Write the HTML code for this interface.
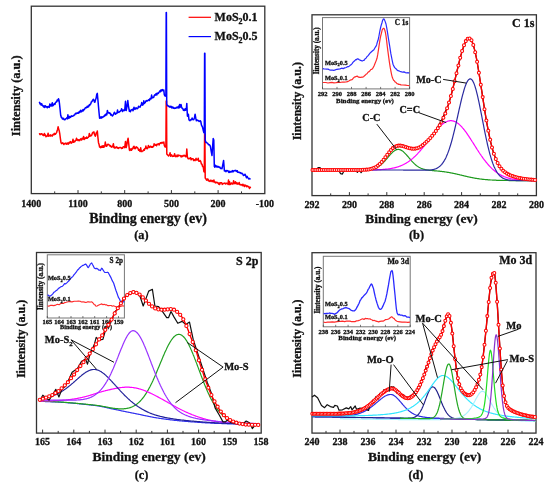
<!DOCTYPE html>
<html><head><meta charset="utf-8"><style>
html,body{margin:0;padding:0;background:#fff;}
svg{display:block;filter:blur(0.25px);}
text{font-family:"Liberation Serif",serif;fill:#111;stroke:#111;stroke-width:0.3px;}
</style></head><body>
<svg width="550" height="485" viewBox="0 0 550 485">
<rect width="550" height="485" fill="#fff"/>
<rect x="31.3" y="6.2" width="233.5" height="187.4" fill="none" stroke="#333" stroke-width="1.3"/>
<line x1="78" y1="193.6" x2="78" y2="190.1" stroke="#333" stroke-width="1.0"/>
<line x1="124.7" y1="193.6" x2="124.7" y2="190.1" stroke="#333" stroke-width="1.0"/>
<line x1="171.4" y1="193.6" x2="171.4" y2="190.1" stroke="#333" stroke-width="1.0"/>
<line x1="218.1" y1="193.6" x2="218.1" y2="190.1" stroke="#333" stroke-width="1.0"/>
<line x1="54.7" y1="193.6" x2="54.7" y2="191.4" stroke="#333" stroke-width="1.0"/>
<line x1="101.3" y1="193.6" x2="101.3" y2="191.4" stroke="#333" stroke-width="1.0"/>
<line x1="148.1" y1="193.6" x2="148.1" y2="191.4" stroke="#333" stroke-width="1.0"/>
<line x1="194.8" y1="193.6" x2="194.8" y2="191.4" stroke="#333" stroke-width="1.0"/>
<line x1="241.5" y1="193.6" x2="241.5" y2="191.4" stroke="#333" stroke-width="1.0"/>
<text x="31.3" y="206.5" font-size="10" text-anchor="middle" font-weight="bold" >1400</text>
<text x="78" y="206.5" font-size="10" text-anchor="middle" font-weight="bold" >1100</text>
<text x="124.7" y="206.5" font-size="10" text-anchor="middle" font-weight="bold" >800</text>
<text x="171.4" y="206.5" font-size="10" text-anchor="middle" font-weight="bold" >500</text>
<text x="218.1" y="206.5" font-size="10" text-anchor="middle" font-weight="bold" >200</text>
<text x="264.8" y="206.5" font-size="10" text-anchor="middle" font-weight="bold" >-100</text>
<text x="148.1" y="222.7" font-size="14" text-anchor="middle" font-weight="bold" >Binding energy (ev)</text>
<text x="141.4" y="239.3" font-size="12.3" text-anchor="middle" font-weight="bold" >(a)</text>
<text x="0" y="0" font-size="12.4" text-anchor="middle" font-weight="bold" transform="translate(19.8,95.75) rotate(-90)">Iintensity (a.u.)</text>
<polyline points="39,134 39.5,133.8 40,134.6 40.5,134.5 41,133.7 41.5,133.8 42,134 42.5,134.9 43,134.4 43.5,135.6 44,135.6 44.5,133.6 45,135.3 45.5,135.1 46,136.7 46.5,136.2 47,136.3 47.5,135.7 48.1,133.2 48.6,136.2 49.1,135.3 49.6,135.5 50.1,136.1 50.7,134.9 51.2,135.4 51.7,135.7 52.2,136.1 52.8,134.8 53.3,134.2 53.8,134.8 54.4,133.4 54.9,134.4 55.5,134.2 56,133.4 56.6,132.6 57.1,130.8 57.6,129.4 58.1,126.8 58.7,129.1 59.2,130.7 59.8,134 60.4,138.6 61,142.7 61.6,143.7 62.2,143.2 62.7,142.8 63.3,143.5 63.9,144.5 64.4,143.5 64.9,143.5 65.4,143.8 65.9,143.1 66.4,143.9 66.9,144.3 67.4,143 67.9,143 68.5,144.1 69,142.4 69.5,142.3 70,142.9 70.5,141.6 71,142.2 71.5,143.2 72,142.2 72.5,142 73,139.2 73.5,142.3 74,142.2 74.5,141.2 75,141.5 75.5,140.3 76,140.3 76.5,138.2 77,139.9 77.5,139.6 78.1,140.6 78.6,139.8 79.1,139.8 79.6,140.7 80.1,139.8 80.6,138.9 81.1,139.2 81.6,140 82.1,138.3 82.6,139.1 83.1,138.9 83.6,136.4 84.1,139.4 84.7,138.7 85.2,137.8 85.7,138.4 86.2,138.2 86.7,136.9 87.2,138.2 87.7,137.6 88.3,137.3 88.8,136.6 89.3,133.5 89.8,136.2 90.3,135.2 90.8,136 91.3,135.5 91.8,135 92.4,133 92.9,132.4 93.4,132.7 93.9,131.9 94.6,134.7 95.3,136.2 95.8,135.2 96.3,132.7 96.8,133 97.3,130.9 97.9,137.3 98.5,142.7 99,144.2 99.6,147 100.1,146.6 100.6,147.8 101.2,146.6 101.7,147.1 102.2,145.9 102.7,147.3 103.3,145.7 103.8,147.3 104.3,146.3 104.8,145.8 105.3,142 105.9,145.9 106.4,146.3 106.9,145.9 107.5,144.4 108,144.3 108.5,144.5 109,145 109.6,145 110.1,146.3 110.7,145.7 111.2,146.9 111.7,147.2 112.3,146.7 112.8,146 113.4,143.8 113.9,147.6 114.4,146.9 114.9,148.1 115.4,147.3 116,147.7 116.5,146.8 117,147.1 117.5,148.1 118,147.7 118.5,148.4 119,147.8 119.6,147.6 120.1,147.5 120.6,147.6 121.1,148 121.6,148.5 122.1,147.7 122.6,148.3 123.2,146.8 123.7,146.7 124.2,146.7 124.7,147.6 125.5,141.4 126.2,147.6 126.8,145.1 127.5,140.7 128.1,138.3 128.8,144.4 129.4,149.9 129.9,150.5 130.4,149 130.9,149.2 131.5,150.3 132,148.5 132.5,149 133,148.2 133.5,146.7 134,146.3 134.5,148.6 135,147.3 135.6,148.6 136.1,147.1 136.6,146.8 137.1,147.6 137.6,147.8 138.1,148.7 138.6,150.2 139.2,149.5 139.7,151 140.2,151.5 140.7,147.8 141.2,150.8 141.8,151.6 142.3,151.1 142.8,150.9 143.3,150.7 143.8,149.4 144.3,150.3 144.8,148.4 145.4,148.4 145.9,146.1 146.4,148.4 146.9,147.9 147.4,148.6 147.9,147.9 148.4,145.5 149,146.6 149.5,147.5 150,147.1 150.5,146.2 151,146.7 151.5,147.3 152,146.5 152.5,147.3 153,146.8 153.6,146.3 154.1,143.8 154.6,144.8 155.1,145 155.6,145.3 156.1,144.3 156.6,145.7 157.1,144.4 157.6,144.2 158.1,143.8 158.6,143.8 159.1,145.1 159.6,143.5 160.1,143.4 160.6,142.7 161.1,143.4 161.6,142.7 162.1,142.2 162.6,143 163.2,143.1 163.8,142 164.3,145.3 164.9,146.8 165.4,147 165.9,147 166.2,101 166.5,101 166.8,154 167.6,155 168.1,155.4 168.6,155.9 169.1,154.9 169.6,154.6 170.1,152.8 170.6,156.2 171.1,156 171.6,154.9 172.1,155.7 172.6,156.4 173.1,156 173.6,156.3 174.1,156 174.6,153.7 175.1,155.7 175.6,156.7 176.1,156.3 176.6,156.4 177.1,155 177.6,156.5 178.1,156.1 178.6,155.1 179.1,155.5 179.6,155.5 180.1,155.4 180.6,156 181.1,157 181.6,155.9 182.2,156.5 182.7,156.4 183.2,155.4 183.7,155.8 184.2,155.9 184.7,155.4 185.3,155.9 185.8,156.8 186.3,156.5 186.8,149.1 187.4,157 188.1,158.7 188.6,158.4 189.1,158.8 189.6,158.2 190.1,158.4 190.6,157.7 191.1,159.8 191.6,159.1 192.1,158.7 192.6,158.8 193.1,158.8 193.6,160.5 194.1,160.3 194.6,159.7 195.1,160.6 195.6,159.3 196.1,158.4 196.6,160 197.1,159.7 197.7,159.9 198.2,158.2 198.7,161 199.2,161.3 199.7,161.3 200.2,160.6 200.8,161.6 201.4,164.1 202,164.3 202.6,166.5 203.3,167.1 203.9,171.7 204.3,172 204.6,134 204.9,134 205.2,178 205.8,178.7 206.3,179.6 206.8,180.1 207.4,179 207.9,179.1 208.4,180.9 208.9,180.3 209.4,181.1 209.9,181.5 210.4,180.9 210.9,180.1 211.5,181 212,181.6 212.5,180.6 213,180.9 213.5,181.8 213.9,180 214.3,182 214.9,181.9 215.4,182.9 216,182.1 216.5,182.4 217.1,182.8 217.6,182.5 218.2,183.4 218.7,184.2 219.2,182.9 219.7,184.5 220.3,182.8 220.8,182.7 221.3,182.7 221.8,183.1 222.3,184.4 222.8,183.5 223.3,183.7 223.8,183.4 224.4,183.3 224.9,183 225.4,184 225.9,183.8 226.4,183.2 226.9,183.3 227.4,183.6 228,184.4 228.5,180 229,184.5 229.5,181.7 230,184.5 230.6,184.3 231.1,183.1 231.6,182.9 232.1,183.9 232.6,184 233.1,184 233.6,180.7 234.2,182.9 234.7,183.7 235.2,183.4 235.5,181.8 236,183.5 236.5,182.9 237.1,184.1 237.6,183.1 238.2,184.1 238.7,184 239.2,182.5 239.8,184.4 240.3,184.9 240.9,184.7 241.4,184.9 241.9,184.5 242.4,185.6 242.9,184.3 243.5,185.8 244,185.1 244.5,186.6 245,184.9 245.5,185.8 246.1,185.5 246.6,186.7 247.1,185.8 247.6,186.5 248.1,186.4 248.6,186.5 249.1,187.8 249.6,188.4 250.1,187.1 250.6,188" fill="none" stroke="#ff0000" stroke-width="1.5" stroke-linejoin="round" />
<polyline points="39,102 39.5,102.4 40.1,104 40.6,103.4 41.1,105.1 41.7,103.8 42.2,105.2 42.7,105.2 43.2,106.5 43.7,107 44.2,105.9 44.8,107.4 45.3,105.8 45.8,106.8 46.3,106.9 46.8,106.5 47.3,107.8 47.8,107.2 48.3,106.5 48.8,106.5 49.3,107.4 49.8,104.1 50.3,106 50.8,105.4 51.3,104.4 51.8,106.1 52.3,102.7 52.8,105.8 53.3,105.2 53.8,104.5 54.4,103.7 54.9,104.4 55.5,102.5 56,102.1 56.6,102 57.2,99.9 57.9,100.6 58.5,98.7 59,100.2 59.5,103.8 60.1,109.5 60.7,115.3 61.3,117.4 61.8,117.2 62.4,118.9 63,119 63.6,118.4 64.1,119.6 64.7,119.8 65.3,119.3 65.8,118.7 66.3,118.6 66.9,117.7 67.4,118.9 67.9,114.8 68.4,117.5 68.9,118.4 69.4,116.9 70,116.4 70.5,117.4 71,116.7 71.5,115.9 72,116.3 72.6,116.3 73.1,115.8 73.6,115.8 74.1,115 74.7,115 75.2,113.7 75.7,113.2 76.2,113.8 76.7,113.1 77.3,113 77.8,113.3 78.3,112.4 78.8,113.1 79.3,111.8 79.9,112.3 80.4,110.4 80.9,110.3 81.4,111.8 81.9,111.4 82.4,111 83,109.5 83.5,110.7 84,109.5 84.5,109.3 85.1,108.2 85.6,107.6 86.1,107.4 86.6,107.8 87.2,106.2 87.7,107.1 88.2,106 88.7,106.6 89.3,104.7 89.8,105.2 90.3,104.2 90.8,103.8 91.3,102 91.9,101.7 92.4,100.7 92.9,99.9 93.4,99.4 93.9,100.1 94.4,102.1 94.9,102.3 95.5,99.8 96.1,98.3 96.7,94.6 97.3,93.4 97.9,99.8 98.5,106.6 99,112.2 99.6,118.2 100.1,118 100.7,117 101.2,118.1 101.7,116.9 102.3,117.4 102.8,117.5 103.4,116.3 104,116.5 104.6,115.9 105.2,114.6 105.7,115.5 106.3,113.8 106.8,114.8 107.4,110.4 107.9,112.8 108.5,112.5 109.1,113.2 109.6,112.8 110.2,113.4 110.7,115.1 111.3,114.3 111.8,115.2 112.4,115.9 112.9,115.3 113.4,114.7 113.9,113.3 114.4,112.2 114.9,113.5 115.5,114.1 116,113.2 116.5,113.5 117,113.3 117.5,110 118,112.3 118.5,112 119,112.4 119.5,111.7 120,111.6 120.6,110.8 121.1,110.6 121.6,108.7 122.1,110.3 122.6,111.6 123.2,110 123.7,110.5 124.2,109.9 124.7,110.5 125.5,101.2 126.2,110.5 126.7,108.2 127.3,104.5 127.8,100.5 128.3,105.1 128.9,108.6 129.4,111.3 129.9,110.4 130.4,111.7 130.9,110.4 131.5,109.8 132,109.8 132.5,109.3 133,110.7 133.5,109.2 134,107.3 134.5,108.6 135,109.4 135.6,108.2 136.1,107.8 136.6,108.7 137.1,108.2 137.6,108.6 138.1,107.6 138.6,106.3 139.2,107 139.7,107 140.2,107 140.7,105.4 141.2,105.2 141.7,102.6 142.2,104.1 142.7,105.2 143.3,104.2 143.8,100.8 144.3,103.4 144.8,102.8 145.3,102.5 145.8,101.3 146.4,100.5 146.9,101.1 147.4,100.7 147.9,100.8 148.4,99.7 149,99.9 149.5,100.4 150,98.5 150.5,99.1 151,99 151.6,95.1 152.1,97.9 152.6,97.4 153.1,97.3 153.7,97.4 154.2,95.7 154.7,94.8 155.3,95.1 155.8,94 156.3,93.5 156.8,95 157.4,93.1 157.9,93.3 158.4,93.5 159,92 159.5,92 160,90.7 160.5,91.8 161.1,89.8 161.6,90.9 162.1,90.5 162.6,89.6 163.2,90.6 163.8,90.1 164.3,94.7 164.9,95.8 165.4,96.1 165.9,95 166.2,12.4 166.4,12.4 166.7,104 167.4,105.8 167.9,105.5 168.4,106.1 168.9,106.5 169.4,107 169.9,106.3 170.4,107.1 170.9,106.2 171.4,106.7 171.9,108.1 172.4,106.9 172.9,107 173.5,108.2 174,107.8 174.5,108.4 175,108.2 175.5,108.3 176,107.6 176.5,107.9 177,107 177.5,107.5 178,108 178.6,106.2 179.1,107.9 179.6,104.6 180.1,107.2 180.6,106.7 181,104.5 181.6,107 182.2,108.5 182.8,108.4 183.4,110.4 184,109.8 184.6,110.5 185.1,108.7 185.7,110.1 186.3,109 186.8,103.4 187.4,116 187.9,116.2 188.4,114.2 188.9,119.4 189.4,120.4 189.9,120.7 190.4,120.1 191,119.6 191.5,119.7 192.1,118 192.6,119.6 193.2,119.6 193.7,119.7 194.4,117.9 195.1,114.2 195.8,118.2 196.4,120.7 196.9,119.8 197.5,120.6 198,120.4 198.6,120.8 199.1,121.4 199.7,121.3 200.2,120.7 200.8,121.5 201.4,124.9 202,126.2 202.6,127.4 203.3,130.5 203.9,132.7 204.3,133 204.6,53.3 204.9,53.3 205.2,140 205.8,142.4 206.3,142.2 206.8,142.9 207.4,143.1 207.9,143.5 208.4,144.7 208.9,144.7 209.4,144.7 210,145.4 210.5,147 211,150.2 211.5,152.9 212,155.5 212.6,146.8 213.2,138.5 213.8,140 214.3,166.4 214.9,167.2 215.4,165.3 216,165.9 216.5,166.4 217.1,167.2 217.6,166.3 218.2,166.4 218.7,167.2 219.3,167.3 219.8,167 220.4,168.4 220.9,168.5 221.5,168.2 222,168.7 222.5,166.1 223.1,163.2 223.6,160.5 224.4,171 224.9,170.5 225.4,170.7 225.9,171.8 226.5,170.5 227,170.9 227.5,170.6 228,170.8 228.5,171.9 229,172.4 229.5,171.3 230,172.2 230.6,171.5 231.1,172 231.6,171.2 232.1,171.8 232.6,170.6 233.1,171.8 233.6,171 234.2,170.7 234.7,170.7 235.2,170.2 235.7,170.9 236.2,170.6 236.8,171.5 237.3,170.7 237.8,172.3 238.3,172.2 238.8,172.4 239.3,172.2 239.8,172.8 240.4,172.6 240.9,173.5 241.4,173.3 241.9,173.1 242.4,173.9 242.9,174.2 243.4,175.5 244,175.3 244.5,175.1 245,174.2 245.5,175.4 246,176.4 246.5,177.7 247.1,176.4 247.6,177.6 248.2,178 248.7,179 249.2,178.5 249.8,178.5 250.3,179.5" fill="none" stroke="#0000ff" stroke-width="1.5" stroke-linejoin="round" />
<line x1="188.6" y1="17.3" x2="211" y2="17.3" stroke="#ff0000" stroke-width="1.2"/>
<line x1="188.6" y1="36.6" x2="211" y2="36.6" stroke="#0000ff" stroke-width="1.2"/>
<text x="214.6" y="21.2" font-size="12" font-weight="bold">MoS<tspan font-size="8" dy="3">2</tspan><tspan dy="-3">0.1</tspan></text>
<text x="214.6" y="40.3" font-size="12" font-weight="bold">MoS<tspan font-size="8" dy="3">2</tspan><tspan dy="-3">0.5</tspan></text>
<rect x="312" y="14.8" width="224.4" height="180.8" fill="none" stroke="#333" stroke-width="1.3"/>
<line x1="349.4" y1="195.6" x2="349.4" y2="192.1" stroke="#333" stroke-width="1.0"/>
<line x1="386.8" y1="195.6" x2="386.8" y2="192.1" stroke="#333" stroke-width="1.0"/>
<line x1="424.2" y1="195.6" x2="424.2" y2="192.1" stroke="#333" stroke-width="1.0"/>
<line x1="461.6" y1="195.6" x2="461.6" y2="192.1" stroke="#333" stroke-width="1.0"/>
<line x1="499" y1="195.6" x2="499" y2="192.1" stroke="#333" stroke-width="1.0"/>
<line x1="330.7" y1="195.6" x2="330.7" y2="193.4" stroke="#333" stroke-width="1.0"/>
<line x1="368.1" y1="195.6" x2="368.1" y2="193.4" stroke="#333" stroke-width="1.0"/>
<line x1="405.5" y1="195.6" x2="405.5" y2="193.4" stroke="#333" stroke-width="1.0"/>
<line x1="442.9" y1="195.6" x2="442.9" y2="193.4" stroke="#333" stroke-width="1.0"/>
<line x1="480.3" y1="195.6" x2="480.3" y2="193.4" stroke="#333" stroke-width="1.0"/>
<line x1="517.7" y1="195.6" x2="517.7" y2="193.4" stroke="#333" stroke-width="1.0"/>
<text x="312" y="207.8" font-size="10" text-anchor="middle" font-weight="bold" >292</text>
<text x="349.4" y="207.8" font-size="10" text-anchor="middle" font-weight="bold" >290</text>
<text x="386.8" y="207.8" font-size="10" text-anchor="middle" font-weight="bold" >288</text>
<text x="424.2" y="207.8" font-size="10" text-anchor="middle" font-weight="bold" >286</text>
<text x="461.6" y="207.8" font-size="10" text-anchor="middle" font-weight="bold" >284</text>
<text x="499" y="207.8" font-size="10" text-anchor="middle" font-weight="bold" >282</text>
<text x="536.4" y="207.8" font-size="10" text-anchor="middle" font-weight="bold" >280</text>
<text x="421.5" y="222.7" font-size="13.4" text-anchor="middle" font-weight="bold" >Binding energy (ev)</text>
<text x="416.5" y="239.3" font-size="12.3" text-anchor="middle" font-weight="bold" >(b)</text>
<text x="0" y="0" font-size="12.0" text-anchor="middle" font-weight="bold" transform="translate(300.8,101.2) rotate(-90)">Iintensity (a.u.)</text>
<text x="534.4" y="26.7" font-size="12" text-anchor="end" font-weight="bold" >C 1s</text>
<polyline points="372,169.1 372.5,169 373,168.9 373.5,168.7 374,168.6 374.5,168.4 375,168.2 375.5,168.1 376,167.8 376.5,167.6 377,167.4 377.5,167.1 378,166.8 378.5,166.5 379,166.2 379.5,165.9 380,165.5 380.5,165.1 381,164.7 381.5,164.3 382,163.8 382.5,163.4 383,162.9 383.5,162.4 384,161.9 384.5,161.3 385,160.8 385.5,160.2 386,159.6 386.5,159.1 387,158.5 387.5,157.9 388,157.3 388.5,156.7 389,156.1 389.5,155.5 390,154.9 390.5,154.4 391,153.8 391.5,153.3 392,152.8 392.5,152.3 393,151.9 393.5,151.5 394,151.1 394.5,150.7 395,150.4 395.5,150.1 396,149.9 396.5,149.7 397,149.6 397.5,149.5 398,149.4 398.5,149.4 399,149.5 399.5,149.6 400,149.7 400.5,149.9 401,150.1 401.5,150.4 402,150.7 402.5,151 403,151.4 403.5,151.8 404,152.3 404.5,152.8 405,153.3 405.5,153.8 406,154.3 406.5,154.9 407,155.5 407.5,156 408,156.6 408.5,157.2 409,157.8 409.5,158.4 410,159 410.5,159.6 411,160.2 411.5,160.8 412,161.3 412.5,161.9 413,162.4 413.5,162.9 414,163.4 414.5,163.9 415,164.3 415.5,164.8 416,165.2 416.5,165.6 417,166 417.5,166.3 418,166.6 418.5,167 419,167.3 419.5,167.5 420,167.8 420.5,168 421,168.3 421.5,168.5 422,168.7 422.5,168.8 423,169 423.5,169.2 424,169.3 424.5,169.4 425,169.5 425.5,169.7 426,169.8 426.5,169.8 427,169.9 427.5,170 428,170.1 428.5,170.2 429,170.2 429.5,170.3 430,170.3 430.5,170.4 431,170.4 431.5,170.5 432,170.5 432.5,170.6 433,170.6 433.5,170.7 434,170.7 434.5,170.8 435,170.8 435.5,170.8 436,170.9 436.5,170.9 437,171 437.5,171 438,171.1 438.5,171.1 439,171.2 439.5,171.2 440,171.3 440.5,171.3 441,171.4 441.5,171.4 442,171.5 442.5,171.6 443,171.6 443.5,171.7 444,171.7 444.5,171.8 445,171.9 445.5,172 446,172 446.5,172.1 447,172.2 447.5,172.3 448,172.3 448.5,172.4 449,172.5 449.5,172.6 450,172.7 450.5,172.8 451,172.9 451.5,173 452,173.1 452.5,173.2 453,173.3 453.5,173.4 454,173.5 454.5,173.6 455,173.7 455.5,173.8 456,173.9 456.5,174 457,174.2 457.5,174.3 458,174.4 458.5,174.5 459,174.6 459.5,174.7 460,174.9 460.5,175 461,175.1 461.5,175.2 462,175.3 462.5,175.5 463,175.6 463.5,175.7 464,175.8 464.5,176 465,176.1 465.5,176.2 466,176.3 466.5,176.4 467,176.5 467.5,176.7 468,176.8 468.5,176.9 469,177 469.5,177.1 470,177.2 470.5,177.3 471,177.4 471.5,177.5 472,177.6 472.5,177.7 473,177.8 473.5,177.9 474,178 474.5,178.1 475,178.2 475.5,178.3 476,178.4 476.5,178.4 477,178.5 477.5,178.6 478,178.7 478.5,178.7 479,178.8 479.5,178.9 480,179 480.5,179 481,179.1 481.5,179.1 482,179.2 482.5,179.3 483,179.3 483.5,179.4 484,179.4 484.5,179.5 485,179.5 485.5,179.6 486,179.6 486.5,179.7 487,179.7 487.5,179.7 488,179.8 488.5,179.8 489,179.9 489.5,179.9 490,179.9 490.5,180 491,180 491.5,180 492,180 492.5,180.1 493,180.1 493.5,180.1 494,180.1 494.5,180.2 495,180.2 495.5,180.2 496,180.2 496.5,180.3 497,180.3 497.5,180.3 498,180.3 498.5,180.3 499,180.3 499.5,180.4 500,180.4 500.5,180.4 501,180.4 501.5,180.4 502,180.4 502.5,180.4 503,180.4 503.5,180.5 504,180.5 504.5,180.5 505,180.5 505.5,180.5 506,180.5 506.5,180.5 507,180.5 507.5,180.5 508,180.5 508.5,180.5 509,180.6 509.5,180.6 510,180.6 510.5,180.6 511,180.6 511.5,180.6 512,180.6 512.5,180.6 513,180.6 513.5,180.6 514,180.6 514.5,180.6 515,180.6 515.5,180.6 516,180.6 516.5,180.6 517,180.6 517.5,180.6 518,180.6 518.5,180.6 519,180.6 519.5,180.6 520,180.6 520.5,180.6 521,180.7 521.5,180.7 522,180.7 522.5,180.7 523,180.7 523.5,180.7 524,180.7 524.5,180.7 525,180.7 525.5,180.7 526,180.7 526.5,180.7 527,180.7 527.5,180.7 528,180.7 528.5,180.7 529,180.7 529.5,180.7 530,180.7 530.5,180.7 531,180.7 531.5,180.7 532,180.7 532.5,180.7 533,180.7 533.5,180.7 534,180.7 534.5,180.7 535,180.7 535.5,180.7 536,180.7" fill="none" stroke="#1e9a1e" stroke-width="1.2" stroke-linejoin="round" />
<polyline points="372,169.9 372.5,169.9 373,169.9 373.5,169.9 374,169.8 374.5,169.8 375,169.8 375.5,169.8 376,169.8 376.5,169.8 377,169.8 377.5,169.7 378,169.7 378.5,169.7 379,169.7 379.5,169.7 380,169.6 380.5,169.6 381,169.6 381.5,169.5 382,169.5 382.5,169.5 383,169.4 383.5,169.4 384,169.4 384.5,169.3 385,169.3 385.5,169.2 386,169.2 386.5,169.1 387,169.1 387.5,169 388,169 388.5,168.9 389,168.8 389.5,168.8 390,168.7 390.5,168.6 391,168.5 391.5,168.4 392,168.3 392.5,168.2 393,168.1 393.5,168 394,167.9 394.5,167.8 395,167.7 395.5,167.6 396,167.4 396.5,167.3 397,167.1 397.5,167 398,166.8 398.5,166.7 399,166.5 399.5,166.3 400,166.1 400.5,165.9 401,165.7 401.5,165.5 402,165.3 402.5,165.1 403,164.8 403.5,164.6 404,164.3 404.5,164.1 405,163.8 405.5,163.5 406,163.2 406.5,162.9 407,162.6 407.5,162.3 408,162 408.5,161.6 409,161.3 409.5,160.9 410,160.6 410.5,160.2 411,159.8 411.5,159.4 412,159 412.5,158.6 413,158.1 413.5,157.7 414,157.2 414.5,156.8 415,156.3 415.5,155.8 416,155.3 416.5,154.8 417,154.3 417.5,153.8 418,153.2 418.5,152.7 419,152.1 419.5,151.6 420,151 420.5,150.4 421,149.8 421.5,149.2 422,148.6 422.5,148 423,147.4 423.5,146.8 424,146.1 424.5,145.5 425,144.9 425.5,144.2 426,143.6 426.5,142.9 427,142.3 427.5,141.6 428,141 428.5,140.3 429,139.6 429.5,139 430,138.3 430.5,137.6 431,137 431.5,136.3 432,135.7 432.5,135 433,134.4 433.5,133.8 434,133.1 434.5,132.5 435,131.9 435.5,131.3 436,130.7 436.5,130.1 437,129.5 437.5,129 438,128.4 438.5,127.9 439,127.4 439.5,126.9 440,126.4 440.5,125.9 441,125.4 441.5,125 442,124.6 442.5,124.2 443,123.8 443.5,123.4 444,123.1 444.5,122.7 445,122.4 445.5,122.2 446,121.9 446.5,121.7 447,121.5 447.5,121.3 448,121.1 448.5,121 449,120.9 449.5,120.8 450,120.7 450.5,120.7 451,120.7 451.5,120.7 452,120.8 452.5,120.8 453,120.9 453.5,121.1 454,121.2 454.5,121.4 455,121.6 455.5,121.8 456,122.1 456.5,122.4 457,122.7 457.5,123.1 458,123.4 458.5,123.8 459,124.2 459.5,124.7 460,125.1 460.5,125.6 461,126.1 461.5,126.6 462,127.2 462.5,127.8 463,128.3 463.5,129 464,129.6 464.5,130.2 465,130.9 465.5,131.5 466,132.2 466.5,132.9 467,133.6 467.5,134.4 468,135.1 468.5,135.8 469,136.6 469.5,137.4 470,138.1 470.5,138.9 471,139.7 471.5,140.5 472,141.3 472.5,142 473,142.8 473.5,143.6 474,144.4 474.5,145.2 475,146 475.5,146.8 476,147.6 476.5,148.4 477,149.2 477.5,150 478,150.7 478.5,151.5 479,152.3 479.5,153 480,153.8 480.5,154.5 481,155.2 481.5,156 482,156.7 482.5,157.4 483,158.1 483.5,158.8 484,159.4 484.5,160.1 485,160.7 485.5,161.4 486,162 486.5,162.6 487,163.2 487.5,163.8 488,164.4 488.5,165 489,165.5 489.5,166.1 490,166.6 490.5,167.1 491,167.6 491.5,168.1 492,168.6 492.5,169.1 493,169.5 493.5,170 494,170.4 494.5,170.8 495,171.2 495.5,171.6 496,172 496.5,172.3 497,172.7 497.5,173 498,173.4 498.5,173.7 499,174 499.5,174.3 500,174.6 500.5,174.9 501,175.1 501.5,175.4 502,175.7 502.5,175.9 503,176.1 503.5,176.3 504,176.6 504.5,176.8 505,177 505.5,177.1 506,177.3 506.5,177.5 507,177.7 507.5,177.8 508,178 508.5,178.1 509,178.3 509.5,178.4 510,178.5 510.5,178.6 511,178.7 511.5,178.9 512,179 512.5,179.1 513,179.1 513.5,179.2 514,179.3 514.5,179.4 515,179.5 515.5,179.5 516,179.6 516.5,179.7 517,179.7 517.5,179.8 518,179.9 518.5,179.9 519,180 519.5,180 520,180 520.5,180.1 521,180.1 521.5,180.2 522,180.2 522.5,180.2 523,180.3 523.5,180.3 524,180.3 524.5,180.3 525,180.4 525.5,180.4 526,180.4 526.5,180.4 527,180.4 527.5,180.5 528,180.5 528.5,180.5 529,180.5 529.5,180.5 530,180.5 530.5,180.5 531,180.6 531.5,180.6 532,180.6 532.5,180.6 533,180.6 533.5,180.6 534,180.6 534.5,180.6 535,180.6 535.5,180.6 536,180.6" fill="none" stroke="#ff00ff" stroke-width="1.2" stroke-linejoin="round" />
<polyline points="372,170 372.5,170 373,170 373.5,170 374,170 374.5,170 375,170 375.5,170 376,170 376.5,170 377,170 377.5,170 378,170 378.5,170 379,170 379.5,170 380,170 380.5,170 381,170 381.5,170 382,170 382.5,170 383,170 383.5,170 384,170 384.5,170 385,170 385.5,170 386,170 386.5,170 387,170 387.5,170 388,170 388.5,170 389,170 389.5,170 390,170 390.5,170 391,170 391.5,170 392,170 392.5,170 393,170 393.5,170 394,170 394.5,170 395,170 395.5,170 396,170 396.5,170 397,170 397.5,170 398,170 398.5,170 399,170 399.5,170 400,170 400.5,170 401,170 401.5,170 402,170 402.5,170 403,170 403.5,170.1 404,170.1 404.5,170.1 405,170.1 405.5,170.1 406,170.1 406.5,170.1 407,170.1 407.5,170.1 408,170.1 408.5,170.1 409,170.1 409.5,170.1 410,170.1 410.5,170.1 411,170.1 411.5,170.1 412,170.1 412.5,170.1 413,170.1 413.5,170.1 414,170.1 414.5,170.1 415,170.1 415.5,170.1 416,170.2 416.5,170.2 417,170.2 417.5,170.2 418,170.2 418.5,170.2 419,170.2 419.5,170.2 420,170.2 420.5,170.2 421,170.2 421.5,170.2 422,170.2 422.5,170.2 423,170.2 423.5,170.2 424,170.2 424.5,170.2 425,170.2 425.5,170.2 426,170.2 426.5,170.2 427,170.2 427.5,170.2 428,170.1 428.5,170.1 429,170.1 429.5,170 430,170 430.5,170 431,169.9 431.5,169.8 432,169.8 432.5,169.7 433,169.6 433.5,169.5 434,169.3 434.5,169.2 435,169 435.5,168.9 436,168.7 436.5,168.4 437,168.2 437.5,167.9 438,167.6 438.5,167.3 439,166.9 439.5,166.5 440,166.1 440.5,165.7 441,165.1 441.5,164.6 442,164 442.5,163.4 443,162.7 443.5,161.9 444,161.1 444.5,160.3 445,159.4 445.5,158.4 446,157.4 446.5,156.3 447,155.1 447.5,153.9 448,152.6 448.5,151.3 449,149.9 449.5,148.4 450,146.8 450.5,145.2 451,143.5 451.5,141.8 452,140 452.5,138.1 453,136.2 453.5,134.2 454,132.2 454.5,130.1 455,128 455.5,125.8 456,123.6 456.5,121.4 457,119.2 457.5,117 458,114.7 458.5,112.5 459,110.2 459.5,108 460,105.8 460.5,103.6 461,101.5 461.5,99.4 462,97.4 462.5,95.4 463,93.6 463.5,91.8 464,90 464.5,88.4 465,86.9 465.5,85.5 466,84.3 466.5,83.1 467,82.1 467.5,81.2 468,80.4 468.5,79.8 469,79.4 469.5,79.1 470,78.9 470.5,78.9 471,79.1 471.5,79.4 472,79.9 472.5,80.6 473,81.4 473.5,82.4 474,83.6 474.5,84.9 475,86.4 475.5,88 476,89.7 476.5,91.6 477,93.6 477.5,95.7 478,97.8 478.5,100.1 479,102.4 479.5,104.8 480,107.3 480.5,109.8 481,112.4 481.5,114.9 482,117.5 482.5,120.1 483,122.7 483.5,125.2 484,127.8 484.5,130.3 485,132.8 485.5,135.2 486,137.6 486.5,140 487,142.2 487.5,144.5 488,146.6 488.5,148.7 489,150.7 489.5,152.6 490,154.5 490.5,156.2 491,157.9 491.5,159.5 492,161 492.5,162.5 493,163.9 493.5,165.2 494,166.4 494.5,167.5 495,168.6 495.5,169.6 496,170.5 496.5,171.4 497,172.2 497.5,173 498,173.7 498.5,174.3 499,174.9 499.5,175.5 500,176 500.5,176.4 501,176.8 501.5,177.2 502,177.6 502.5,177.9 503,178.2 503.5,178.4 504,178.7 504.5,178.9 505,179.1 505.5,179.3 506,179.4 506.5,179.6 507,179.7 507.5,179.8 508,179.9 508.5,180 509,180.1 509.5,180.1 510,180.2 510.5,180.2 511,180.3 511.5,180.3 512,180.4 512.5,180.4 513,180.4 513.5,180.5 514,180.5 514.5,180.5 515,180.5 515.5,180.5 516,180.6 516.5,180.6 517,180.6 517.5,180.6 518,180.6 518.5,180.6 519,180.6 519.5,180.6 520,180.6 520.5,180.6 521,180.6 521.5,180.6 522,180.6 522.5,180.7 523,180.7 523.5,180.7 524,180.7 524.5,180.7 525,180.7 525.5,180.7 526,180.7 526.5,180.7 527,180.7 527.5,180.7 528,180.7 528.5,180.7 529,180.7 529.5,180.7 530,180.7 530.5,180.7 531,180.7 531.5,180.7 532,180.7 532.5,180.7 533,180.7 533.5,180.7 534,180.7 534.5,180.7 535,180.7 535.5,180.7 536,180.7" fill="none" stroke="#2b2ba0" stroke-width="1.2" stroke-linejoin="round" />
<polyline points="312.5,169.8 314.4,170 316.2,169.9 318.1,167.6 320,167.6 321.9,169.6 323.7,169.6 325.6,170.2 327.5,169.8 329.3,169.8 331.2,170.4 333.1,169.9 334.9,170.2 336.8,169.9 338.7,170.1 340.6,173.7 342.4,174.1 344.3,170.3 346.2,170 348,170.2 349.9,170.1 351.8,169.6 353.6,170.2 355.5,170 357.4,172.3 359.3,169.5 361.1,172.7 363,169.8 364.9,169.9 366.7,169.9 368.6,169.5 370.5,169.4 372.3,168.4 374.2,168.1 376.1,166.8 378,165.9 379.8,164.3 381.7,161.7 383.6,159.5 385.4,157.1 387.3,155.1 389.2,152.2 391,150 392.9,147.9 394.8,146.7 396.7,145.8 398.5,145.5 400.4,144.5 402.3,144.8 404.1,145.6 406,147.2 407.9,148.1 409.7,148.6 411.6,149 413.5,148.9 415.4,148.3 417.2,148.4 419.1,147.8 421,146.7 422.8,145.1 424.7,143.7 426.6,141.6 428.4,140.2 430.3,138 432.2,135.6 434.1,133.1 435.9,131.2 437.8,127.1 439.7,123.3 441.5,120.5 443.4,116.3 445.3,111.6 447.1,108.1 449,102.7 450.9,96.3 452.8,88.5 454.6,81.3 456.5,72.9 458.4,65.5 460.2,57.7 462.1,51.3 464,45.7 465.8,41.1 467.7,39.1 469.6,38.2 471.5,40 473.3,45.1 475.2,51.9 477.1,61.5 478.9,72.7 480.8,84.9 482.7,96.9 484.5,108.8 486.4,120.8 488.3,130.6 490.2,140.1 492,147.7 493.9,153.7 495.8,158.9 497.6,163 499.5,166.4 501.4,168.9 503.2,170.8 505.1,172.4 507,173.9 508.9,174.6 510.7,175.4 512.6,176.3 514.5,176.5 516.3,177.1 518.2,178.1 520.1,178.1 521.9,178.5 523.8,178.4 525.7,178.9 527.6,179.3 529.4,179.1 531.3,179.7 533.2,179.9 535,179.6" fill="none" stroke="#111" stroke-width="1.2" stroke-linejoin="round" />
<polyline points="312.5,170 313,170 313.5,170 314,170 314.5,170 315,170 315.5,170 316,170 316.5,170 317,170 317.5,170 318,170 318.5,170 319,170 319.5,170 320,170 320.5,170 321,170 321.5,170 322,170 322.5,170 323,170 323.5,170 324,170 324.5,170 325,170 325.5,170 326,170 326.5,170 327,170 327.5,170 328,170 328.5,170 329,170 329.5,170 330,170 330.5,170 331,170 331.5,170 332,170 332.5,170 333,170 333.5,170 334,170 334.5,170 335,170 335.5,170 336,170 336.5,170 337,170 337.5,170 338,170 338.5,170 339,170 339.5,170 340,170 340.5,170 341,170 341.5,170 342,170 342.5,170 343,170 343.5,170 344,170 344.5,170 345,170 345.5,170 346,170 346.5,170 347,170 347.5,170 348,170 348.5,170 349,170 349.5,170 350,170 350.5,170 351,170 351.5,170 352,170 352.5,169.9 353,169.9 353.5,169.9 354,169.9 354.5,169.9 355,169.9 355.5,169.9 356,169.9 356.5,169.9 357,169.9 357.5,169.9 358,169.9 358.5,169.9 359,169.9 359.5,169.9 360,169.9 360.5,169.9 361,169.9 361.5,169.9 362,169.9 362.5,169.8 363,169.8 363.5,169.8 364,169.8 364.5,169.8 365,169.7 365.5,169.7 366,169.7 366.5,169.6 367,169.6 367.5,169.5 368,169.4 368.5,169.4 369,169.3 369.5,169.2 370,169.1 370.5,169 371,168.9 371.5,168.8 372,168.6 372.5,168.5 373,168.3 373.5,168.1 374,167.9 374.5,167.7 375,167.4 375.5,167.2 376,166.9 376.5,166.6 377,166.3 377.5,165.9 378,165.5 378.5,165.1 379,164.7 379.5,164.3 380,163.8 380.5,163.3 381,162.8 381.5,162.2 382,161.7 382.5,161.1 383,160.5 383.5,159.9 384,159.2 384.5,158.6 385,157.9 385.5,157.2 386,156.5 386.5,155.8 387,155.2 387.5,154.5 388,153.8 388.5,153.1 389,152.5 389.5,151.8 390,151.2 390.5,150.6 391,150 391.5,149.4 392,148.9 392.5,148.4 393,148 393.5,147.6 394,147.2 394.5,146.8 395,146.6 395.5,146.3 396,146.1 396.5,145.9 397,145.8 397.5,145.7 398,145.6 398.5,145.6 399,145.6 399.5,145.5 400,145.6 400.5,145.6 401,145.7 401.5,145.8 402,145.9 402.5,146 403,146.1 403.5,146.3 404,146.4 404.5,146.6 405,146.7 405.5,146.9 406,147.1 406.5,147.3 407,147.4 407.5,147.6 408,147.8 408.5,147.9 409,148.1 409.5,148.2 410,148.3 410.5,148.5 411,148.5 411.5,148.6 412,148.7 412.5,148.7 413,148.8 413.5,148.8 414,148.8 414.5,148.7 415,148.7 415.5,148.6 416,148.5 416.5,148.4 417,148.2 417.5,148.1 418,147.9 418.5,147.7 419,147.4 419.5,147.2 420,146.9 420.5,146.6 421,146.3 421.5,146 422,145.7 422.5,145.3 423,144.9 423.5,144.5 424,144.1 424.5,143.7 425,143.3 425.5,142.8 426,142.4 426.5,141.9 427,141.4 427.5,140.9 428,140.4 428.5,139.9 429,139.4 429.5,138.8 430,138.3 430.5,137.7 431,137.2 431.5,136.6 432,136 432.5,135.4 433,134.8 433.5,134.2 434,133.5 434.5,132.9 435,132.2 435.5,131.5 436,130.9 436.5,130.1 437,129.4 437.5,128.7 438,127.9 438.5,127.1 439,126.3 439.5,125.4 440,124.6 440.5,123.7 441,122.8 441.5,121.8 442,120.8 442.5,119.8 443,118.7 443.5,117.6 444,116.5 444.5,115.3 445,114 445.5,112.8 446,111.5 446.5,110.1 447,108.7 447.5,107.2 448,105.7 448.5,104.2 449,102.6 449.5,100.9 450,99.2 450.5,97.4 451,95.6 451.5,93.7 452,91.8 452.5,89.9 453,87.9 453.5,85.8 454,83.8 454.5,81.7 455,79.6 455.5,77.5 456,75.4 456.5,73.2 457,71.1 457.5,69 458,66.9 458.5,64.8 459,62.7 459.5,60.7 460,58.7 460.5,56.8 461,54.9 461.5,53.1 462,51.3 462.5,49.7 463,48.1 463.5,46.6 464,45.2 464.5,43.9 465,42.8 465.5,41.7 466,40.8 466.5,40.1 467,39.4 467.5,38.9 468,38.5 468.5,38.3 469,38.3 469.5,38.4 470,38.6 470.5,39 471,39.6 471.5,40.4 472,41.4 472.5,42.6 473,44 473.5,45.6 474,47.3 474.5,49.3 475,51.4 475.5,53.7 476,56.1 476.5,58.7 477,61.4 477.5,64.2 478,67.1 478.5,70.2 479,73.2 479.5,76.4 480,79.6 480.5,82.9 481,86.1 481.5,89.4 482,92.7 482.5,96 483,99.3 483.5,102.6 484,105.8 484.5,108.9 485,112.1 485.5,115.1 486,118.1 486.5,121 487,123.9 487.5,126.6 488,129.3 488.5,131.9 489,134.4 489.5,136.8 490,139.1 490.5,141.3 491,143.4 491.5,145.4 492,147.3 492.5,149.2 493,150.9 493.5,152.5 494,154.1 494.5,155.6 495,156.9 495.5,158.3 496,159.5 496.5,160.7 497,161.7 497.5,162.8 498,163.7 498.5,164.6 499,165.5 499.5,166.3 500,167 500.5,167.7 501,168.3 501.5,168.9 502,169.5 502.5,170 503,170.5 503.5,171 504,171.5 504.5,171.9 505,172.3 505.5,172.6 506,173 506.5,173.3 507,173.6 507.5,173.9 508,174.2 508.5,174.4 509,174.7 509.5,174.9 510,175.1 510.5,175.3 511,175.5 511.5,175.7 512,175.9 512.5,176.1 513,176.3 513.5,176.4 514,176.6 514.5,176.7 515,176.9 515.5,177 516,177.2 516.5,177.3 517,177.4 517.5,177.5 518,177.6 518.5,177.8 519,177.9 519.5,178 520,178.1 520.5,178.2 521,178.3 521.5,178.4 522,178.4 522.5,178.5 523,178.6 523.5,178.7 524,178.8 524.5,178.8 525,178.9 525.5,179 526,179.1 526.5,179.1 527,179.2 527.5,179.2 528,179.3 528.5,179.4 529,179.4 529.5,179.5 530,179.5 530.5,179.6 531,179.6 531.5,179.7 532,179.7 532.5,179.7 533,179.8 533.5,179.8 534,179.8 534.5,179.9 535,179.9 535.5,180 536,180" fill="none" stroke="#ff0000" stroke-width="1.4" stroke-linejoin="round" />
<g fill="#fff" stroke="#ff0000" stroke-width="1.05"><circle cx="312.5" cy="170" r="1.5"/><circle cx="314.4" cy="170" r="1.5"/><circle cx="316.2" cy="170" r="1.5"/><circle cx="318.1" cy="170" r="1.5"/><circle cx="320" cy="170" r="1.5"/><circle cx="321.9" cy="170" r="1.5"/><circle cx="323.7" cy="170" r="1.5"/><circle cx="325.6" cy="170" r="1.5"/><circle cx="327.5" cy="170" r="1.5"/><circle cx="329.3" cy="170" r="1.5"/><circle cx="331.2" cy="170" r="1.5"/><circle cx="333.1" cy="170" r="1.5"/><circle cx="334.9" cy="170" r="1.5"/><circle cx="336.8" cy="170" r="1.5"/><circle cx="338.7" cy="170" r="1.5"/><circle cx="340.6" cy="170" r="1.5"/><circle cx="342.4" cy="170" r="1.5"/><circle cx="344.3" cy="170" r="1.5"/><circle cx="346.2" cy="170" r="1.5"/><circle cx="348" cy="170" r="1.5"/><circle cx="349.9" cy="170" r="1.5"/><circle cx="351.8" cy="170" r="1.5"/><circle cx="353.6" cy="169.9" r="1.5"/><circle cx="355.5" cy="169.9" r="1.5"/><circle cx="357.4" cy="169.9" r="1.5"/><circle cx="359.3" cy="169.9" r="1.5"/><circle cx="361.1" cy="169.9" r="1.5"/><circle cx="363" cy="169.8" r="1.5"/><circle cx="364.9" cy="169.7" r="1.5"/><circle cx="366.7" cy="169.6" r="1.5"/><circle cx="368.6" cy="169.4" r="1.5"/><circle cx="370.5" cy="169" r="1.5"/><circle cx="372.3" cy="168.5" r="1.5"/><circle cx="374.2" cy="167.8" r="1.5"/><circle cx="376.1" cy="166.9" r="1.5"/><circle cx="378" cy="165.6" r="1.5"/><circle cx="379.8" cy="164" r="1.5"/><circle cx="381.7" cy="162" r="1.5"/><circle cx="383.6" cy="159.8" r="1.5"/><circle cx="385.4" cy="157.3" r="1.5"/><circle cx="387.3" cy="154.7" r="1.5"/><circle cx="389.2" cy="152.2" r="1.5"/><circle cx="391" cy="149.9" r="1.5"/><circle cx="392.9" cy="148.1" r="1.5"/><circle cx="394.8" cy="146.7" r="1.5"/><circle cx="396.7" cy="145.9" r="1.5"/><circle cx="398.5" cy="145.6" r="1.5"/><circle cx="400.4" cy="145.6" r="1.5"/><circle cx="402.3" cy="145.9" r="1.5"/><circle cx="404.1" cy="146.5" r="1.5"/><circle cx="406" cy="147.1" r="1.5"/><circle cx="407.9" cy="147.7" r="1.5"/><circle cx="409.7" cy="148.3" r="1.5"/><circle cx="411.6" cy="148.6" r="1.5"/><circle cx="413.5" cy="148.8" r="1.5"/><circle cx="415.4" cy="148.6" r="1.5"/><circle cx="417.2" cy="148.2" r="1.5"/><circle cx="419.1" cy="147.4" r="1.5"/><circle cx="421" cy="146.4" r="1.5"/><circle cx="422.8" cy="145.1" r="1.5"/><circle cx="424.7" cy="143.5" r="1.5"/><circle cx="426.6" cy="141.8" r="1.5"/><circle cx="428.4" cy="140" r="1.5"/><circle cx="430.3" cy="137.9" r="1.5"/><circle cx="432.2" cy="135.8" r="1.5"/><circle cx="434.1" cy="133.5" r="1.5"/><circle cx="435.9" cy="131" r="1.5"/><circle cx="437.8" cy="128.2" r="1.5"/><circle cx="439.7" cy="125.2" r="1.5"/><circle cx="441.5" cy="121.7" r="1.5"/><circle cx="443.4" cy="117.8" r="1.5"/><circle cx="445.3" cy="113.4" r="1.5"/><circle cx="447.1" cy="108.3" r="1.5"/><circle cx="449" cy="102.5" r="1.5"/><circle cx="450.9" cy="96" r="1.5"/><circle cx="452.8" cy="88.9" r="1.5"/><circle cx="454.6" cy="81.2" r="1.5"/><circle cx="456.5" cy="73.3" r="1.5"/><circle cx="458.4" cy="65.4" r="1.5"/><circle cx="460.2" cy="57.8" r="1.5"/><circle cx="462.1" cy="51" r="1.5"/><circle cx="464" cy="45.3" r="1.5"/><circle cx="465.8" cy="41.1" r="1.5"/><circle cx="467.7" cy="38.7" r="1.5"/><circle cx="469.6" cy="38.4" r="1.5"/><circle cx="471.5" cy="40.3" r="1.5"/><circle cx="473.3" cy="45" r="1.5"/><circle cx="475.2" cy="52.3" r="1.5"/><circle cx="477.1" cy="61.7" r="1.5"/><circle cx="478.9" cy="72.8" r="1.5"/><circle cx="480.8" cy="84.8" r="1.5"/><circle cx="482.7" cy="97.1" r="1.5"/><circle cx="484.5" cy="109.2" r="1.5"/><circle cx="486.4" cy="120.5" r="1.5"/><circle cx="488.3" cy="130.8" r="1.5"/><circle cx="490.2" cy="139.8" r="1.5"/><circle cx="492" cy="147.4" r="1.5"/><circle cx="493.9" cy="153.8" r="1.5"/><circle cx="495.8" cy="158.9" r="1.5"/><circle cx="497.6" cy="163" r="1.5"/><circle cx="499.5" cy="166.3" r="1.5"/><circle cx="501.4" cy="168.8" r="1.5"/><circle cx="503.2" cy="170.8" r="1.5"/><circle cx="505.1" cy="172.3" r="1.5"/><circle cx="507" cy="173.6" r="1.5"/><circle cx="508.9" cy="174.6" r="1.5"/><circle cx="510.7" cy="175.4" r="1.5"/><circle cx="512.6" cy="176.1" r="1.5"/><circle cx="514.5" cy="176.7" r="1.5"/><circle cx="516.3" cy="177.2" r="1.5"/><circle cx="518.2" cy="177.7" r="1.5"/><circle cx="520.1" cy="178.1" r="1.5"/><circle cx="521.9" cy="178.4" r="1.5"/><circle cx="523.8" cy="178.7" r="1.5"/><circle cx="525.7" cy="179" r="1.5"/><circle cx="527.6" cy="179.2" r="1.5"/><circle cx="529.4" cy="179.5" r="1.5"/><circle cx="531.3" cy="179.6" r="1.5"/><circle cx="533.2" cy="179.8" r="1.5"/><circle cx="535" cy="179.9" r="1.5"/></g>
<text x="362.3" y="121.4" font-size="10.2" text-anchor="start" font-weight="bold" >C-C</text>
<line x1="376.8" y1="124.1" x2="396.5" y2="149.5" stroke="#111" stroke-width="1.0"/>
<text x="399.5" y="113.2" font-size="10.2" text-anchor="start" font-weight="bold" >C=C</text>
<line x1="418.6" y1="112.6" x2="446.2" y2="122.6" stroke="#111" stroke-width="1.0"/>
<text x="441.6" y="82.5" font-size="10.2" text-anchor="end" font-weight="bold" >Mo-C</text>
<line x1="443.1" y1="79.4" x2="466.3" y2="83.1" stroke="#111" stroke-width="1.0"/>
<rect x="322.5" y="17.6" width="87.1" height="71.3" fill="#fff" stroke="#777" stroke-width="1.0"/>
<line x1="322.5" y1="88.9" x2="322.5" y2="86.9" stroke="#444" stroke-width="0.7"/>
<text x="322.5" y="95.5" font-size="6.5" text-anchor="middle" font-weight="bold" >292</text>
<line x1="337" y1="88.9" x2="337" y2="86.9" stroke="#444" stroke-width="0.7"/>
<text x="337" y="95.5" font-size="6.5" text-anchor="middle" font-weight="bold" >290</text>
<line x1="351.5" y1="88.9" x2="351.5" y2="86.9" stroke="#444" stroke-width="0.7"/>
<text x="351.5" y="95.5" font-size="6.5" text-anchor="middle" font-weight="bold" >288</text>
<line x1="366.1" y1="88.9" x2="366.1" y2="86.9" stroke="#444" stroke-width="0.7"/>
<text x="366.1" y="95.5" font-size="6.5" text-anchor="middle" font-weight="bold" >286</text>
<line x1="380.6" y1="88.9" x2="380.6" y2="86.9" stroke="#444" stroke-width="0.7"/>
<text x="380.6" y="95.5" font-size="6.5" text-anchor="middle" font-weight="bold" >284</text>
<line x1="395.1" y1="88.9" x2="395.1" y2="86.9" stroke="#444" stroke-width="0.7"/>
<text x="395.1" y="95.5" font-size="6.5" text-anchor="middle" font-weight="bold" >282</text>
<line x1="409.6" y1="88.9" x2="409.6" y2="86.9" stroke="#444" stroke-width="0.7"/>
<text x="409.6" y="95.5" font-size="6.5" text-anchor="middle" font-weight="bold" >280</text>
<text x="365" y="103.2" font-size="6.9" text-anchor="middle" font-weight="bold" >Binding energy (ev)</text>
<text x="0" y="0" font-size="7.2" text-anchor="middle" font-weight="bold" transform="translate(319.0,50.8) rotate(-90)">Iintensity (a.u.)</text>
<text x="408.2" y="24.8" font-size="7.2" text-anchor="end" font-weight="bold" >C 1s</text>
<polyline points="322.8,68.5 323.7,68.9 325,69 326.5,69.1 328,69.1 329.4,69.8 330.8,70.1 332.3,70.2 333.8,70.3 335.3,69.9 336.9,69.3 338.4,69.1 340,68.9 341.6,68.2 343.2,68.6 344.7,67.9 346.2,67.5 347.5,66.7 348.7,66.6 349.9,65.6 351,64.8 352.1,63.6 353.1,62.1 354.1,61.2 355,60.5 355.7,59.6 356.3,59.8 356.9,59 357.5,58.8 358.1,59.3 358.7,59.1 359.4,60 360,60 360.6,60.4 361.3,60.6 362,61 362.7,60.8 363.5,60.3 364.3,60.1 365.1,58.8 366,58.2 366.9,56.7 367.9,55.9 368.9,54.6 370,53.2 371.2,52 372.6,50.8 373.9,49.7 375,47.8 375.9,46.4 376.7,44.7 377.3,42.2 378,40.3 378.7,37.5 379.3,34 379.9,30.8 380.5,28 381.2,25.2 381.9,23 382.6,20.4 383.3,19 384,18.9 384.6,20.1 385.3,21.9 386,24 386.7,27.6 387.5,32.4 388.3,37.6 389,41.8 389.7,46.2 390.3,50.1 390.9,53.9 391.5,56.8 392,59.5 392.5,61.9 393,64.2 393.6,65.5 394.3,67 395,67.8 395.7,68.5 396.5,69.2 397.3,70.3 398,70.7 398.8,70.8 399.7,71.3 400.7,71.6 401.7,71.9 402.8,72.1 404,71.9 405.4,72.6 406.9,72.8 408.3,72.7 409.3,73.1" fill="none" stroke="#2a2aff" stroke-width="1.2" stroke-linejoin="round" />
<polyline points="322.8,82.5 324.1,82.5 325.9,82.5 328,83 330,82.6 331.9,82.4 333.9,82.8 336,82.6 338,82.3 340.1,82.5 342.2,82 344.2,82.1 346,82 347.5,81.7 348.8,81 350,80.3 351,79.9 351.9,79.7 352.7,79 353.3,78.2 354,77.5 354.7,76.9 355.3,77 355.9,76.5 356.5,76.5 357.1,76 357.7,76.4 358.3,77.1 359,77.2 359.8,77.4 360.8,77.3 361.8,77.1 362.7,77.1 363.5,76.8 364.3,75.9 365.1,75.3 366,74.3 367,73.8 368,72.2 369.1,71.6 370,70.8 370.8,69.5 371.5,69.5 372.2,69 373,67.9 374,66 375,63.6 376,61.1 377,58.3 377.8,54.2 378.6,48.9 379.3,44 380,39.7 380.7,36 381.5,32.8 382.2,29.8 382.9,28.8 383.6,28.3 384.2,28.6 384.9,30.5 385.5,32.9 386.1,36.7 386.7,41.3 387.3,46.6 388,51.8 388.7,57.1 389.5,62.8 390.3,67.9 391,71.7 391.7,75.1 392.3,77.3 392.9,78.8 393.6,80.2 394.4,80.9 395.2,82.1 396.1,82.6 397,83.7 397.9,83.8 398.7,84.5 399.7,84.4 401,84.9 403,85 405.4,85.1 407.7,85.5 409.3,85.7" fill="none" stroke="#ff2a2a" stroke-width="1.2" stroke-linejoin="round" />
<text x="325" y="64.6" font-size="6.3" font-weight="bold">MoS<tspan font-size="4.5" dy="1.5">2</tspan><tspan dy="-1.5">0.5</tspan></text>
<text x="325" y="80" font-size="6.3" font-weight="bold">MoS<tspan font-size="4.5" dy="1.5">2</tspan><tspan dy="-1.5">0.1</tspan></text>
<rect x="36.5" y="252.5" width="224.7" height="180.6" fill="none" stroke="#333" stroke-width="1.3"/>
<line x1="42.6" y1="433.1" x2="42.6" y2="429.6" stroke="#333" stroke-width="1.0"/>
<line x1="73.8" y1="433.1" x2="73.8" y2="429.6" stroke="#333" stroke-width="1.0"/>
<line x1="105" y1="433.1" x2="105" y2="429.6" stroke="#333" stroke-width="1.0"/>
<line x1="136.2" y1="433.1" x2="136.2" y2="429.6" stroke="#333" stroke-width="1.0"/>
<line x1="167.4" y1="433.1" x2="167.4" y2="429.6" stroke="#333" stroke-width="1.0"/>
<line x1="198.6" y1="433.1" x2="198.6" y2="429.6" stroke="#333" stroke-width="1.0"/>
<line x1="229.8" y1="433.1" x2="229.8" y2="429.6" stroke="#333" stroke-width="1.0"/>
<line x1="58.2" y1="433.1" x2="58.2" y2="430.9" stroke="#333" stroke-width="1.0"/>
<line x1="89.4" y1="433.1" x2="89.4" y2="430.9" stroke="#333" stroke-width="1.0"/>
<line x1="120.6" y1="433.1" x2="120.6" y2="430.9" stroke="#333" stroke-width="1.0"/>
<line x1="151.8" y1="433.1" x2="151.8" y2="430.9" stroke="#333" stroke-width="1.0"/>
<line x1="183" y1="433.1" x2="183" y2="430.9" stroke="#333" stroke-width="1.0"/>
<line x1="214.2" y1="433.1" x2="214.2" y2="430.9" stroke="#333" stroke-width="1.0"/>
<line x1="245.4" y1="433.1" x2="245.4" y2="430.9" stroke="#333" stroke-width="1.0"/>
<text x="42.6" y="445.3" font-size="10" text-anchor="middle" font-weight="bold" >165</text>
<text x="73.8" y="445.3" font-size="10" text-anchor="middle" font-weight="bold" >164</text>
<text x="105" y="445.3" font-size="10" text-anchor="middle" font-weight="bold" >163</text>
<text x="136.2" y="445.3" font-size="10" text-anchor="middle" font-weight="bold" >162</text>
<text x="167.4" y="445.3" font-size="10" text-anchor="middle" font-weight="bold" >161</text>
<text x="198.6" y="445.3" font-size="10" text-anchor="middle" font-weight="bold" >160</text>
<text x="229.8" y="445.3" font-size="10" text-anchor="middle" font-weight="bold" >159</text>
<text x="261" y="445.3" font-size="10" text-anchor="middle" font-weight="bold" >158</text>
<text x="149.1" y="460.5" font-size="13.5" text-anchor="middle" font-weight="bold" >Binding energy (ev)</text>
<text x="141.5" y="479" font-size="12.3" text-anchor="middle" font-weight="bold" >(c)</text>
<text x="0" y="0" font-size="12.0" text-anchor="middle" font-weight="bold" transform="translate(24.8,338.9) rotate(-90)">Iintensity (a.u.)</text>
<text x="258.4" y="264.8" font-size="12" text-anchor="end" font-weight="bold" >S 2p</text>
<rect x="47.3" y="254.8" width="77.1" height="63.2" fill="none" stroke="#777" stroke-width="1.0"/>
<line x1="47.3" y1="318" x2="47.3" y2="316" stroke="#444" stroke-width="0.7"/>
<text x="47.3" y="324.2" font-size="6.5" text-anchor="middle" font-weight="bold" >165</text>
<line x1="59.2" y1="318" x2="59.2" y2="316" stroke="#444" stroke-width="0.7"/>
<text x="59.2" y="324.2" font-size="6.5" text-anchor="middle" font-weight="bold" >164</text>
<line x1="71" y1="318" x2="71" y2="316" stroke="#444" stroke-width="0.7"/>
<text x="71" y="324.2" font-size="6.5" text-anchor="middle" font-weight="bold" >163</text>
<line x1="82.9" y1="318" x2="82.9" y2="316" stroke="#444" stroke-width="0.7"/>
<text x="82.9" y="324.2" font-size="6.5" text-anchor="middle" font-weight="bold" >162</text>
<line x1="94.7" y1="318" x2="94.7" y2="316" stroke="#444" stroke-width="0.7"/>
<text x="94.7" y="324.2" font-size="6.5" text-anchor="middle" font-weight="bold" >161</text>
<line x1="106.6" y1="318" x2="106.6" y2="316" stroke="#444" stroke-width="0.7"/>
<text x="106.6" y="324.2" font-size="6.5" text-anchor="middle" font-weight="bold" >160</text>
<line x1="118.5" y1="318" x2="118.5" y2="316" stroke="#444" stroke-width="0.7"/>
<text x="118.5" y="324.2" font-size="6.5" text-anchor="middle" font-weight="bold" >159</text>
<text x="86" y="329.2" font-size="6.2" text-anchor="middle" font-weight="bold" >Binding energy (ev)</text>
<text x="0" y="0" font-size="7.2" text-anchor="middle" font-weight="bold" transform="translate(43.3,286.5) rotate(-90)">Iintensity (a.u.)</text>
<text x="123" y="262.5" font-size="7.2" text-anchor="end" font-weight="bold" >S 2p</text>
<polyline points="47.6,294.7 48.3,295.2 49.4,296.2 50.5,295.9 51.6,295.1 52.8,293.9 54,292.2 55.2,291.4 56.3,290.5 57.5,289.7 58.7,288.2 59.8,287.6 61,286.6 62.2,286.4 63.3,285.3 64.5,283.7 65.7,283.8 66.8,282.9 68,281.7 69.2,280.5 70.3,278.9 71.5,277.5 72.7,276.8 73.8,275 75,273.7 76.2,272.2 77.4,270.3 78.5,269.3 79.4,268.1 80.2,267.6 81,266.5 81.9,266 82.9,265.3 83.8,265.1 84.7,264.5 85.6,264 86.4,264.9 87.1,265.9 87.6,267.1 88.2,267.7 88.8,266.9 89.4,265.7 90,264.8 90.5,263.7 91.1,263.5 91.7,263 92.5,264.5 93.3,265.9 94.3,268 95.4,268.7 96.7,268.4 97.8,269 98.8,270.1 99.6,270 100.4,270.6 101,269.4 101.6,268.2 102.2,268.5 103,269.9 103.9,271.3 104.8,272.4 105.7,272.5 106.5,272.5 107.4,272.2 108.2,272.5 109.1,274.2 110,275.9 111.1,277.9 112.4,280.9 113.6,283 114.8,286.7 115.9,290.3 117.1,293.5 118.3,297.1 119.6,299.3 120.6,301.8 121.3,302.2 121.8,302.6 122.3,302.2 123,301.8 123.6,301.8 124.1,301.1" fill="none" stroke="#2a2aff" stroke-width="1.2" stroke-linejoin="round" />
<polyline points="47.6,305.8 48.7,306.3 50.3,305.4 52,305.4 53.8,305.6 55.7,305.1 57.5,304.2 59.1,304.7 60.6,303.6 62,303.3 63.4,303.4 64.8,302.6 66.3,302.3 68.1,301.8 70,301.6 72,301.9 74.2,301.3 76.5,301.3 78.5,301 80.2,301.2 81.6,302 83,301.8 84.5,302.1 85.9,302.5 87.3,301.9 88.6,301.7 89.7,302.1 90.8,302 91.8,301.9 92.6,302.5 93.5,303.7 94.3,304.8 95.1,304.9 96,306.2 97.1,306 98.3,305.3 99.5,304.7 100.7,304.2 101.8,303.9 103,304.8 104.2,304.2 105.3,304.9 106.5,304.8 107.7,305.6 108.8,305.6 110,305.5 111.2,305.5 112.3,306.2 113.5,305.8 114.7,306.2 115.9,306.8 117.1,307.3 118.2,306.9 119.4,306.2 120.5,306.6 121.8,305.9 123.1,305.8 124,306.2" fill="none" stroke="#ff2a2a" stroke-width="1.1" stroke-linejoin="round" />
<text x="47.9" y="280.3" font-size="6.3" font-weight="bold">MoS<tspan font-size="4.5" dy="1.5">2</tspan><tspan dy="-1.5">0.5</tspan></text>
<text x="47.9" y="301.3" font-size="6.3" font-weight="bold">MoS<tspan font-size="4.5" dy="1.5">2</tspan><tspan dy="-1.5">0.1</tspan></text>
<polyline points="39.8,401.5 40.3,401.5 40.8,401.5 41.3,401.5 41.8,401.5 42.3,401.5 42.8,401.5 43.3,401.5 43.8,401.5 44.3,401.5 44.8,401.5 45.3,401.6 45.8,401.6 46.3,401.6 46.8,401.6 47.3,401.6 47.8,401.6 48.3,401.6 48.8,401.6 49.3,401.7 49.8,401.7 50.3,401.7 50.8,401.7 51.3,401.7 51.8,401.8 52.3,401.8 52.8,401.8 53.3,401.8 53.8,401.8 54.3,401.9 54.8,401.9 55.3,401.9 55.8,401.9 56.3,402 56.8,402 57.3,402 57.8,402 58.3,402.1 58.8,402.1 59.3,402.1 59.8,402.2 60.3,402.2 60.8,402.2 61.3,402.3 61.8,402.3 62.3,402.3 62.8,402.4 63.3,402.4 63.8,402.4 64.3,402.5 64.8,402.5 65.3,402.5 65.8,402.6 66.3,402.6 66.8,402.7 67.3,402.7 67.8,402.7 68.3,402.8 68.8,402.8 69.3,402.9 69.8,402.9 70.3,403 70.8,403 71.3,403 71.8,403.1 72.3,403.1 72.8,403.2 73.3,403.2 73.8,403.3 74.3,403.3 74.8,403.4 75.3,403.4 75.8,403.5 76.3,403.5 76.8,403.5 77.3,403.6 77.8,403.6 78.3,403.7 78.8,403.7 79.3,403.8 79.8,403.8 80.3,403.9 80.8,403.9 81.3,404 81.8,404 82.3,404.1 82.8,404.2 83.3,404.2 83.8,404.3 84.3,404.3 84.8,404.4 85.3,404.4 85.8,404.5 86.3,404.5 86.8,404.6 87.3,404.6 87.8,404.7 88.3,404.7 88.8,404.8 89.3,404.9 89.8,404.9 90.3,405 90.8,405 91.3,405.1 91.8,405.1 92.3,405.2 92.8,405.2 93.3,405.3 93.8,405.4 94.3,405.4 94.8,405.5 95.3,405.5 95.8,405.6 96.3,405.7 96.8,405.7 97.3,405.8 97.8,405.9 98.3,406 98.8,406 99.3,406.1 99.8,406.2 100.3,406.3 100.8,406.4 101.3,406.5 101.8,406.6 102.3,406.7 102.8,406.8 103.3,406.9 103.8,407 104.3,407.1 104.8,407.2 105.3,407.3 105.8,407.4 106.3,407.5 106.8,407.7 107.3,407.8 107.8,407.9 108.3,408 108.8,408.1 109.3,408.2 109.8,408.3 110.3,408.5 110.8,408.6 111.3,408.7 111.8,408.8 112.3,408.9 112.8,409 113.3,409.1 113.8,409.2 114.3,409.3 114.8,409.4 115.3,409.5 115.8,409.6 116.3,409.7 116.8,409.8 117.3,409.9 117.8,410 118.3,410.1 118.8,410.2 119.3,410.3 119.8,410.4 120.3,410.5 120.8,410.7 121.3,410.8 121.8,410.9 122.3,411 122.8,411.1 123.3,411.2 123.8,411.3 124.3,411.4 124.8,411.5 125.3,411.6 125.8,411.7 126.3,411.8 126.8,411.9 127.3,412 127.8,412.1 128.3,412.2 128.8,412.3 129.3,412.4 129.8,412.5 130.3,412.6 130.8,412.7 131.3,412.8 131.8,412.9 132.3,413 132.8,413.1 133.3,413.2 133.8,413.3 134.3,413.4 134.8,413.5 135.3,413.6 135.8,413.7 136.3,413.8 136.8,413.9 137.3,414 137.8,414.1 138.3,414.2 138.8,414.3 139.3,414.4 139.8,414.5 140.3,414.6 140.8,414.7 141.3,414.8 141.8,414.9 142.3,415.1 142.8,415.2 143.3,415.3 143.8,415.4 144.3,415.5 144.8,415.6 145.3,415.7 145.8,415.8 146.3,415.9 146.8,416 147.3,416.1 147.8,416.2 148.3,416.3 148.8,416.4 149.3,416.5 149.8,416.6 150.3,416.7 150.8,416.8 151.3,416.9 151.8,417 152.3,417.1 152.8,417.2 153.3,417.3 153.8,417.4 154.3,417.5 154.8,417.6 155.3,417.6 155.8,417.7 156.3,417.8 156.8,417.9 157.3,418 157.8,418 158.3,418.1 158.8,418.2 159.3,418.3 159.8,418.3 160.3,418.4 160.8,418.5 161.3,418.6 161.8,418.6 162.3,418.7 162.8,418.8 163.3,418.9 163.8,418.9 164.3,419 164.8,419.1 165.3,419.1 165.8,419.2 166.3,419.3 166.8,419.3 167.3,419.4 167.8,419.5 168.3,419.5 168.8,419.6 169.3,419.7 169.8,419.7 170.3,419.8 170.8,419.8 171.3,419.9 171.8,420 172.3,420 172.8,420.1 173.3,420.1 173.8,420.2 174.3,420.3 174.8,420.3 175.3,420.4 175.8,420.4 176.3,420.5 176.8,420.5 177.3,420.6 177.8,420.6 178.3,420.7 178.8,420.7 179.3,420.8 179.8,420.8 180.3,420.9 180.8,420.9 181.3,421 181.8,421 182.3,421.1 182.8,421.1 183.3,421.1 183.8,421.2 184.3,421.2 184.8,421.3 185.3,421.3 185.8,421.4 186.3,421.4 186.8,421.4 187.3,421.5 187.8,421.5 188.3,421.6 188.8,421.6 189.3,421.6 189.8,421.7 190.3,421.7 190.8,421.8 191.3,421.8 191.8,421.8 192.3,421.9 192.8,421.9 193.3,422 193.8,422 194.3,422 194.8,422.1 195.3,422.1 195.8,422.1 196.3,422.2 196.8,422.2 197.3,422.2 197.8,422.3 198.3,422.3 198.8,422.4 199.3,422.4 199.8,422.4 200.3,422.5 200.8,422.5 201.3,422.5 201.8,422.6 202.3,422.6 202.8,422.6 203.3,422.7 203.8,422.7 204.3,422.7 204.8,422.7 205.3,422.8 205.8,422.8 206.3,422.8 206.8,422.9 207.3,422.9 207.8,422.9 208.3,423 208.8,423 209.3,423 209.8,423 210.3,423.1 210.8,423.1 211.3,423.1 211.8,423.1 212.3,423.2 212.8,423.2 213.3,423.2 213.8,423.2 214.3,423.3 214.8,423.3 215.3,423.3 215.8,423.3 216.3,423.4 216.8,423.4 217.3,423.4 217.8,423.4 218.3,423.4 218.8,423.5 219.3,423.5 219.8,423.5 220.3,423.5 220.8,423.5 221.3,423.5 221.8,423.6 222.3,423.6 222.8,423.6 223.3,423.6 223.8,423.6 224.3,423.7 224.8,423.7 225.3,423.7 225.8,423.7 226.3,423.7 226.8,423.7 227.3,423.8 227.8,423.8 228.3,423.8 228.8,423.8 229.3,423.8 229.8,423.9 230.3,423.9 230.8,423.9 231.3,423.9 231.8,423.9 232.3,423.9 232.8,424 233.3,424 233.8,424 234.3,424 234.8,424 235.3,424 235.8,424 236.3,424.1 236.8,424.1 237.3,424.1 237.8,424.1 238.3,424.1 238.8,424.1 239.3,424.2 239.8,424.2 240.3,424.2 240.8,424.2 241.3,424.2 241.8,424.2 242.3,424.2 242.8,424.2 243.3,424.3 243.8,424.3 244.3,424.3 244.8,424.3 245.3,424.3 245.8,424.3 246.3,424.3 246.8,424.3 247.3,424.3 247.8,424.4 248.3,424.4 248.8,424.4 249.3,424.4 249.8,424.4 250.3,424.4 250.8,424.4 251.3,424.4 251.8,424.4 252.3,424.4 252.8,424.4 253.3,424.4 253.8,424.5 254.3,424.5 254.8,424.5 255.3,424.5 255.8,424.5 256.3,424.5 256.8,424.5 257.3,424.5 257.8,424.5 258.3,424.5" fill="none" stroke="#3333ee" stroke-width="1.2" stroke-linejoin="round" />
<polyline points="39.8,401.4 40.3,401.4 40.8,401.4 41.3,401.4 41.8,401.4 42.3,401.4 42.8,401.4 43.3,401.4 43.8,401.4 44.3,401.4 44.8,401.4 45.3,401.4 45.8,401.4 46.3,401.4 46.8,401.5 47.3,401.5 47.8,401.5 48.3,401.5 48.8,401.5 49.3,401.5 49.8,401.5 50.3,401.6 50.8,401.6 51.3,401.6 51.8,401.6 52.3,401.6 52.8,401.6 53.3,401.7 53.8,401.7 54.3,401.7 54.8,401.7 55.3,401.8 55.8,401.8 56.3,401.8 56.8,401.8 57.3,401.9 57.8,401.9 58.3,401.9 58.8,401.9 59.3,402 59.8,402 60.3,402 60.8,402.1 61.3,402.1 61.8,402.1 62.3,402.2 62.8,402.2 63.3,402.2 63.8,402.3 64.3,402.3 64.8,402.3 65.3,402.4 65.8,402.4 66.3,402.4 66.8,402.5 67.3,402.5 67.8,402.6 68.3,402.6 68.8,402.6 69.3,402.7 69.8,402.7 70.3,402.8 70.8,402.8 71.3,402.8 71.8,402.9 72.3,402.9 72.8,403 73.3,403 73.8,403.1 74.3,403.1 74.8,403.1 75.3,403.2 75.8,403.2 76.3,403.3 76.8,403.3 77.3,403.4 77.8,403.4 78.3,403.5 78.8,403.5 79.3,403.6 79.8,403.6 80.3,403.7 80.8,403.7 81.3,403.8 81.8,403.8 82.3,403.9 82.8,403.9 83.3,404 83.8,404 84.3,404.1 84.8,404.1 85.3,404.2 85.8,404.2 86.3,404.3 86.8,404.3 87.3,404.4 87.8,404.4 88.3,404.5 88.8,404.5 89.3,404.6 89.8,404.6 90.3,404.7 90.8,404.7 91.3,404.8 91.8,404.8 92.3,404.9 92.8,404.9 93.3,405 93.8,405 94.3,405.1 94.8,405.2 95.3,405.2 95.8,405.3 96.3,405.3 96.8,405.4 97.3,405.5 97.8,405.5 98.3,405.6 98.8,405.7 99.3,405.7 99.8,405.8 100.3,405.9 100.8,406 101.3,406.1 101.8,406.2 102.3,406.3 102.8,406.4 103.3,406.5 103.8,406.5 104.3,406.6 104.8,406.7 105.3,406.8 105.8,406.9 106.3,407 106.8,407.1 107.3,407.2 107.8,407.3 108.3,407.4 108.8,407.5 109.3,407.6 109.8,407.7 110.3,407.8 110.8,407.9 111.3,407.9 111.8,408 112.3,408.1 112.8,408.2 113.3,408.3 113.8,408.3 114.3,408.4 114.8,408.4 115.3,408.5 115.8,408.6 116.3,408.6 116.8,408.6 117.3,408.7 117.8,408.7 118.3,408.8 118.8,408.8 119.3,408.8 119.8,408.8 120.3,408.8 120.8,408.9 121.3,408.9 121.8,408.9 122.3,408.8 122.8,408.8 123.3,408.8 123.8,408.8 124.3,408.7 124.8,408.7 125.3,408.6 125.8,408.6 126.3,408.5 126.8,408.4 127.3,408.3 127.8,408.2 128.3,408.1 128.8,408 129.3,407.9 129.8,407.7 130.3,407.6 130.8,407.4 131.3,407.2 131.8,407 132.3,406.8 132.8,406.6 133.3,406.3 133.8,406 134.3,405.8 134.8,405.5 135.3,405.2 135.8,404.8 136.3,404.5 136.8,404.1 137.3,403.7 137.8,403.3 138.3,402.9 138.8,402.4 139.3,402 139.8,401.5 140.3,401 140.8,400.4 141.3,399.9 141.8,399.3 142.3,398.7 142.8,398.1 143.3,397.5 143.8,396.8 144.3,396.1 144.8,395.4 145.3,394.7 145.8,393.9 146.3,393.1 146.8,392.3 147.3,391.5 147.8,390.6 148.3,389.7 148.8,388.8 149.3,387.9 149.8,387 150.3,386 150.8,385 151.3,384 151.8,383 152.3,381.9 152.8,380.9 153.3,379.8 153.8,378.7 154.3,377.6 154.8,376.4 155.3,375.3 155.8,374.1 156.3,372.9 156.8,371.7 157.3,370.6 157.8,369.3 158.3,368.1 158.8,366.9 159.3,365.7 159.8,364.5 160.3,363.3 160.8,362.1 161.3,360.9 161.8,359.7 162.3,358.5 162.8,357.3 163.3,356.1 163.8,354.9 164.3,353.8 164.8,352.6 165.3,351.5 165.8,350.4 166.3,349.4 166.8,348.3 167.3,347.3 167.8,346.3 168.3,345.3 168.8,344.4 169.3,343.5 169.8,342.6 170.3,341.8 170.8,341 171.3,340.2 171.8,339.5 172.3,338.8 172.8,338.2 173.3,337.6 173.8,337 174.3,336.5 174.8,336.1 175.3,335.7 175.8,335.3 176.3,335.1 176.8,334.8 177.3,334.6 177.8,334.5 178.3,334.4 178.8,334.4 179.3,334.4 179.8,334.5 180.3,334.6 180.8,334.8 181.3,335 181.8,335.3 182.3,335.7 182.8,336.1 183.3,336.5 183.8,337 184.3,337.6 184.8,338.2 185.3,338.9 185.8,339.6 186.3,340.3 186.8,341.1 187.3,342 187.8,342.9 188.3,343.8 188.8,344.7 189.3,345.7 189.8,346.8 190.3,347.8 190.8,348.9 191.3,350.1 191.8,351.2 192.3,352.4 192.8,353.6 193.3,354.9 193.8,356.1 194.3,357.4 194.8,358.7 195.3,359.9 195.8,361.3 196.3,362.6 196.8,363.9 197.3,365.2 197.8,366.6 198.3,367.9 198.8,369.3 199.3,370.6 199.8,372 200.3,373.3 200.8,374.6 201.3,376 201.8,377.3 202.3,378.6 202.8,379.9 203.3,381.2 203.8,382.5 204.3,383.7 204.8,385 205.3,386.2 205.8,387.4 206.3,388.6 206.8,389.8 207.3,390.9 207.8,392.1 208.3,393.2 208.8,394.3 209.3,395.3 209.8,396.4 210.3,397.4 210.8,398.4 211.3,399.4 211.8,400.3 212.3,401.3 212.8,402.2 213.3,403 213.8,403.9 214.3,404.7 214.8,405.5 215.3,406.3 215.8,407.1 216.3,407.8 216.8,408.5 217.3,409.2 217.8,409.9 218.3,410.5 218.8,411.1 219.3,411.7 219.8,412.3 220.3,412.8 220.8,413.4 221.3,413.9 221.8,414.4 222.3,414.8 222.8,415.3 223.3,415.7 223.8,416.1 224.3,416.5 224.8,416.9 225.3,417.3 225.8,417.6 226.3,418 226.8,418.3 227.3,418.6 227.8,418.9 228.3,419.2 228.8,419.4 229.3,419.7 229.8,419.9 230.3,420.1 230.8,420.4 231.3,420.6 231.8,420.8 232.3,421 232.8,421.1 233.3,421.3 233.8,421.5 234.3,421.6 234.8,421.8 235.3,421.9 235.8,422 236.3,422.1 236.8,422.3 237.3,422.4 237.8,422.5 238.3,422.6 238.8,422.7 239.3,422.8 239.8,422.8 240.3,422.9 240.8,423 241.3,423.1 241.8,423.1 242.3,423.2 242.8,423.3 243.3,423.3 243.8,423.4 244.3,423.4 244.8,423.5 245.3,423.5 245.8,423.5 246.3,423.6 246.8,423.6 247.3,423.7 247.8,423.7 248.3,423.7 248.8,423.8 249.3,423.8 249.8,423.8 250.3,423.8 250.8,423.9 251.3,423.9 251.8,423.9 252.3,423.9 252.8,424 253.3,424 253.8,424 254.3,424 254.8,424 255.3,424 255.8,424.1 256.3,424.1 256.8,424.1 257.3,424.1 257.8,424.1 258.3,424.1" fill="none" stroke="#22a022" stroke-width="1.2" stroke-linejoin="round" />
<polyline points="39.8,401.1 40.3,401.1 40.8,401.1 41.3,401.1 41.8,401.1 42.3,401.1 42.8,401.1 43.3,401 43.8,401 44.3,401 44.8,401 45.3,401 45.8,401 46.3,401 46.8,400.9 47.3,400.9 47.8,400.9 48.3,400.9 48.8,400.9 49.3,400.9 49.8,400.9 50.3,400.8 50.8,400.8 51.3,400.8 51.8,400.8 52.3,400.8 52.8,400.8 53.3,400.7 53.8,400.7 54.3,400.7 54.8,400.7 55.3,400.7 55.8,400.6 56.3,400.6 56.8,400.6 57.3,400.6 57.8,400.5 58.3,400.5 58.8,400.5 59.3,400.5 59.8,400.4 60.3,400.4 60.8,400.4 61.3,400.3 61.8,400.3 62.3,400.3 62.8,400.2 63.3,400.2 63.8,400.2 64.3,400.1 64.8,400.1 65.3,400 65.8,400 66.3,399.9 66.8,399.9 67.3,399.8 67.8,399.8 68.3,399.7 68.8,399.7 69.3,399.6 69.8,399.5 70.3,399.5 70.8,399.4 71.3,399.4 71.8,399.3 72.3,399.2 72.8,399.1 73.3,399.1 73.8,399 74.3,398.9 74.8,398.8 75.3,398.8 75.8,398.7 76.3,398.6 76.8,398.5 77.3,398.4 77.8,398.3 78.3,398.2 78.8,398.1 79.3,398 79.8,397.9 80.3,397.8 80.8,397.7 81.3,397.6 81.8,397.5 82.3,397.4 82.8,397.2 83.3,397.1 83.8,397 84.3,396.9 84.8,396.8 85.3,396.6 85.8,396.5 86.3,396.4 86.8,396.2 87.3,396.1 87.8,396 88.3,395.8 88.8,395.7 89.3,395.5 89.8,395.4 90.3,395.2 90.8,395.1 91.3,394.9 91.8,394.8 92.3,394.6 92.8,394.5 93.3,394.3 93.8,394.1 94.3,394 94.8,393.8 95.3,393.6 95.8,393.5 96.3,393.3 96.8,393.1 97.3,393 97.8,392.8 98.3,392.7 98.8,392.5 99.3,392.4 99.8,392.2 100.3,392.1 100.8,392 101.3,391.8 101.8,391.7 102.3,391.5 102.8,391.4 103.3,391.3 103.8,391.1 104.3,391 104.8,390.9 105.3,390.7 105.8,390.6 106.3,390.5 106.8,390.4 107.3,390.3 107.8,390.1 108.3,390 108.8,389.9 109.3,389.8 109.8,389.7 110.3,389.6 110.8,389.4 111.3,389.3 111.8,389.2 112.3,389.1 112.8,389 113.3,388.9 113.8,388.8 114.3,388.7 114.8,388.6 115.3,388.5 115.8,388.4 116.3,388.3 116.8,388.2 117.3,388.1 117.8,388 118.3,387.9 118.8,387.9 119.3,387.8 119.8,387.7 120.3,387.6 120.8,387.6 121.3,387.5 121.8,387.5 122.3,387.4 122.8,387.4 123.3,387.3 123.8,387.3 124.3,387.3 124.8,387.2 125.3,387.2 125.8,387.2 126.3,387.2 126.8,387.2 127.3,387.2 127.8,387.2 128.3,387.2 128.8,387.2 129.3,387.2 129.8,387.3 130.3,387.3 130.8,387.3 131.3,387.4 131.8,387.4 132.3,387.5 132.8,387.5 133.3,387.6 133.8,387.7 134.3,387.8 134.8,387.8 135.3,387.9 135.8,388 136.3,388.1 136.8,388.2 137.3,388.3 137.8,388.5 138.3,388.6 138.8,388.7 139.3,388.9 139.8,389 140.3,389.1 140.8,389.3 141.3,389.5 141.8,389.6 142.3,389.8 142.8,390 143.3,390.1 143.8,390.3 144.3,390.5 144.8,390.7 145.3,390.9 145.8,391.1 146.3,391.3 146.8,391.5 147.3,391.7 147.8,391.9 148.3,392.2 148.8,392.4 149.3,392.6 149.8,392.9 150.3,393.1 150.8,393.3 151.3,393.6 151.8,393.8 152.3,394 152.8,394.3 153.3,394.5 153.8,394.8 154.3,395 154.8,395.3 155.3,395.6 155.8,395.8 156.3,396.1 156.8,396.3 157.3,396.6 157.8,396.9 158.3,397.1 158.8,397.4 159.3,397.7 159.8,397.9 160.3,398.2 160.8,398.5 161.3,398.7 161.8,399 162.3,399.3 162.8,399.6 163.3,399.9 163.8,400.1 164.3,400.4 164.8,400.7 165.3,401 165.8,401.3 166.3,401.6 166.8,401.8 167.3,402.1 167.8,402.4 168.3,402.7 168.8,403 169.3,403.3 169.8,403.5 170.3,403.8 170.8,404.1 171.3,404.4 171.8,404.7 172.3,405 172.8,405.2 173.3,405.5 173.8,405.8 174.3,406.1 174.8,406.3 175.3,406.6 175.8,406.9 176.3,407.2 176.8,407.4 177.3,407.7 177.8,408 178.3,408.2 178.8,408.5 179.3,408.8 179.8,409 180.3,409.3 180.8,409.5 181.3,409.8 181.8,410 182.3,410.3 182.8,410.5 183.3,410.8 183.8,411 184.3,411.2 184.8,411.5 185.3,411.7 185.8,411.9 186.3,412.2 186.8,412.4 187.3,412.6 187.8,412.8 188.3,413.1 188.8,413.3 189.3,413.5 189.8,413.7 190.3,413.9 190.8,414.1 191.3,414.3 191.8,414.6 192.3,414.8 192.8,415 193.3,415.1 193.8,415.3 194.3,415.5 194.8,415.7 195.3,415.9 195.8,416.1 196.3,416.3 196.8,416.5 197.3,416.6 197.8,416.8 198.3,417 198.8,417.1 199.3,417.3 199.8,417.5 200.3,417.6 200.8,417.8 201.3,417.9 201.8,418.1 202.3,418.2 202.8,418.4 203.3,418.5 203.8,418.7 204.3,418.8 204.8,419 205.3,419.1 205.8,419.2 206.3,419.4 206.8,419.5 207.3,419.6 207.8,419.7 208.3,419.9 208.8,420 209.3,420.1 209.8,420.2 210.3,420.3 210.8,420.4 211.3,420.5 211.8,420.6 212.3,420.7 212.8,420.8 213.3,420.9 213.8,421 214.3,421.1 214.8,421.2 215.3,421.3 215.8,421.4 216.3,421.5 216.8,421.5 217.3,421.6 217.8,421.7 218.3,421.8 218.8,421.9 219.3,421.9 219.8,422 220.3,422.1 220.8,422.1 221.3,422.2 221.8,422.3 222.3,422.3 222.8,422.4 223.3,422.4 223.8,422.5 224.3,422.6 224.8,422.6 225.3,422.7 225.8,422.7 226.3,422.8 226.8,422.8 227.3,422.9 227.8,422.9 228.3,423 228.8,423 229.3,423.1 229.8,423.1 230.3,423.2 230.8,423.2 231.3,423.3 231.8,423.3 232.3,423.3 232.8,423.4 233.3,423.4 233.8,423.4 234.3,423.5 234.8,423.5 235.3,423.6 235.8,423.6 236.3,423.6 236.8,423.7 237.3,423.7 237.8,423.7 238.3,423.7 238.8,423.8 239.3,423.8 239.8,423.8 240.3,423.9 240.8,423.9 241.3,423.9 241.8,423.9 242.3,424 242.8,424 243.3,424 243.8,424 244.3,424.1 244.8,424.1 245.3,424.1 245.8,424.1 246.3,424.1 246.8,424.2 247.3,424.2 247.8,424.2 248.3,424.2 248.8,424.2 249.3,424.2 249.8,424.3 250.3,424.3 250.8,424.3 251.3,424.3 251.8,424.3 252.3,424.3 252.8,424.3 253.3,424.4 253.8,424.4 254.3,424.4 254.8,424.4 255.3,424.4 255.8,424.4 256.3,424.4 256.8,424.4 257.3,424.4 257.8,424.4 258.3,424.4" fill="none" stroke="#ff00ff" stroke-width="1.2" stroke-linejoin="round" />
<polyline points="39.8,398.9 40.3,398.9 40.8,398.8 41.3,398.7 41.8,398.6 42.3,398.5 42.8,398.4 43.3,398.4 43.8,398.3 44.3,398.2 44.8,398.1 45.3,398 45.8,397.8 46.3,397.7 46.8,397.6 47.3,397.5 47.8,397.4 48.3,397.2 48.8,397.1 49.3,397 49.8,396.8 50.3,396.7 50.8,396.5 51.3,396.3 51.8,396.2 52.3,396 52.8,395.8 53.3,395.6 53.8,395.4 54.3,395.2 54.8,395 55.3,394.8 55.8,394.6 56.3,394.4 56.8,394.1 57.3,393.9 57.8,393.7 58.3,393.4 58.8,393.1 59.3,392.9 59.8,392.6 60.3,392.3 60.8,392 61.3,391.7 61.8,391.4 62.3,391.1 62.8,390.8 63.3,390.5 63.8,390.1 64.3,389.8 64.8,389.4 65.3,389.1 65.8,388.7 66.3,388.4 66.8,388 67.3,387.6 67.8,387.2 68.3,386.8 68.8,386.4 69.3,386 69.8,385.6 70.3,385.2 70.8,384.8 71.3,384.4 71.8,383.9 72.3,383.5 72.8,383.1 73.3,382.6 73.8,382.2 74.3,381.8 74.8,381.3 75.3,380.9 75.8,380.4 76.3,380 76.8,379.5 77.3,379.1 77.8,378.6 78.3,378.2 78.8,377.8 79.3,377.3 79.8,376.9 80.3,376.5 80.8,376.1 81.3,375.6 81.8,375.2 82.3,374.8 82.8,374.4 83.3,374.1 83.8,373.7 84.3,373.3 84.8,373 85.3,372.6 85.8,372.3 86.3,372 86.8,371.7 87.3,371.4 87.8,371.2 88.3,370.9 88.8,370.7 89.3,370.5 89.8,370.3 90.3,370.1 90.8,369.9 91.3,369.8 91.8,369.7 92.3,369.6 92.8,369.5 93.3,369.5 93.8,369.5 94.3,369.5 94.8,369.5 95.3,369.5 95.8,369.6 96.3,369.7 96.8,369.8 97.3,370 97.8,370.1 98.3,370.3 98.8,370.5 99.3,370.7 99.8,371 100.3,371.2 100.8,371.5 101.3,371.8 101.8,372.2 102.3,372.5 102.8,372.9 103.3,373.2 103.8,373.6 104.3,374 104.8,374.5 105.3,374.9 105.8,375.3 106.3,375.8 106.8,376.3 107.3,376.8 107.8,377.2 108.3,377.7 108.8,378.3 109.3,378.8 109.8,379.3 110.3,379.8 110.8,380.4 111.3,380.9 111.8,381.4 112.3,382 112.8,382.5 113.3,383.1 113.8,383.6 114.3,384.2 114.8,384.7 115.3,385.3 115.8,385.8 116.3,386.4 116.8,386.9 117.3,387.5 117.8,388 118.3,388.6 118.8,389.1 119.3,389.7 119.8,390.2 120.3,390.8 120.8,391.3 121.3,391.8 121.8,392.4 122.3,392.9 122.8,393.4 123.3,393.9 123.8,394.4 124.3,395 124.8,395.5 125.3,396 125.8,396.4 126.3,396.9 126.8,397.4 127.3,397.9 127.8,398.4 128.3,398.8 128.8,399.3 129.3,399.7 129.8,400.2 130.3,400.6 130.8,401.1 131.3,401.5 131.8,401.9 132.3,402.3 132.8,402.7 133.3,403.1 133.8,403.5 134.3,403.9 134.8,404.3 135.3,404.7 135.8,405 136.3,405.4 136.8,405.7 137.3,406.1 137.8,406.4 138.3,406.8 138.8,407.1 139.3,407.4 139.8,407.7 140.3,408 140.8,408.3 141.3,408.7 141.8,408.9 142.3,409.2 142.8,409.5 143.3,409.8 143.8,410.1 144.3,410.4 144.8,410.6 145.3,410.9 145.8,411.1 146.3,411.4 146.8,411.6 147.3,411.9 147.8,412.1 148.3,412.3 148.8,412.5 149.3,412.8 149.8,413 150.3,413.2 150.8,413.4 151.3,413.6 151.8,413.8 152.3,414 152.8,414.1 153.3,414.3 153.8,414.5 154.3,414.7 154.8,414.8 155.3,415 155.8,415.1 156.3,415.3 156.8,415.4 157.3,415.6 157.8,415.7 158.3,415.8 158.8,416 159.3,416.1 159.8,416.2 160.3,416.4 160.8,416.5 161.3,416.6 161.8,416.7 162.3,416.8 162.8,416.9 163.3,417.1 163.8,417.2 164.3,417.3 164.8,417.4 165.3,417.5 165.8,417.6 166.3,417.7 166.8,417.8 167.3,417.9 167.8,418 168.3,418.1 168.8,418.2 169.3,418.2 169.8,418.3 170.3,418.4 170.8,418.5 171.3,418.6 171.8,418.7 172.3,418.7 172.8,418.8 173.3,418.9 173.8,419 174.3,419.1 174.8,419.1 175.3,419.2 175.8,419.3 176.3,419.3 176.8,419.4 177.3,419.5 177.8,419.5 178.3,419.6 178.8,419.7 179.3,419.7 179.8,419.8 180.3,419.9 180.8,419.9 181.3,420 181.8,420 182.3,420.1 182.8,420.1 183.3,420.2 183.8,420.2 184.3,420.3 184.8,420.3 185.3,420.4 185.8,420.5 186.3,420.5 186.8,420.6 187.3,420.6 187.8,420.7 188.3,420.7 188.8,420.8 189.3,420.8 189.8,420.9 190.3,420.9 190.8,421 191.3,421 191.8,421 192.3,421.1 192.8,421.1 193.3,421.2 193.8,421.2 194.3,421.3 194.8,421.3 195.3,421.4 195.8,421.4 196.3,421.4 196.8,421.5 197.3,421.5 197.8,421.6 198.3,421.6 198.8,421.7 199.3,421.7 199.8,421.7 200.3,421.8 200.8,421.8 201.3,421.9 201.8,421.9 202.3,421.9 202.8,422 203.3,422 203.8,422 204.3,422.1 204.8,422.1 205.3,422.2 205.8,422.2 206.3,422.2 206.8,422.3 207.3,422.3 207.8,422.3 208.3,422.4 208.8,422.4 209.3,422.4 209.8,422.5 210.3,422.5 210.8,422.5 211.3,422.6 211.8,422.6 212.3,422.6 212.8,422.6 213.3,422.7 213.8,422.7 214.3,422.7 214.8,422.8 215.3,422.8 215.8,422.8 216.3,422.8 216.8,422.9 217.3,422.9 217.8,422.9 218.3,422.9 218.8,423 219.3,423 219.8,423 220.3,423 220.8,423 221.3,423.1 221.8,423.1 222.3,423.1 222.8,423.1 223.3,423.2 223.8,423.2 224.3,423.2 224.8,423.2 225.3,423.2 225.8,423.3 226.3,423.3 226.8,423.3 227.3,423.3 227.8,423.3 228.3,423.4 228.8,423.4 229.3,423.4 229.8,423.4 230.3,423.5 230.8,423.5 231.3,423.5 231.8,423.5 232.3,423.5 232.8,423.5 233.3,423.6 233.8,423.6 234.3,423.6 234.8,423.6 235.3,423.6 235.8,423.7 236.3,423.7 236.8,423.7 237.3,423.7 237.8,423.7 238.3,423.7 238.8,423.8 239.3,423.8 239.8,423.8 240.3,423.8 240.8,423.8 241.3,423.8 241.8,423.9 242.3,423.9 242.8,423.9 243.3,423.9 243.8,423.9 244.3,423.9 244.8,423.9 245.3,424 245.8,424 246.3,424 246.8,424 247.3,424 247.8,424 248.3,424 248.8,424 249.3,424.1 249.8,424.1 250.3,424.1 250.8,424.1 251.3,424.1 251.8,424.1 252.3,424.1 252.8,424.1 253.3,424.1 253.8,424.1 254.3,424.2 254.8,424.2 255.3,424.2 255.8,424.2 256.3,424.2 256.8,424.2 257.3,424.2 257.8,424.2 258.3,424.2" fill="none" stroke="#22229a" stroke-width="1.2" stroke-linejoin="round" />
<polyline points="39.8,400.2 40.3,400.2 40.8,400.2 41.3,400.2 41.8,400.2 42.3,400.1 42.8,400.1 43.3,400.1 43.8,400.1 44.3,400.1 44.8,400.1 45.3,400.1 45.8,400.1 46.3,400.1 46.8,400.1 47.3,400.1 47.8,400.1 48.3,400.1 48.8,400.1 49.3,400.1 49.8,400.1 50.3,400.1 50.8,400.1 51.3,400.1 51.8,400.1 52.3,400.1 52.8,400.1 53.3,400.1 53.8,400.1 54.3,400.1 54.8,400.1 55.3,400.1 55.8,400.1 56.3,400.1 56.8,400.1 57.3,400.1 57.8,400.1 58.3,400.1 58.8,400.1 59.3,400.1 59.8,400.1 60.3,400.1 60.8,400.1 61.3,400.1 61.8,400.1 62.3,400.1 62.8,400.1 63.3,400.1 63.8,400.2 64.3,400.2 64.8,400.2 65.3,400.2 65.8,400.2 66.3,400.2 66.8,400.2 67.3,400.2 67.8,400.2 68.3,400.2 68.8,400.2 69.3,400.2 69.8,400.2 70.3,400.2 70.8,400.2 71.3,400.2 71.8,400.2 72.3,400.2 72.8,400.2 73.3,400.1 73.8,400.1 74.3,400.1 74.8,400.1 75.3,400.1 75.8,400.1 76.3,400.1 76.8,400 77.3,400 77.8,400 78.3,399.9 78.8,399.9 79.3,399.9 79.8,399.8 80.3,399.8 80.8,399.7 81.3,399.7 81.8,399.6 82.3,399.6 82.8,399.5 83.3,399.4 83.8,399.3 84.3,399.2 84.8,399.1 85.3,399 85.8,398.9 86.3,398.8 86.8,398.7 87.3,398.5 87.8,398.4 88.3,398.2 88.8,398.1 89.3,397.9 89.8,397.7 90.3,397.5 90.8,397.3 91.3,397.1 91.8,396.9 92.3,396.6 92.8,396.3 93.3,396.1 93.8,395.8 94.3,395.4 94.8,395.1 95.3,394.8 95.8,394.4 96.3,394 96.8,393.6 97.3,393.2 97.8,392.8 98.3,392.3 98.8,391.9 99.3,391.4 99.8,390.9 100.3,390.4 100.8,389.8 101.3,389.3 101.8,388.7 102.3,388.1 102.8,387.4 103.3,386.8 103.8,386.1 104.3,385.4 104.8,384.6 105.3,383.9 105.8,383.1 106.3,382.3 106.8,381.5 107.3,380.6 107.8,379.7 108.3,378.8 108.8,377.9 109.3,376.9 109.8,375.9 110.3,374.9 110.8,373.9 111.3,372.8 111.8,371.7 112.3,370.6 112.8,369.5 113.3,368.4 113.8,367.2 114.3,366 114.8,364.8 115.3,363.6 115.8,362.4 116.3,361.1 116.8,359.9 117.3,358.6 117.8,357.4 118.3,356.1 118.8,354.8 119.3,353.6 119.8,352.3 120.3,351.1 120.8,349.8 121.3,348.6 121.8,347.4 122.3,346.2 122.8,345 123.3,343.8 123.8,342.7 124.3,341.6 124.8,340.5 125.3,339.5 125.8,338.5 126.3,337.6 126.8,336.7 127.3,335.8 127.8,335 128.3,334.3 128.8,333.6 129.3,333 129.8,332.5 130.3,332 130.8,331.6 131.3,331.3 131.8,331 132.3,330.8 132.8,330.7 133.3,330.7 133.8,330.8 134.3,330.9 134.8,331.1 135.3,331.3 135.8,331.7 136.3,332 136.8,332.5 137.3,333 137.8,333.6 138.3,334.2 138.8,334.9 139.3,335.6 139.8,336.4 140.3,337.2 140.8,338.1 141.3,339 141.8,340 142.3,341 142.8,342 143.3,343.1 143.8,344.2 144.3,345.4 144.8,346.5 145.3,347.7 145.8,348.9 146.3,350.2 146.8,351.4 147.3,352.7 147.8,354 148.3,355.3 148.8,356.6 149.3,357.9 149.8,359.2 150.3,360.5 150.8,361.8 151.3,363.2 151.8,364.5 152.3,365.8 152.8,367.1 153.3,368.4 153.8,369.7 154.3,370.9 154.8,372.2 155.3,373.5 155.8,374.7 156.3,375.9 156.8,377.2 157.3,378.3 157.8,379.5 158.3,380.7 158.8,381.8 159.3,383 159.8,384.1 160.3,385.2 160.8,386.2 161.3,387.3 161.8,388.3 162.3,389.3 162.8,390.3 163.3,391.3 163.8,392.3 164.3,393.2 164.8,394.1 165.3,395 165.8,395.8 166.3,396.7 166.8,397.5 167.3,398.3 167.8,399.1 168.3,399.8 168.8,400.6 169.3,401.3 169.8,402 170.3,402.6 170.8,403.3 171.3,403.9 171.8,404.5 172.3,405.1 172.8,405.7 173.3,406.3 173.8,406.8 174.3,407.3 174.8,407.8 175.3,408.3 175.8,408.8 176.3,409.2 176.8,409.7 177.3,410.1 177.8,410.5 178.3,410.9 178.8,411.2 179.3,411.6 179.8,411.9 180.3,412.3 180.8,412.6 181.3,412.9 181.8,413.2 182.3,413.5 182.8,413.8 183.3,414 183.8,414.3 184.3,414.5 184.8,414.8 185.3,415 185.8,415.2 186.3,415.4 186.8,415.6 187.3,415.8 187.8,416 188.3,416.2 188.8,416.4 189.3,416.6 189.8,416.7 190.3,416.9 190.8,417.1 191.3,417.2 191.8,417.4 192.3,417.5 192.8,417.6 193.3,417.8 193.8,417.9 194.3,418 194.8,418.1 195.3,418.2 195.8,418.4 196.3,418.5 196.8,418.6 197.3,418.7 197.8,418.8 198.3,418.9 198.8,419 199.3,419.1 199.8,419.2 200.3,419.3 200.8,419.3 201.3,419.4 201.8,419.5 202.3,419.6 202.8,419.7 203.3,419.7 203.8,419.8 204.3,419.9 204.8,420 205.3,420 205.8,420.1 206.3,420.2 206.8,420.2 207.3,420.3 207.8,420.4 208.3,420.4 208.8,420.5 209.3,420.5 209.8,420.6 210.3,420.7 210.8,420.7 211.3,420.8 211.8,420.8 212.3,420.9 212.8,420.9 213.3,421 213.8,421 214.3,421.1 214.8,421.1 215.3,421.2 215.8,421.2 216.3,421.3 216.8,421.3 217.3,421.4 217.8,421.4 218.3,421.5 218.8,421.5 219.3,421.5 219.8,421.6 220.3,421.6 220.8,421.7 221.3,421.7 221.8,421.7 222.3,421.8 222.8,421.8 223.3,421.8 223.8,421.9 224.3,421.9 224.8,422 225.3,422 225.8,422 226.3,422.1 226.8,422.1 227.3,422.1 227.8,422.2 228.3,422.2 228.8,422.2 229.3,422.3 229.8,422.3 230.3,422.3 230.8,422.4 231.3,422.4 231.8,422.4 232.3,422.5 232.8,422.5 233.3,422.5 233.8,422.5 234.3,422.6 234.8,422.6 235.3,422.6 235.8,422.7 236.3,422.7 236.8,422.7 237.3,422.7 237.8,422.8 238.3,422.8 238.8,422.8 239.3,422.9 239.8,422.9 240.3,422.9 240.8,422.9 241.3,423 241.8,423 242.3,423 242.8,423 243.3,423 243.8,423.1 244.3,423.1 244.8,423.1 245.3,423.1 245.8,423.2 246.3,423.2 246.8,423.2 247.3,423.2 247.8,423.2 248.3,423.3 248.8,423.3 249.3,423.3 249.8,423.3 250.3,423.3 250.8,423.3 251.3,423.4 251.8,423.4 252.3,423.4 252.8,423.4 253.3,423.4 253.8,423.4 254.3,423.5 254.8,423.5 255.3,423.5 255.8,423.5 256.3,423.5 256.8,423.5 257.3,423.5 257.8,423.5 258.3,423.6" fill="none" stroke="#9933ff" stroke-width="1.2" stroke-linejoin="round" />
<polyline points="39.8,400.6 42.8,395.2 46,398 49,400.1 52.5,395 55.8,389.3 58.9,397 62,389 65.1,386.5 68.2,381 72.1,372.3 77.4,368.5 81.4,361.6 85.5,358.9 87.5,364.2 90,354 94.2,344.8 96.2,337.4 99.3,340 102.9,339.4 105.5,330 108.6,323 111.7,320.5 114.7,312 117.8,309 120.9,302 124,299.5 127.1,294 130.2,294 133.3,291 136.8,292 140.1,296.5 143.2,306 148.7,291.1 152.4,289.3 154.9,306 158.6,306.6 162.9,312.2 166.7,317.7 168.5,317.7 171,311.5 174.1,317.1 177.8,323.3 182.1,321.4 185.8,324.5 189.5,322.1 193.2,339.4 207.2,382.3 211.4,393.3 215.1,407.9 219.4,415.2 223,421.9 225.5,421.9 227.3,419.8 230.9,422.5 236.4,423.7 242.5,424.3 246.2,421 249.8,423.1 252.3,428.6 254.7,425.6 258.5,424.9" fill="none" stroke="#111" stroke-width="1.2" stroke-linejoin="round" />
<polyline points="39.8,399.8 40.3,399.6 40.8,399.4 41.3,399.3 41.8,399.1 42.3,398.9 42.8,398.7 43.3,398.5 43.8,398.4 44.3,398.2 44.8,398 45.3,397.8 45.8,397.7 46.3,397.5 46.8,397.3 47.3,397.1 47.8,396.9 48.3,396.7 48.8,396.4 49.3,396.2 49.8,396 50.3,395.8 50.8,395.6 51.3,395.4 51.8,395.2 52.3,395 52.8,394.7 53.3,394.5 53.8,394.1 54.3,393.8 54.8,393.4 55.3,393 55.8,392.7 56.3,392.4 56.8,392.1 57.3,391.8 57.8,391.5 58.3,391.2 58.8,390.9 59.3,390.5 59.8,390.1 60.3,389.6 60.8,389.1 61.3,388.7 61.8,388.2 62.3,387.7 62.8,387.2 63.3,386.8 63.8,386.3 64.3,385.8 64.8,385.3 65.3,384.8 65.8,384.3 66.3,383.8 66.8,383.3 67.3,382.8 67.8,382.2 68.3,381.7 68.8,381.1 69.3,380.4 69.8,379.8 70.3,379.1 70.8,378.4 71.3,377.8 71.8,377.2 72.3,376.6 72.8,376 73.3,375.5 73.8,374.9 74.3,374.2 74.8,373.6 75.3,372.9 75.8,372.1 76.3,371.4 76.8,370.6 77.3,369.9 77.8,369.3 78.3,368.6 78.8,368 79.3,367.3 79.8,366.7 80.3,366.1 80.8,365.4 81.3,364.8 81.8,364.2 82.3,363.6 82.8,363 83.3,362.4 83.8,361.7 84.3,361.1 84.8,360.4 85.3,359.7 85.8,359 86.3,358.3 86.8,357.6 87.3,356.9 87.8,356.2 88.3,355.5 88.8,354.8 89.3,354.1 89.8,353.4 90.3,352.7 90.8,352 91.3,351.3 91.8,350.6 92.3,349.9 92.8,349.2 93.3,348.5 93.8,347.8 94.3,347 94.8,346.2 95.3,345.4 95.8,344.6 96.3,343.8 96.8,343 97.3,342.1 97.8,341.4 98.3,340.6 98.8,339.8 99.3,339.1 99.8,338.4 100.3,337.8 100.8,337.1 101.3,336.5 101.8,335.9 102.3,335.2 102.8,334.4 103.3,333.5 103.8,332.6 104.3,331.7 104.8,330.7 105.3,329.8 105.8,329 106.3,328.2 106.8,327.4 107.3,326.6 107.8,325.8 108.3,325 108.8,324.2 109.3,323.4 109.8,322.5 110.3,321.7 110.8,320.9 111.3,320 111.8,319.1 112.3,318.2 112.8,317.2 113.3,316.1 113.8,315.1 114.3,314.1 114.8,313.2 115.3,312.3 115.8,311.5 116.3,310.6 116.8,309.8 117.3,309 117.8,308.2 118.3,307.4 118.8,306.6 119.3,305.8 119.8,305 120.3,304.2 120.8,303.5 121.3,302.7 121.8,301.9 122.3,301.1 122.8,300.3 123.3,299.6 123.8,298.9 124.3,298.2 124.8,297.6 125.3,297 125.8,296.4 126.3,295.9 126.8,295.4 127.3,294.9 127.8,294.5 128.3,294.1 128.8,293.8 129.3,293.5 129.8,293.2 130.3,293 130.8,292.8 131.3,292.6 131.8,292.4 132.3,292.2 132.8,292.1 133.3,292.1 133.8,292.1 134.3,292.2 134.8,292.3 135.3,292.5 135.8,292.6 136.3,292.8 136.8,293 137.3,293.2 137.8,293.4 138.3,293.7 138.8,294 139.3,294.3 139.8,294.6 140.3,294.9 140.8,295.4 141.3,295.9 141.8,296.4 142.3,296.9 142.8,297.5 143.3,298 143.8,298.5 144.3,299 144.8,299.5 145.3,300 145.8,300.5 146.3,301 146.8,301.5 147.3,302.1 147.8,302.6 148.3,303.1 148.8,303.6 149.3,304.1 149.8,304.5 150.3,305 150.8,305.4 151.3,305.8 151.8,306.2 152.3,306.5 152.8,306.9 153.3,307.2 153.8,307.6 154.3,307.9 154.8,308.2 155.3,308.4 155.8,308.6 156.3,308.8 156.8,309 157.3,309.1 157.8,309.2 158.3,309.4 158.8,309.4 159.3,309.5 159.8,309.6 160.3,309.6 160.8,309.7 161.3,309.7 161.8,309.7 162.3,309.7 162.8,309.7 163.3,309.7 163.8,309.7 164.3,309.7 164.8,309.7 165.3,309.7 165.8,309.6 166.3,309.6 166.8,309.5 167.3,309.5 167.8,309.4 168.3,309.4 168.8,309.3 169.3,309.2 169.8,309.2 170.3,309.1 170.8,309.1 171.3,309.1 171.8,309.2 172.3,309.2 172.8,309.3 173.3,309.5 173.8,309.6 174.3,309.8 174.8,310 175.3,310.3 175.8,310.7 176.3,311.1 176.8,311.6 177.3,312 177.8,312.4 178.3,312.9 178.8,313.3 179.3,313.8 179.8,314.4 180.3,314.9 180.8,315.5 181.3,316.2 181.8,316.9 182.3,317.6 182.8,318.4 183.3,319.3 183.8,320.2 184.3,321.1 184.8,322.2 185.3,323.3 185.8,324.4 186.3,325.6 186.8,326.8 187.3,328 187.8,329.3 188.3,330.6 188.8,332 189.3,333.3 189.8,334.6 190.3,335.9 190.8,337.2 191.3,338.5 191.8,339.8 192.3,341.1 192.8,342.4 193.3,343.7 193.8,345 194.3,346.2 194.8,347.5 195.3,348.8 195.8,350.2 196.3,351.6 196.8,353.1 197.3,354.8 197.8,356.5 198.3,358.2 198.8,359.9 199.3,361.6 199.8,363.1 200.3,364.7 200.8,366.2 201.3,367.6 201.8,369.1 202.3,370.6 202.8,372.1 203.3,373.6 203.8,375.2 204.3,376.7 204.8,378.2 205.3,379.6 205.8,381.1 206.3,382.4 206.8,383.8 207.3,385.1 207.8,386.4 208.3,387.7 208.8,388.9 209.3,390.2 209.8,391.4 210.3,392.5 210.8,393.7 211.3,394.8 211.8,395.9 212.3,397 212.8,398 213.3,399 213.8,400 214.3,401 214.8,401.9 215.3,402.8 215.8,403.7 216.3,404.5 216.8,405.4 217.3,406.2 217.8,407 218.3,407.8 218.8,408.6 219.3,409.4 219.8,410.2 220.3,410.9 220.8,411.6 221.3,412.3 221.8,412.9 222.3,413.5 222.8,414 223.3,414.6 223.8,415.1 224.3,415.6 224.8,416.1 225.3,416.6 225.8,417 226.3,417.5 226.8,417.9 227.3,418.3 227.8,418.6 228.3,418.9 228.8,419.3 229.3,419.5 229.8,419.8 230.3,420.1 230.8,420.4 231.3,420.6 231.8,420.9 232.3,421.1 232.8,421.3 233.3,421.5 233.8,421.7 234.3,421.9 234.8,422.1 235.3,422.3 235.8,422.5 236.3,422.7 236.8,422.8 237.3,423 237.8,423.1 238.3,423.3 238.8,423.4 239.3,423.5 239.8,423.6 240.3,423.7 240.8,423.8 241.3,423.9 241.8,424 242.3,424.1 242.8,424.2 243.3,424.2 243.8,424.3 244.3,424.4 244.8,424.5 245.3,424.5 245.8,424.6 246.3,424.6 246.8,424.6 247.3,424.6 247.8,424.7 248.3,424.7 248.8,424.7 249.3,424.7 249.8,424.7 250.3,424.7 250.8,424.7 251.3,424.8 251.8,424.8 252.3,424.8 252.8,424.8 253.3,424.8 253.8,424.8 254.3,424.8 254.8,424.8 255.3,424.8 255.8,424.9 256.3,424.9 256.8,424.9 257.3,424.9 257.8,424.9 258.3,424.9" fill="none" stroke="#ff0000" stroke-width="1.4" stroke-linejoin="round" />
<g fill="#fff" stroke="#ff0000" stroke-width="1.05"><circle cx="39.8" cy="399.8" r="1.6"/><circle cx="42.9" cy="398.7" r="1.6"/><circle cx="46" cy="397.6" r="1.6"/><circle cx="49.2" cy="396.3" r="1.6"/><circle cx="52.3" cy="395" r="1.6"/><circle cx="55.4" cy="393" r="1.6"/><circle cx="58.5" cy="391.1" r="1.6"/><circle cx="61.6" cy="388.3" r="1.6"/><circle cx="64.8" cy="385.3" r="1.6"/><circle cx="67.9" cy="382.2" r="1.6"/><circle cx="71" cy="378.2" r="1.6"/><circle cx="74.1" cy="374.5" r="1.6"/><circle cx="77.2" cy="370" r="1.6"/><circle cx="80.4" cy="366" r="1.6"/><circle cx="83.5" cy="362.2" r="1.6"/><circle cx="86.6" cy="357.8" r="1.6"/><circle cx="89.7" cy="353.5" r="1.6"/><circle cx="92.8" cy="349.2" r="1.6"/><circle cx="96" cy="344.3" r="1.6"/><circle cx="99.1" cy="339.4" r="1.6"/><circle cx="102.2" cy="335.3" r="1.6"/><circle cx="105.3" cy="329.8" r="1.6"/><circle cx="108.4" cy="324.8" r="1.6"/><circle cx="111.6" cy="319.6" r="1.6"/><circle cx="114.7" cy="313.4" r="1.6"/><circle cx="117.8" cy="308.2" r="1.6"/><circle cx="120.9" cy="303.3" r="1.6"/><circle cx="124" cy="298.5" r="1.6"/><circle cx="127.2" cy="295" r="1.6"/><circle cx="130.3" cy="293" r="1.6"/><circle cx="133.4" cy="292.1" r="1.6"/><circle cx="136.5" cy="292.9" r="1.6"/><circle cx="139.6" cy="294.5" r="1.6"/><circle cx="142.8" cy="297.4" r="1.6"/><circle cx="145.9" cy="300.6" r="1.6"/><circle cx="149" cy="303.8" r="1.6"/><circle cx="152.1" cy="306.4" r="1.6"/><circle cx="155.2" cy="308.4" r="1.6"/><circle cx="158.4" cy="309.4" r="1.6"/><circle cx="161.5" cy="309.7" r="1.6"/><circle cx="164.6" cy="309.7" r="1.6"/><circle cx="167.7" cy="309.4" r="1.6"/><circle cx="170.8" cy="309.1" r="1.6"/><circle cx="174" cy="309.7" r="1.6"/><circle cx="177.1" cy="311.8" r="1.6"/><circle cx="180.2" cy="314.8" r="1.6"/><circle cx="183.3" cy="319.3" r="1.6"/><circle cx="186.4" cy="325.9" r="1.6"/><circle cx="189.6" cy="334" r="1.6"/><circle cx="192.7" cy="342.1" r="1.6"/><circle cx="195.8" cy="350.2" r="1.6"/><circle cx="198.9" cy="360.3" r="1.6"/><circle cx="202" cy="369.8" r="1.6"/><circle cx="205.2" cy="379.2" r="1.6"/><circle cx="208.3" cy="387.7" r="1.6"/><circle cx="211.4" cy="395" r="1.6"/><circle cx="214.5" cy="401.4" r="1.6"/><circle cx="217.6" cy="406.7" r="1.6"/><circle cx="220.8" cy="411.5" r="1.6"/><circle cx="223.9" cy="415.2" r="1.6"/><circle cx="227" cy="418.1" r="1.6"/><circle cx="230.1" cy="420" r="1.6"/><circle cx="233.2" cy="421.5" r="1.6"/><circle cx="236.4" cy="422.7" r="1.6"/><circle cx="239.5" cy="423.6" r="1.6"/><circle cx="242.6" cy="424.1" r="1.6"/><circle cx="245.7" cy="424.6" r="1.6"/><circle cx="248.8" cy="424.7" r="1.6"/><circle cx="252" cy="424.8" r="1.6"/><circle cx="255.1" cy="424.8" r="1.6"/><circle cx="258.2" cy="424.9" r="1.6"/></g>
<text x="44.8" y="343.1" font-size="10.5" text-anchor="start" font-weight="bold" >Mo-S<tspan font-size="6.8" dy="3.3">2</tspan></text>
<line x1="71" y1="339.8" x2="114" y2="362.3" stroke="#111" stroke-width="1.0"/>
<line x1="71" y1="339.8" x2="96.5" y2="369.3" stroke="#111" stroke-width="1.0"/>
<text x="224.2" y="370.4" font-size="10.5" text-anchor="start" font-weight="bold" >Mo-S</text>
<line x1="223.1" y1="367.1" x2="187.3" y2="342.5" stroke="#111" stroke-width="1.0"/>
<line x1="223.1" y1="367.1" x2="175.5" y2="402.7" stroke="#111" stroke-width="1.0"/>
<rect x="312" y="252.7" width="224" height="180.4" fill="none" stroke="#333" stroke-width="1.3"/>
<line x1="340" y1="433.1" x2="340" y2="429.6" stroke="#333" stroke-width="1.0"/>
<line x1="368" y1="433.1" x2="368" y2="429.6" stroke="#333" stroke-width="1.0"/>
<line x1="396" y1="433.1" x2="396" y2="429.6" stroke="#333" stroke-width="1.0"/>
<line x1="424" y1="433.1" x2="424" y2="429.6" stroke="#333" stroke-width="1.0"/>
<line x1="452" y1="433.1" x2="452" y2="429.6" stroke="#333" stroke-width="1.0"/>
<line x1="480" y1="433.1" x2="480" y2="429.6" stroke="#333" stroke-width="1.0"/>
<line x1="508" y1="433.1" x2="508" y2="429.6" stroke="#333" stroke-width="1.0"/>
<line x1="326" y1="433.1" x2="326" y2="430.9" stroke="#333" stroke-width="1.0"/>
<line x1="354" y1="433.1" x2="354" y2="430.9" stroke="#333" stroke-width="1.0"/>
<line x1="382" y1="433.1" x2="382" y2="430.9" stroke="#333" stroke-width="1.0"/>
<line x1="410" y1="433.1" x2="410" y2="430.9" stroke="#333" stroke-width="1.0"/>
<line x1="438" y1="433.1" x2="438" y2="430.9" stroke="#333" stroke-width="1.0"/>
<line x1="466" y1="433.1" x2="466" y2="430.9" stroke="#333" stroke-width="1.0"/>
<line x1="494" y1="433.1" x2="494" y2="430.9" stroke="#333" stroke-width="1.0"/>
<line x1="522" y1="433.1" x2="522" y2="430.9" stroke="#333" stroke-width="1.0"/>
<text x="312" y="445.3" font-size="10" text-anchor="middle" font-weight="bold" >240</text>
<text x="340" y="445.3" font-size="10" text-anchor="middle" font-weight="bold" >238</text>
<text x="368" y="445.3" font-size="10" text-anchor="middle" font-weight="bold" >236</text>
<text x="396" y="445.3" font-size="10" text-anchor="middle" font-weight="bold" >234</text>
<text x="424" y="445.3" font-size="10" text-anchor="middle" font-weight="bold" >232</text>
<text x="452" y="445.3" font-size="10" text-anchor="middle" font-weight="bold" >230</text>
<text x="480" y="445.3" font-size="10" text-anchor="middle" font-weight="bold" >228</text>
<text x="508" y="445.3" font-size="10" text-anchor="middle" font-weight="bold" >226</text>
<text x="536" y="445.3" font-size="10" text-anchor="middle" font-weight="bold" >224</text>
<text x="424.5" y="461" font-size="13.5" text-anchor="middle" font-weight="bold" >Binding energy (ev)</text>
<text x="415.9" y="479" font-size="12.3" text-anchor="middle" font-weight="bold" >(d)</text>
<text x="0" y="0" font-size="12.0" text-anchor="middle" font-weight="bold" transform="translate(300.8,338.6) rotate(-90)">Iintensity (a.u.)</text>
<text x="532.3" y="263.9" font-size="12" text-anchor="end" font-weight="bold" >Mo 3d</text>
<rect x="323.3" y="256.3" width="86.9" height="70.5" fill="none" stroke="#777" stroke-width="1.0"/>
<line x1="323.3" y1="326.8" x2="323.3" y2="324.8" stroke="#444" stroke-width="0.7"/>
<text x="323.3" y="333.8" font-size="6.5" text-anchor="middle" font-weight="bold" >238</text>
<line x1="335.7" y1="326.8" x2="335.7" y2="324.8" stroke="#444" stroke-width="0.7"/>
<text x="335.7" y="333.8" font-size="6.5" text-anchor="middle" font-weight="bold" >236</text>
<line x1="348.1" y1="326.8" x2="348.1" y2="324.8" stroke="#444" stroke-width="0.7"/>
<text x="348.1" y="333.8" font-size="6.5" text-anchor="middle" font-weight="bold" >234</text>
<line x1="360.5" y1="326.8" x2="360.5" y2="324.8" stroke="#444" stroke-width="0.7"/>
<text x="360.5" y="333.8" font-size="6.5" text-anchor="middle" font-weight="bold" >232</text>
<line x1="373" y1="326.8" x2="373" y2="324.8" stroke="#444" stroke-width="0.7"/>
<text x="373" y="333.8" font-size="6.5" text-anchor="middle" font-weight="bold" >230</text>
<line x1="385.4" y1="326.8" x2="385.4" y2="324.8" stroke="#444" stroke-width="0.7"/>
<text x="385.4" y="333.8" font-size="6.5" text-anchor="middle" font-weight="bold" >228</text>
<line x1="397.8" y1="326.8" x2="397.8" y2="324.8" stroke="#444" stroke-width="0.7"/>
<text x="397.8" y="333.8" font-size="6.5" text-anchor="middle" font-weight="bold" >226</text>
<line x1="410.2" y1="326.8" x2="410.2" y2="324.8" stroke="#444" stroke-width="0.7"/>
<text x="410.2" y="333.8" font-size="6.5" text-anchor="middle" font-weight="bold" >224</text>
<text x="367.2" y="339.6" font-size="6.9" text-anchor="middle" font-weight="bold" >Binding energy (ev)</text>
<text x="0" y="0" font-size="7.2" text-anchor="middle" font-weight="bold" transform="translate(319.8,290.1) rotate(-90)">Iintensity (a.u.)</text>
<text x="409.1" y="263.9" font-size="7.9" text-anchor="end" font-weight="bold" >Mo 3d</text>
<polyline points="323.6,313.5 324.8,313.7 326.4,313.5 328,313.5 329.4,313 330.7,313.3 332,313.4 333.3,313.7 334.7,314.3 336,313.3 337.3,312.7 338.6,311 340,309.8 341.5,309 343.1,308.6 344.7,307.9 346.1,307.5 347.5,308.2 349,308.6 350.8,310.1 352.8,310.8 354.5,310.8 355.8,309.5 356.9,307.4 358,305.4 359.1,303.2 360.1,300.5 361,299.3 361.8,297.9 362.5,297.4 363.3,296.4 364.3,295.2 365.5,294.1 366.5,292.9 367.4,291.2 368.2,289.3 369,288.3 369.8,286.5 370.6,285 371.4,284 372.1,284.7 372.8,286.7 373.5,288.6 374.3,292.5 375.1,296.2 376,299.7 377.1,303.4 378.4,307.3 379.6,309.2 380.8,309.3 381.9,308.1 383,305.9 384,303.5 385.1,301.2 386,297.7 386.9,293.7 387.7,289.1 388.5,284.9 389.2,280.5 389.8,277.2 390.3,274.5 390.8,271.9 391.2,271.2 391.6,271.1 392,270.5 392.5,271.8 393,275.3 393.6,280.9 394.3,288.1 395,294.7 395.6,301.5 396.3,308.3 397.1,313 398.1,314.8 399.2,314.4 400.4,315.2 401.8,315.1 403.4,315.8 405,315.6 406.8,317 408.7,317.1 410,317.6" fill="none" stroke="#2a2aff" stroke-width="1.3" stroke-linejoin="round" />
<polyline points="323.6,322.2 325.2,322.5 327.6,322.2 330,322.1 332.3,321.8 334.6,322.1 337,321.6 339.6,321.5 342.3,321.2 344.7,321.6 346.7,321 348.3,321.2 350,321.1 351.7,321.7 353.3,321.7 355,321.6 356.7,320.8 358.4,320.6 360,320 361.4,319.3 362.7,318.8 364,319.5 365.2,318.4 366.4,318.6 367.6,318.6 368.8,319 369.9,318.8 371,319.5 372,319.8 372.9,320.7 374,320.3 375.4,320.9 376.9,321.3 378.5,321.9 380,321.4 381.5,321.2 383,321.2 384.3,320.4 385.6,319.6 387,319.5 388.6,319 390.2,317.8 391.6,316.8 392.5,317.3 393.2,318.1 394,318.3 394.9,319.6 395.8,320.5 397,321.2 398.4,321.7 400,321.9 402,322.2 404.7,322 407.8,322.4 410,322.1" fill="none" stroke="#ff2a2a" stroke-width="1.2" stroke-linejoin="round" />
<text x="325" y="306.3" font-size="6.3" font-weight="bold">MoS<tspan font-size="4.5" dy="1.5">2</tspan><tspan dy="-1.5">0.5</tspan></text>
<text x="325" y="319.2" font-size="6.3" font-weight="bold">MoS<tspan font-size="4.5" dy="1.5">2</tspan><tspan dy="-1.5">0.1</tspan></text>
<polyline points="312.3,416.7 312.8,416.7 313.3,416.7 313.8,416.7 314.3,416.7 314.8,416.7 315.3,416.8 315.8,416.8 316.3,416.8 316.8,416.8 317.3,416.8 317.8,416.8 318.3,416.8 318.8,416.8 319.3,416.8 319.8,416.8 320.3,416.8 320.8,416.9 321.3,416.9 321.8,416.9 322.3,416.9 322.8,416.9 323.3,416.9 323.8,416.9 324.3,416.9 324.8,416.9 325.3,416.9 325.8,416.9 326.3,416.9 326.8,417 327.3,417 327.8,417 328.3,417 328.8,417 329.3,417 329.8,417 330.3,417 330.8,417 331.3,417 331.8,417 332.3,417.1 332.8,417.1 333.3,417.1 333.8,417.1 334.3,417.1 334.8,417.1 335.3,417.1 335.8,417.1 336.3,417.1 336.8,417.1 337.3,417.1 337.8,417.1 338.3,417.2 338.8,417.2 339.3,417.2 339.8,417.2 340.3,417.2 340.8,417.2 341.3,417.2 341.8,417.2 342.3,417.2 342.8,417.2 343.3,417.2 343.8,417.3 344.3,417.3 344.8,417.3 345.3,417.3 345.8,417.3 346.3,417.3 346.8,417.3 347.3,417.3 347.8,417.3 348.3,417.3 348.8,417.3 349.3,417.3 349.8,417.4 350.3,417.4 350.8,417.4 351.3,417.4 351.8,417.4 352.3,417.4 352.8,417.4 353.3,417.4 353.8,417.4 354.3,417.4 354.8,417.4 355.3,417.5 355.8,417.5 356.3,417.5 356.8,417.5 357.3,417.5 357.8,417.5 358.3,417.5 358.8,417.5 359.3,417.5 359.8,417.5 360.3,417.5 360.8,417.5 361.3,417.6 361.8,417.6 362.3,417.6 362.8,417.6 363.3,417.6 363.8,417.6 364.3,417.6 364.8,417.6 365.3,417.6 365.8,417.6 366.3,417.6 366.8,417.7 367.3,417.7 367.8,417.7 368.3,417.7 368.8,417.7 369.3,417.7 369.8,417.7 370.3,417.7 370.8,417.7 371.3,417.7 371.8,417.7 372.3,417.7 372.8,417.8 373.3,417.8 373.8,417.8 374.3,417.8 374.8,417.8 375.3,417.8 375.8,417.8 376.3,417.8 376.8,417.8 377.3,417.8 377.8,417.8 378.3,417.9 378.8,417.9 379.3,417.9 379.8,417.9 380.3,417.9 380.8,417.9 381.3,417.9 381.8,417.9 382.3,417.9 382.8,417.9 383.3,417.9 383.8,418 384.3,418 384.8,418 385.3,418 385.8,418 386.3,418 386.8,418 387.3,418 387.8,418 388.3,418 388.8,418 389.3,418 389.8,418.1 390.3,418.1 390.8,418.1 391.3,418.1 391.8,418.1 392.3,418.1 392.8,418.1 393.3,418.1 393.8,418.1 394.3,418.1 394.8,418.1 395.3,418.2 395.8,418.2 396.3,418.2 396.8,418.2 397.3,418.2 397.8,418.2 398.3,418.2 398.8,418.2 399.3,418.2 399.8,418.2 400.3,418.2 400.8,418.2 401.3,418.3 401.8,418.3 402.3,418.3 402.8,418.3 403.3,418.3 403.8,418.3 404.3,418.3 404.8,418.3 405.3,418.3 405.8,418.3 406.3,418.3 406.8,418.4 407.3,418.4 407.8,418.4 408.3,418.4 408.8,418.4 409.3,418.4 409.8,418.4 410.3,418.4 410.8,418.4 411.3,418.4 411.8,418.4 412.3,418.4 412.8,418.5 413.3,418.5 413.8,418.5 414.3,418.5 414.8,418.5 415.3,418.5 415.8,418.5 416.3,418.5 416.8,418.5 417.3,418.5 417.8,418.5 418.3,418.6 418.8,418.6 419.3,418.6 419.8,418.6 420.3,418.6 420.8,418.6 421.3,418.6 421.8,418.6 422.3,418.6 422.8,418.6 423.3,418.6 423.8,418.6 424.3,418.7 424.8,418.7 425.3,418.7 425.8,418.7 426.3,418.7 426.8,418.7 427.3,418.7 427.8,418.7 428.3,418.7 428.8,418.7 429.3,418.7 429.8,418.8 430.3,418.8 430.8,418.8 431.3,418.8 431.8,418.8 432.3,418.8 432.8,418.8 433.3,418.8 433.8,418.8 434.3,418.8 434.8,418.8 435.3,418.8 435.8,418.9 436.3,418.9 436.8,418.9 437.3,418.9 437.8,418.9 438.3,418.9 438.8,418.9 439.3,418.9 439.8,418.9 440.3,418.9 440.8,418.9 441.3,419 441.8,419 442.3,419 442.8,419 443.3,419 443.8,419 444.3,419 444.8,419 445.3,419 445.8,419 446.3,419 446.8,419 447.3,419.1 447.8,419.1 448.3,419.1 448.8,419.1 449.3,419.1 449.8,419.1 450.3,419.1 450.8,419.1 451.3,419.1 451.8,419.1 452.3,419.1 452.8,419.2 453.3,419.2 453.8,419.2 454.3,419.2 454.8,419.2 455.3,419.2 455.8,419.2 456.3,419.2 456.8,419.2 457.3,419.2 457.8,419.2 458.3,419.2 458.8,419.3 459.3,419.3 459.8,419.3 460.3,419.3 460.8,419.3 461.3,419.3 461.8,419.3 462.3,419.3 462.8,419.3 463.3,419.3 463.8,419.3 464.3,419.4 464.8,419.4 465.3,419.4 465.8,419.4 466.3,419.4 466.8,419.4 467.3,419.4 467.8,419.4 468.3,419.4 468.8,419.4 469.3,419.4 469.8,419.4 470.3,419.5 470.8,419.5 471.3,419.5 471.8,419.5 472.3,419.5 472.8,419.5 473.3,419.5 473.8,419.5 474.3,419.5 474.8,419.5 475.3,419.5 475.8,419.6 476.3,419.6 476.8,419.6 477.3,419.6 477.8,419.6 478.3,419.6 478.8,419.6 479.3,419.6 479.8,419.6 480.3,419.6 480.8,419.6 481.3,419.6 481.8,419.7 482.3,419.7 482.8,419.7 483.3,419.7 483.8,419.7 484.3,419.7 484.8,419.7 485.3,419.7 485.8,419.7 486.3,419.7 486.8,419.7 487.3,419.8 487.8,419.8 488.3,419.8 488.8,419.8 489.3,419.8 489.8,419.8 490.3,419.8 490.8,419.8 491.3,419.8 491.8,419.8 492.3,419.8 492.8,419.8 493.3,419.9 493.8,419.9 494.3,419.9 494.8,419.9 495.3,419.9 495.8,419.9 496.3,419.9 496.8,419.9 497.3,419.9 497.8,419.9 498.3,419.9 498.8,420 499.3,420 499.8,420 500.3,420 500.8,420 501.3,420 501.8,420 502.3,420 502.8,420 503.3,420 503.8,420 504.3,420 504.8,420.1 505.3,420.1 505.8,420.1 506.3,420.1 506.8,420.1 507.3,420.1 507.8,420.1 508.3,420.1 508.8,420.1 509.3,420.1 509.8,420.1 510.3,420.2 510.8,420.2 511.3,420.2 511.8,420.2 512.3,420.2 512.8,420.2 513.3,420.2 513.8,420.2 514.3,420.2 514.8,420.2 515.3,420.2 515.8,420.2 516.3,420.3 516.8,420.3 517.3,420.3 517.8,420.3 518.3,420.3 518.8,420.3 519.3,420.3 519.8,420.3 520.3,420.3 520.8,420.3 521.3,420.3 521.8,420.4 522.3,420.4 522.8,420.4 523.3,420.4 523.8,420.4 524.3,420.4 524.8,420.4 525.3,420.4 525.8,420.4 526.3,420.4 526.8,420.4 527.3,420.4 527.8,420.5 528.3,420.5 528.8,420.5 529.3,420.5 529.8,420.5 530.3,420.5 530.8,420.5 531.3,420.5 531.8,420.5 532.3,420.5 532.8,420.5 533.3,420.6 533.8,420.6 534.3,420.6 534.8,420.6 535.3,420.6" fill="none" stroke="#3333ee" stroke-width="1.2" stroke-linejoin="round" />
<polyline points="312.3,416.3 312.8,416.3 313.3,416.3 313.8,416.3 314.3,416.3 314.8,416.3 315.3,416.3 315.8,416.3 316.3,416.3 316.8,416.3 317.3,416.3 317.8,416.3 318.3,416.3 318.8,416.3 319.3,416.3 319.8,416.3 320.3,416.3 320.8,416.3 321.3,416.3 321.8,416.3 322.3,416.3 322.8,416.3 323.3,416.3 323.8,416.3 324.3,416.3 324.8,416.3 325.3,416.3 325.8,416.3 326.3,416.3 326.8,416.3 327.3,416.3 327.8,416.3 328.3,416.3 328.8,416.3 329.3,416.3 329.8,416.3 330.3,416.3 330.8,416.3 331.3,416.3 331.8,416.3 332.3,416.3 332.8,416.3 333.3,416.3 333.8,416.3 334.3,416.2 334.8,416.2 335.3,416.2 335.8,416.2 336.3,416.2 336.8,416.2 337.3,416.2 337.8,416.2 338.3,416.2 338.8,416.2 339.3,416.1 339.8,416.1 340.3,416.1 340.8,416.1 341.3,416.1 341.8,416.1 342.3,416 342.8,416 343.3,416 343.8,416 344.3,415.9 344.8,415.9 345.3,415.9 345.8,415.8 346.3,415.8 346.8,415.8 347.3,415.7 347.8,415.7 348.3,415.6 348.8,415.6 349.3,415.5 349.8,415.5 350.3,415.4 350.8,415.4 351.3,415.3 351.8,415.2 352.3,415.1 352.8,415.1 353.3,415 353.8,414.9 354.3,414.8 354.8,414.7 355.3,414.6 355.8,414.5 356.3,414.3 356.8,414.2 357.3,414.1 357.8,413.9 358.3,413.8 358.8,413.6 359.3,413.5 359.8,413.3 360.3,413.1 360.8,412.9 361.3,412.7 361.8,412.5 362.3,412.3 362.8,412.1 363.3,411.9 363.8,411.6 364.3,411.4 364.8,411.1 365.3,410.9 365.8,410.6 366.3,410.3 366.8,410 367.3,409.7 367.8,409.4 368.3,409.1 368.8,408.7 369.3,408.4 369.8,408.1 370.3,407.7 370.8,407.3 371.3,407 371.8,406.6 372.3,406.2 372.8,405.8 373.3,405.4 373.8,405 374.3,404.6 374.8,404.2 375.3,403.8 375.8,403.3 376.3,402.9 376.8,402.5 377.3,402.1 377.8,401.6 378.3,401.2 378.8,400.8 379.3,400.4 379.8,400 380.3,399.5 380.8,399.1 381.3,398.7 381.8,398.4 382.3,398 382.8,397.6 383.3,397.3 383.8,396.9 384.3,396.6 384.8,396.3 385.3,396 385.8,395.8 386.3,395.5 386.8,395.3 387.3,395.1 387.8,394.9 388.3,394.8 388.8,394.7 389.3,394.6 389.8,394.5 390.3,394.5 390.8,394.5 391.3,394.5 391.8,394.6 392.3,394.7 392.8,394.9 393.3,395.1 393.8,395.4 394.3,395.7 394.8,396.1 395.3,396.5 395.8,396.9 396.3,397.3 396.8,397.8 397.3,398.3 397.8,398.8 398.3,399.4 398.8,399.9 399.3,400.5 399.8,401.1 400.3,401.7 400.8,402.2 401.3,402.8 401.8,403.4 402.3,404 402.8,404.6 403.3,405.1 403.8,405.7 404.3,406.3 404.8,406.8 405.3,407.3 405.8,407.8 406.3,408.4 406.8,408.8 407.3,409.3 407.8,409.8 408.3,410.2 408.8,410.7 409.3,411.1 409.8,411.5 410.3,411.8 410.8,412.2 411.3,412.6 411.8,412.9 412.3,413.2 412.8,413.5 413.3,413.8 413.8,414.1 414.3,414.3 414.8,414.5 415.3,414.8 415.8,415 416.3,415.2 416.8,415.4 417.3,415.6 417.8,415.7 418.3,415.9 418.8,416 419.3,416.2 419.8,416.3 420.3,416.4 420.8,416.5 421.3,416.6 421.8,416.7 422.3,416.8 422.8,416.9 423.3,417 423.8,417.1 424.3,417.2 424.8,417.2 425.3,417.3 425.8,417.4 426.3,417.4 426.8,417.5 427.3,417.5 427.8,417.6 428.3,417.6 428.8,417.7 429.3,417.7 429.8,417.7 430.3,417.8 430.8,417.8 431.3,417.8 431.8,417.9 432.3,417.9 432.8,417.9 433.3,418 433.8,418 434.3,418 434.8,418.1 435.3,418.1 435.8,418.1 436.3,418.1 436.8,418.2 437.3,418.2 437.8,418.2 438.3,418.2 438.8,418.2 439.3,418.3 439.8,418.3 440.3,418.3 440.8,418.3 441.3,418.3 441.8,418.4 442.3,418.4 442.8,418.4 443.3,418.4 443.8,418.4 444.3,418.5 444.8,418.5 445.3,418.5 445.8,418.5 446.3,418.5 446.8,418.6 447.3,418.6 447.8,418.6 448.3,418.6 448.8,418.6 449.3,418.6 449.8,418.7 450.3,418.7 450.8,418.7 451.3,418.7 451.8,418.7 452.3,418.7 452.8,418.7 453.3,418.8 453.8,418.8 454.3,418.8 454.8,418.8 455.3,418.8 455.8,418.8 456.3,418.8 456.8,418.9 457.3,418.9 457.8,418.9 458.3,418.9 458.8,418.9 459.3,418.9 459.8,418.9 460.3,419 460.8,419 461.3,419 461.8,419 462.3,419 462.8,419 463.3,419 463.8,419 464.3,419.1 464.8,419.1 465.3,419.1 465.8,419.1 466.3,419.1 466.8,419.1 467.3,419.1 467.8,419.1 468.3,419.2 468.8,419.2 469.3,419.2 469.8,419.2 470.3,419.2 470.8,419.2 471.3,419.2 471.8,419.2 472.3,419.3 472.8,419.3 473.3,419.3 473.8,419.3 474.3,419.3 474.8,419.3 475.3,419.3 475.8,419.3 476.3,419.3 476.8,419.4 477.3,419.4 477.8,419.4 478.3,419.4 478.8,419.4 479.3,419.4 479.8,419.4 480.3,419.4 480.8,419.4 481.3,419.5 481.8,419.5 482.3,419.5 482.8,419.5 483.3,419.5 483.8,419.5 484.3,419.5 484.8,419.5 485.3,419.5 485.8,419.5 486.3,419.6 486.8,419.6 487.3,419.6 487.8,419.6 488.3,419.6 488.8,419.6 489.3,419.6 489.8,419.6 490.3,419.6 490.8,419.7 491.3,419.7 491.8,419.7 492.3,419.7 492.8,419.7 493.3,419.7 493.8,419.7 494.3,419.7 494.8,419.7 495.3,419.7 495.8,419.8 496.3,419.8 496.8,419.8 497.3,419.8 497.8,419.8 498.3,419.8 498.8,419.8 499.3,419.8 499.8,419.8 500.3,419.8 500.8,419.9 501.3,419.9 501.8,419.9 502.3,419.9 502.8,419.9 503.3,419.9 503.8,419.9 504.3,419.9 504.8,419.9 505.3,419.9 505.8,420 506.3,420 506.8,420 507.3,420 507.8,420 508.3,420 508.8,420 509.3,420 509.8,420 510.3,420 510.8,420 511.3,420.1 511.8,420.1 512.3,420.1 512.8,420.1 513.3,420.1 513.8,420.1 514.3,420.1 514.8,420.1 515.3,420.1 515.8,420.1 516.3,420.2 516.8,420.2 517.3,420.2 517.8,420.2 518.3,420.2 518.8,420.2 519.3,420.2 519.8,420.2 520.3,420.2 520.8,420.2 521.3,420.2 521.8,420.3 522.3,420.3 522.8,420.3 523.3,420.3 523.8,420.3 524.3,420.3 524.8,420.3 525.3,420.3 525.8,420.3 526.3,420.3 526.8,420.4 527.3,420.4 527.8,420.4 528.3,420.4 528.8,420.4 529.3,420.4 529.8,420.4 530.3,420.4 530.8,420.4 531.3,420.4 531.8,420.4 532.3,420.5 532.8,420.5 533.3,420.5 533.8,420.5 534.3,420.5 534.8,420.5 535.3,420.5" fill="none" stroke="#2a2ae0" stroke-width="1.2" stroke-linejoin="round" />
<polyline points="312.3,416.7 312.8,416.7 313.3,416.7 313.8,416.7 314.3,416.7 314.8,416.7 315.3,416.8 315.8,416.8 316.3,416.8 316.8,416.8 317.3,416.8 317.8,416.8 318.3,416.8 318.8,416.8 319.3,416.8 319.8,416.8 320.3,416.8 320.8,416.9 321.3,416.9 321.8,416.9 322.3,416.9 322.8,416.9 323.3,416.9 323.8,416.9 324.3,416.9 324.8,416.9 325.3,416.9 325.8,416.9 326.3,416.9 326.8,417 327.3,417 327.8,417 328.3,417 328.8,417 329.3,417 329.8,417 330.3,417 330.8,417 331.3,417 331.8,417 332.3,417 332.8,417.1 333.3,417.1 333.8,417.1 334.3,417.1 334.8,417.1 335.3,417.1 335.8,417.1 336.3,417.1 336.8,417.1 337.3,417.1 337.8,417.1 338.3,417.2 338.8,417.2 339.3,417.2 339.8,417.2 340.3,417.2 340.8,417.2 341.3,417.2 341.8,417.2 342.3,417.2 342.8,417.2 343.3,417.2 343.8,417.2 344.3,417.3 344.8,417.3 345.3,417.3 345.8,417.3 346.3,417.3 346.8,417.3 347.3,417.3 347.8,417.3 348.3,417.3 348.8,417.3 349.3,417.3 349.8,417.4 350.3,417.4 350.8,417.4 351.3,417.4 351.8,417.4 352.3,417.4 352.8,417.4 353.3,417.4 353.8,417.4 354.3,417.4 354.8,417.4 355.3,417.4 355.8,417.5 356.3,417.5 356.8,417.5 357.3,417.5 357.8,417.5 358.3,417.5 358.8,417.5 359.3,417.5 359.8,417.5 360.3,417.5 360.8,417.5 361.3,417.6 361.8,417.6 362.3,417.6 362.8,417.6 363.3,417.6 363.8,417.6 364.3,417.6 364.8,417.6 365.3,417.6 365.8,417.6 366.3,417.6 366.8,417.6 367.3,417.7 367.8,417.7 368.3,417.7 368.8,417.7 369.3,417.7 369.8,417.7 370.3,417.7 370.8,417.7 371.3,417.7 371.8,417.7 372.3,417.7 372.8,417.7 373.3,417.8 373.8,417.8 374.3,417.8 374.8,417.8 375.3,417.8 375.8,417.8 376.3,417.8 376.8,417.8 377.3,417.8 377.8,417.8 378.3,417.8 378.8,417.9 379.3,417.9 379.8,417.9 380.3,417.9 380.8,417.9 381.3,417.9 381.8,417.9 382.3,417.9 382.8,417.9 383.3,417.9 383.8,417.9 384.3,417.9 384.8,418 385.3,418 385.8,418 386.3,418 386.8,418 387.3,418 387.8,418 388.3,418 388.8,418 389.3,418 389.8,418 390.3,418 390.8,418.1 391.3,418.1 391.8,418.1 392.3,418.1 392.8,418.1 393.3,418.1 393.8,418.1 394.3,418.1 394.8,418.1 395.3,418.1 395.8,418.1 396.3,418.1 396.8,418.2 397.3,418.2 397.8,418.2 398.3,418.2 398.8,418.2 399.3,418.2 399.8,418.2 400.3,418.2 400.8,418.2 401.3,418.2 401.8,418.2 402.3,418.2 402.8,418.2 403.3,418.2 403.8,418.3 404.3,418.3 404.8,418.3 405.3,418.3 405.8,418.3 406.3,418.3 406.8,418.3 407.3,418.3 407.8,418.3 408.3,418.2 408.8,418.2 409.3,418.2 409.8,418.2 410.3,418.1 410.8,418.1 411.3,418 411.8,418 412.3,417.9 412.8,417.8 413.3,417.7 413.8,417.5 414.3,417.3 414.8,417.1 415.3,416.9 415.8,416.6 416.3,416.3 416.8,415.9 417.3,415.5 417.8,415 418.3,414.5 418.8,413.9 419.3,413.2 419.8,412.5 420.3,411.7 420.8,410.8 421.3,409.9 421.8,408.9 422.3,407.8 422.8,406.7 423.3,405.5 423.8,404.2 424.3,403 424.8,401.6 425.3,400.3 425.8,398.9 426.3,397.6 426.8,396.3 427.3,395 427.8,393.7 428.3,392.5 428.8,391.4 429.3,390.4 429.8,389.5 430.3,388.7 430.8,388 431.3,387.5 431.8,387.1 432.3,386.9 432.8,386.9 433.3,387 433.8,387.2 434.3,387.5 434.8,388 435.3,388.6 435.8,389.3 436.3,390.2 436.8,391.1 437.3,392.1 437.8,393.2 438.3,394.3 438.8,395.5 439.3,396.7 439.8,397.9 440.3,399.2 440.8,400.5 441.3,401.7 441.8,403 442.3,404.2 442.8,405.4 443.3,406.5 443.8,407.6 444.3,408.6 444.8,409.6 445.3,410.5 445.8,411.4 446.3,412.2 446.8,413 447.3,413.7 447.8,414.3 448.3,414.9 448.8,415.4 449.3,415.9 449.8,416.3 450.3,416.7 450.8,417 451.3,417.3 451.8,417.6 452.3,417.8 452.8,418 453.3,418.2 453.8,418.3 454.3,418.5 454.8,418.6 455.3,418.7 455.8,418.8 456.3,418.9 456.8,418.9 457.3,419 457.8,419 458.3,419.1 458.8,419.1 459.3,419.1 459.8,419.2 460.3,419.2 460.8,419.2 461.3,419.2 461.8,419.2 462.3,419.3 462.8,419.3 463.3,419.3 463.8,419.3 464.3,419.3 464.8,419.3 465.3,419.3 465.8,419.3 466.3,419.3 466.8,419.4 467.3,419.4 467.8,419.4 468.3,419.4 468.8,419.4 469.3,419.4 469.8,419.4 470.3,419.4 470.8,419.4 471.3,419.4 471.8,419.5 472.3,419.5 472.8,419.5 473.3,419.5 473.8,419.5 474.3,419.5 474.8,419.5 475.3,419.5 475.8,419.5 476.3,419.5 476.8,419.5 477.3,419.6 477.8,419.6 478.3,419.6 478.8,419.6 479.3,419.6 479.8,419.6 480.3,419.6 480.8,419.6 481.3,419.6 481.8,419.6 482.3,419.6 482.8,419.7 483.3,419.7 483.8,419.7 484.3,419.7 484.8,419.7 485.3,419.7 485.8,419.7 486.3,419.7 486.8,419.7 487.3,419.7 487.8,419.7 488.3,419.8 488.8,419.8 489.3,419.8 489.8,419.8 490.3,419.8 490.8,419.8 491.3,419.8 491.8,419.8 492.3,419.8 492.8,419.8 493.3,419.8 493.8,419.9 494.3,419.9 494.8,419.9 495.3,419.9 495.8,419.9 496.3,419.9 496.8,419.9 497.3,419.9 497.8,419.9 498.3,419.9 498.8,419.9 499.3,420 499.8,420 500.3,420 500.8,420 501.3,420 501.8,420 502.3,420 502.8,420 503.3,420 503.8,420 504.3,420 504.8,420 505.3,420.1 505.8,420.1 506.3,420.1 506.8,420.1 507.3,420.1 507.8,420.1 508.3,420.1 508.8,420.1 509.3,420.1 509.8,420.1 510.3,420.1 510.8,420.2 511.3,420.2 511.8,420.2 512.3,420.2 512.8,420.2 513.3,420.2 513.8,420.2 514.3,420.2 514.8,420.2 515.3,420.2 515.8,420.2 516.3,420.3 516.8,420.3 517.3,420.3 517.8,420.3 518.3,420.3 518.8,420.3 519.3,420.3 519.8,420.3 520.3,420.3 520.8,420.3 521.3,420.3 521.8,420.3 522.3,420.4 522.8,420.4 523.3,420.4 523.8,420.4 524.3,420.4 524.8,420.4 525.3,420.4 525.8,420.4 526.3,420.4 526.8,420.4 527.3,420.4 527.8,420.5 528.3,420.5 528.8,420.5 529.3,420.5 529.8,420.5 530.3,420.5 530.8,420.5 531.3,420.5 531.8,420.5 532.3,420.5 532.8,420.5 533.3,420.5 533.8,420.6 534.3,420.6 534.8,420.6 535.3,420.6" fill="none" stroke="#22228a" stroke-width="1.2" stroke-linejoin="round" />
<polyline points="312.3,415.9 312.8,415.9 313.3,415.9 313.8,415.9 314.3,416 314.8,416 315.3,416 315.8,416 316.3,416 316.8,416 317.3,416 317.8,416 318.3,416 318.8,416 319.3,416 319.8,416 320.3,416 320.8,416 321.3,416 321.8,416 322.3,416 322.8,416 323.3,416 323.8,416 324.3,416 324.8,416 325.3,416 325.8,416 326.3,416 326.8,416 327.3,416 327.8,416 328.3,416 328.8,416 329.3,416 329.8,416 330.3,416 330.8,416 331.3,416 331.8,416 332.3,416 332.8,416 333.3,416 333.8,416 334.3,416 334.8,416 335.3,416 335.8,416 336.3,416 336.8,416 337.3,416 337.8,416 338.3,416 338.8,416 339.3,416 339.8,416 340.3,416 340.8,416 341.3,416 341.8,416 342.3,416 342.8,416 343.3,416 343.8,415.9 344.3,415.9 344.8,415.9 345.3,415.9 345.8,415.9 346.3,415.9 346.8,415.9 347.3,415.9 347.8,415.9 348.3,415.9 348.8,415.9 349.3,415.9 349.8,415.9 350.3,415.9 350.8,415.9 351.3,415.9 351.8,415.9 352.3,415.9 352.8,415.8 353.3,415.8 353.8,415.8 354.3,415.8 354.8,415.8 355.3,415.8 355.8,415.8 356.3,415.8 356.8,415.8 357.3,415.8 357.8,415.8 358.3,415.7 358.8,415.7 359.3,415.7 359.8,415.7 360.3,415.7 360.8,415.7 361.3,415.7 361.8,415.7 362.3,415.6 362.8,415.6 363.3,415.6 363.8,415.6 364.3,415.6 364.8,415.6 365.3,415.5 365.8,415.5 366.3,415.5 366.8,415.5 367.3,415.5 367.8,415.5 368.3,415.4 368.8,415.4 369.3,415.4 369.8,415.4 370.3,415.4 370.8,415.3 371.3,415.3 371.8,415.3 372.3,415.3 372.8,415.2 373.3,415.2 373.8,415.2 374.3,415.2 374.8,415.1 375.3,415.1 375.8,415.1 376.3,415.1 376.8,415 377.3,415 377.8,415 378.3,414.9 378.8,414.9 379.3,414.9 379.8,414.8 380.3,414.8 380.8,414.7 381.3,414.7 381.8,414.7 382.3,414.6 382.8,414.6 383.3,414.5 383.8,414.5 384.3,414.5 384.8,414.4 385.3,414.4 385.8,414.3 386.3,414.3 386.8,414.2 387.3,414.1 387.8,414.1 388.3,414 388.8,414 389.3,413.9 389.8,413.8 390.3,413.8 390.8,413.7 391.3,413.6 391.8,413.6 392.3,413.5 392.8,413.4 393.3,413.3 393.8,413.3 394.3,413.2 394.8,413.1 395.3,413 395.8,412.9 396.3,412.8 396.8,412.7 397.3,412.6 397.8,412.5 398.3,412.4 398.8,412.2 399.3,412.1 399.8,412 400.3,411.9 400.8,411.7 401.3,411.6 401.8,411.4 402.3,411.3 402.8,411.1 403.3,411 403.8,410.8 404.3,410.6 404.8,410.5 405.3,410.3 405.8,410.1 406.3,409.9 406.8,409.7 407.3,409.5 407.8,409.2 408.3,409 408.8,408.8 409.3,408.5 409.8,408.3 410.3,408 410.8,407.7 411.3,407.4 411.8,407.1 412.3,406.8 412.8,406.5 413.3,406.2 413.8,405.8 414.3,405.5 414.8,405.1 415.3,404.8 415.8,404.4 416.3,404 416.8,403.6 417.3,403.2 417.8,402.7 418.3,402.3 418.8,401.8 419.3,401.3 419.8,400.9 420.3,400.4 420.8,399.8 421.3,399.3 421.8,398.8 422.3,398.2 422.8,397.7 423.3,397.1 423.8,396.5 424.3,395.9 424.8,395.3 425.3,394.6 425.8,394 426.3,393.3 426.8,392.7 427.3,392 427.8,391.3 428.3,390.6 428.8,389.9 429.3,389.2 429.8,388.5 430.3,387.8 430.8,387.1 431.3,386.4 431.8,385.7 432.3,384.9 432.8,384.2 433.3,383.5 433.8,382.9 434.3,382.2 434.8,381.5 435.3,380.9 435.8,380.3 436.3,379.7 436.8,379.1 437.3,378.6 437.8,378.1 438.3,377.6 438.8,377.2 439.3,376.8 439.8,376.5 440.3,376.2 440.8,376 441.3,375.8 441.8,375.6 442.3,375.5 442.8,375.5 443.3,375.5 443.8,375.6 444.3,375.7 444.8,375.8 445.3,376 445.8,376.2 446.3,376.5 446.8,376.7 447.3,377.1 447.8,377.4 448.3,377.8 448.8,378.2 449.3,378.6 449.8,379.1 450.3,379.6 450.8,380.1 451.3,380.6 451.8,381.2 452.3,381.7 452.8,382.3 453.3,382.9 453.8,383.5 454.3,384.1 454.8,384.7 455.3,385.3 455.8,385.9 456.3,386.6 456.8,387.2 457.3,387.8 457.8,388.5 458.3,389.1 458.8,389.7 459.3,390.3 459.8,391 460.3,391.6 460.8,392.2 461.3,392.8 461.8,393.4 462.3,394 462.8,394.5 463.3,395.1 463.8,395.7 464.3,396.2 464.8,396.8 465.3,397.3 465.8,397.8 466.3,398.3 466.8,398.9 467.3,399.4 467.8,399.8 468.3,400.3 468.8,400.8 469.3,401.2 469.8,401.7 470.3,402.1 470.8,402.5 471.3,403 471.8,403.4 472.3,403.8 472.8,404.2 473.3,404.5 473.8,404.9 474.3,405.3 474.8,405.6 475.3,405.9 475.8,406.3 476.3,406.6 476.8,406.9 477.3,407.2 477.8,407.5 478.3,407.8 478.8,408.1 479.3,408.4 479.8,408.7 480.3,408.9 480.8,409.2 481.3,409.4 481.8,409.7 482.3,409.9 482.8,410.1 483.3,410.3 483.8,410.6 484.3,410.8 484.8,411 485.3,411.2 485.8,411.4 486.3,411.5 486.8,411.7 487.3,411.9 487.8,412.1 488.3,412.2 488.8,412.4 489.3,412.6 489.8,412.7 490.3,412.9 490.8,413 491.3,413.1 491.8,413.3 492.3,413.4 492.8,413.5 493.3,413.7 493.8,413.8 494.3,413.9 494.8,414 495.3,414.1 495.8,414.3 496.3,414.4 496.8,414.5 497.3,414.6 497.8,414.7 498.3,414.8 498.8,414.9 499.3,415 499.8,415.1 500.3,415.1 500.8,415.2 501.3,415.3 501.8,415.4 502.3,415.5 502.8,415.6 503.3,415.6 503.8,415.7 504.3,415.8 504.8,415.9 505.3,415.9 505.8,416 506.3,416.1 506.8,416.1 507.3,416.2 507.8,416.3 508.3,416.3 508.8,416.4 509.3,416.4 509.8,416.5 510.3,416.6 510.8,416.6 511.3,416.7 511.8,416.7 512.3,416.8 512.8,416.8 513.3,416.9 513.8,416.9 514.3,417 514.8,417 515.3,417.1 515.8,417.1 516.3,417.2 516.8,417.2 517.3,417.3 517.8,417.3 518.3,417.4 518.8,417.4 519.3,417.5 519.8,417.5 520.3,417.6 520.8,417.6 521.3,417.6 521.8,417.7 522.3,417.7 522.8,417.8 523.3,417.8 523.8,417.8 524.3,417.9 524.8,417.9 525.3,417.9 525.8,418 526.3,418 526.8,418.1 527.3,418.1 527.8,418.1 528.3,418.2 528.8,418.2 529.3,418.2 529.8,418.3 530.3,418.3 530.8,418.3 531.3,418.4 531.8,418.4 532.3,418.4 532.8,418.4 533.3,418.5 533.8,418.5 534.3,418.5 534.8,418.6 535.3,418.6" fill="none" stroke="#33e6ff" stroke-width="1.2" stroke-linejoin="round" />
<polyline points="340,418.7 340.5,418.7 341,418.7 341.5,418.7 342,418.7 342.5,418.7 343,418.7 343.5,418.8 344,418.8 344.5,418.8 345,418.8 345.5,418.8 346,418.8 346.5,418.8 347,418.8 347.5,418.8 348,418.8 348.5,418.8 349,418.8 349.5,418.9 350,418.9 350.5,418.9 351,418.9 351.5,418.9 352,418.9 352.5,418.9 353,418.9 353.5,418.9 354,418.9 354.5,418.9 355,418.9 355.5,418.9 356,419 356.5,419 357,419 357.5,419 358,419 358.5,419 359,419 359.5,419 360,419 360.5,419 361,419 361.5,419 362,419 362.5,419.1 363,419.1 363.5,419.1 364,419.1 364.5,419.1 365,419.1 365.5,419.1 366,419.1 366.5,419.1 367,419.1 367.5,419.1 368,419.1 368.5,419.1 369,419.2 369.5,419.2 370,419.2 370.5,419.2 371,419.2 371.5,419.2 372,419.2 372.5,419.2 373,419.2 373.5,419.2 374,419.2 374.5,419.2 375,419.2 375.5,419.2 376,419.3 376.5,419.3 377,419.3 377.5,419.3 378,419.3 378.5,419.3 379,419.3 379.5,419.3 380,419.3 380.5,419.3 381,419.3 381.5,419.3 382,419.3 382.5,419.3 383,419.4 383.5,419.4 384,419.4 384.5,419.4 385,419.4 385.5,419.4 386,419.4 386.5,419.4 387,419.4 387.5,419.4 388,419.4 388.5,419.4 389,419.4 389.5,419.4 390,419.5 390.5,419.5 391,419.5 391.5,419.5 392,419.5 392.5,419.5 393,419.5 393.5,419.5 394,419.5 394.5,419.5 395,419.5 395.5,419.5 396,419.5 396.5,419.5 397,419.5 397.5,419.5 398,419.5 398.5,419.6 399,419.6 399.5,419.6 400,419.6 400.5,419.6 401,419.6 401.5,419.6 402,419.6 402.5,419.6 403,419.6 403.5,419.6 404,419.6 404.5,419.6 405,419.6 405.5,419.6 406,419.6 406.5,419.6 407,419.6 407.5,419.6 408,419.7 408.5,419.7 409,419.7 409.5,419.7 410,419.7 410.5,419.7 411,419.7 411.5,419.7 412,419.7 412.5,419.7 413,419.7 413.5,419.7 414,419.7 414.5,419.7 415,419.7 415.5,419.7 416,419.7 416.5,419.7 417,419.7 417.5,419.7 418,419.7 418.5,419.7 419,419.7 419.5,419.7 420,419.7 420.5,419.7 421,419.7 421.5,419.7 422,419.7 422.5,419.7 423,419.7 423.5,419.7 424,419.7 424.5,419.7 425,419.7 425.5,419.7 426,419.7 426.5,419.7 427,419.7 427.5,419.7 428,419.7 428.5,419.7 429,419.7 429.5,419.7 430,419.7 430.5,419.7 431,419.7 431.5,419.7 432,419.7 432.5,419.7 433,419.7 433.5,419.7 434,419.7 434.5,419.7 435,419.7 435.5,419.7 436,419.7 436.5,419.7 437,419.6 437.5,419.6 438,419.6 438.5,419.6 439,419.6 439.5,419.6 440,419.6 440.5,419.6 441,419.6 441.5,419.5 442,419.5 442.5,419.5 443,419.5 443.5,419.5 444,419.5 444.5,419.4 445,419.4 445.5,419.4 446,419.4 446.5,419.4 447,419.3 447.5,419.3 448,419.3 448.5,419.2 449,419.2 449.5,419.2 450,419.1 450.5,419.1 451,419.1 451.5,419 452,419 452.5,418.9 453,418.9 453.5,418.8 454,418.7 454.5,418.7 455,418.6 455.5,418.5 456,418.4 456.5,418.3 457,418.2 457.5,418.1 458,418 458.5,417.9 459,417.7 459.5,417.6 460,417.4 460.5,417.2 461,417 461.5,416.8 462,416.6 462.5,416.3 463,416 463.5,415.7 464,415.4 464.5,415.1 465,414.7 465.5,414.3 466,413.9 466.5,413.4 467,412.9 467.5,412.4 468,411.8 468.5,411.2 469,410.6 469.5,409.9 470,409.2 470.5,408.5 471,407.8 471.5,407 472,406.2 472.5,405.3 473,404.4 473.5,403.5 474,402.6 474.5,401.7 475,400.8 475.5,399.8 476,398.9 476.5,398 477,397.1 477.5,396.2 478,395.3 478.5,394.6 479,393.8 479.5,393.2 480,392.6 480.5,392.1 481,391.7 481.5,391.4 482,391.3 482.5,391.2 483,391.3 483.5,391.5 484,391.8 484.5,392.2 485,392.7 485.5,393.3 486,393.9 486.5,394.7 487,395.5 487.5,396.3 488,397.2 488.5,398.1 489,399 489.5,400 490,400.9 490.5,401.8 491,402.8 491.5,403.7 492,404.6 492.5,405.5 493,406.3 493.5,407.2 494,408 494.5,408.7 495,409.5 495.5,410.2 496,410.9 496.5,411.5 497,412.1 497.5,412.7 498,413.2 498.5,413.8 499,414.2 499.5,414.7 500,415.1 500.5,415.5 501,415.9 501.5,416.2 502,416.6 502.5,416.9 503,417.2 503.5,417.4 504,417.7 504.5,417.9 505,418.1 505.5,418.3 506,418.5 506.5,418.6 507,418.8 507.5,418.9 508,419 508.5,419.2 509,419.3 509.5,419.4 510,419.5 510.5,419.6 511,419.7 511.5,419.8 512,419.8 512.5,419.9 513,420 513.5,420 514,420.1 514.5,420.2 515,420.2 515.5,420.3 516,420.3 516.5,420.4 517,420.4 517.5,420.5 518,420.5 518.5,420.6 519,420.6 519.5,420.7 520,420.7 520.5,420.7 521,420.8 521.5,420.8 522,420.8 522.5,420.9 523,420.9 523.5,420.9 524,421 524.5,421 525,421 525.5,421.1 526,421.1 526.5,421.1 527,421.2 527.5,421.2 528,421.2 528.5,421.2 529,421.3 529.5,421.3 530,421.3 530.5,421.3 531,421.4 531.5,421.4 532,421.4 532.5,421.4 533,421.5 533.5,421.5 534,421.5 534.5,421.5 535,421.5 535.5,421.6" fill="none" stroke="#a8f2ff" stroke-width="1.2" stroke-linejoin="round" />
<polyline points="400,418.2 400.5,418.2 401,418.2 401.5,418.3 402,418.3 402.5,418.3 403,418.3 403.5,418.3 404,418.3 404.5,418.3 405,418.3 405.5,418.3 406,418.3 406.5,418.3 407,418.4 407.5,418.4 408,418.4 408.5,418.4 409,418.4 409.5,418.4 410,418.4 410.5,418.4 411,418.4 411.5,418.4 412,418.4 412.5,418.4 413,418.5 413.5,418.5 414,418.5 414.5,418.5 415,418.5 415.5,418.5 416,418.5 416.5,418.5 417,418.5 417.5,418.5 418,418.5 418.5,418.6 419,418.6 419.5,418.6 420,418.6 420.5,418.6 421,418.6 421.5,418.6 422,418.6 422.5,418.6 423,418.6 423.5,418.6 424,418.6 424.5,418.7 425,418.7 425.5,418.7 426,418.7 426.5,418.7 427,418.7 427.5,418.7 428,418.7 428.5,418.7 429,418.6 429.5,418.6 430,418.6 430.5,418.5 431,418.4 431.5,418.3 432,418.2 432.5,418 433,417.8 433.5,417.5 434,417.1 434.5,416.7 435,416.2 435.5,415.6 436,414.8 436.5,413.9 437,412.9 437.5,411.7 438,410.3 438.5,408.7 439,406.9 439.5,405 440,402.8 440.5,400.4 441,397.9 441.5,395.2 442,392.4 442.5,389.5 443,386.5 443.5,383.6 444,380.6 444.5,377.7 445,375 445.5,372.5 446,370.2 446.5,368.2 447,366.5 447.5,365.3 448,364.4 448.5,364 449,364 449.5,364.5 450,365.4 450.5,366.8 451,368.6 451.5,370.8 452,373.2 452.5,375.9 453,378.8 453.5,381.8 454,384.9 454.5,388.1 455,391.1 455.5,394.1 456,397 456.5,399.7 457,402.2 457.5,404.6 458,406.7 458.5,408.6 459,410.3 459.5,411.8 460,413.1 460.5,414.2 461,415.2 461.5,416 462,416.7 462.5,417.2 463,417.7 463.5,418.1 464,418.4 464.5,418.6 465,418.8 465.5,418.9 466,419.1 466.5,419.2 467,419.2 467.5,419.3 468,419.3 468.5,419.4 469,419.4 469.5,419.4 470,419.4 470.5,419.4 471,419.5 471.5,419.5 472,419.5 472.5,419.5 473,419.5 473.5,419.5 474,419.5 474.5,419.5 475,419.5 475.5,419.5 476,419.6 476.5,419.6 477,419.6 477.5,419.6 478,419.6 478.5,419.6 479,419.6 479.5,419.6 480,419.6 480.5,419.6 481,419.6 481.5,419.7 482,419.7 482.5,419.7 483,419.7 483.5,419.7 484,419.7 484.5,419.7 485,419.7 485.5,419.7 486,419.7 486.5,419.7 487,419.7 487.5,419.8 488,419.8 488.5,419.8 489,419.8 489.5,419.8 490,419.8 490.5,419.8 491,419.8 491.5,419.8 492,419.8 492.5,419.8 493,419.9 493.5,419.9 494,419.9 494.5,419.9 495,419.9 495.5,419.9 496,419.9 496.5,419.9 497,419.9 497.5,419.9 498,419.9 498.5,419.9 499,420 499.5,420 500,420 500.5,420 501,420 501.5,420 502,420 502.5,420 503,420 503.5,420 504,420 504.5,420.1 505,420.1 505.5,420.1 506,420.1 506.5,420.1 507,420.1 507.5,420.1 508,420.1 508.5,420.1 509,420.1 509.5,420.1 510,420.1 510.5,420.2 511,420.2 511.5,420.2 512,420.2 512.5,420.2 513,420.2 513.5,420.2 514,420.2 514.5,420.2 515,420.2 515.5,420.2 516,420.3 516.5,420.3 517,420.3 517.5,420.3 518,420.3 518.5,420.3 519,420.3 519.5,420.3 520,420.3 520.5,420.3 521,420.3 521.5,420.3 522,420.4 522.5,420.4 523,420.4 523.5,420.4 524,420.4 524.5,420.4 525,420.4 525.5,420.4 526,420.4 526.5,420.4 527,420.4 527.5,420.5 528,420.5 528.5,420.5 529,420.5 529.5,420.5 530,420.5 530.5,420.5 531,420.5 531.5,420.5 532,420.5 532.5,420.5 533,420.5 533.5,420.6 534,420.6 534.5,420.6 535,420.6 535.5,420.6" fill="none" stroke="#22a822" stroke-width="1.2" stroke-linejoin="round" />
<polyline points="440,418.8 440.5,418.8 441,418.8 441.5,418.8 442,418.8 442.5,418.8 443,418.8 443.5,418.8 444,418.8 444.5,418.8 445,418.8 445.5,418.9 446,418.9 446.5,418.9 447,418.9 447.5,418.9 448,418.9 448.5,418.9 449,418.9 449.5,418.9 450,418.9 450.5,418.9 451,418.9 451.5,418.9 452,418.9 452.5,418.9 453,418.9 453.5,418.9 454,418.9 454.5,418.9 455,418.9 455.5,418.9 456,418.9 456.5,418.9 457,418.9 457.5,418.9 458,418.9 458.5,418.9 459,418.9 459.5,418.9 460,418.9 460.5,418.9 461,418.9 461.5,418.9 462,418.9 462.5,418.9 463,418.9 463.5,418.9 464,418.9 464.5,418.8 465,418.8 465.5,418.8 466,418.8 466.5,418.8 467,418.8 467.5,418.8 468,418.7 468.5,418.7 469,418.7 469.5,418.7 470,418.6 470.5,418.6 471,418.6 471.5,418.5 472,418.5 472.5,418.5 473,418.4 473.5,418.4 474,418.3 474.5,418.2 475,418.2 475.5,418.1 476,418 476.5,417.9 477,417.8 477.5,417.6 478,417.5 478.5,417.3 479,417.1 479.5,416.9 480,416.5 480.5,416.1 481,415.6 481.5,415 482,414.1 482.5,413 483,411.5 483.5,409.6 484,407.2 484.5,404.3 485,400.8 485.5,396.6 486,391.9 486.5,386.5 487,380.7 487.5,374.6 488,368.5 488.5,362.6 489,357.5 489.5,353.4 490,350.9 490.5,350.2 491,351.4 491.5,354.2 492,358.5 492.5,363.8 493,369.7 493.5,375.8 494,381.8 494.5,387.5 495,392.7 495.5,397.4 496,401.4 496.5,404.8 497,407.7 497.5,410 498,411.8 498.5,413.3 499,414.4 499.5,415.3 500,416 500.5,416.5 501,416.9 501.5,417.2 502,417.5 502.5,417.7 503,417.9 503.5,418.1 504,418.2 504.5,418.4 505,418.5 505.5,418.6 506,418.7 506.5,418.8 507,418.9 507.5,418.9 508,419 508.5,419.1 509,419.1 509.5,419.2 510,419.2 510.5,419.3 511,419.3 511.5,419.4 512,419.4 512.5,419.5 513,419.5 513.5,419.6 514,419.6 514.5,419.6 515,419.7 515.5,419.7 516,419.7 516.5,419.7 517,419.8 517.5,419.8 518,419.8 518.5,419.8 519,419.9 519.5,419.9 520,419.9 520.5,419.9 521,420 521.5,420 522,420 522.5,420 523,420 523.5,420.1 524,420.1 524.5,420.1 525,420.1 525.5,420.1 526,420.1 526.5,420.2 527,420.2 527.5,420.2 528,420.2 528.5,420.2 529,420.2 529.5,420.3 530,420.3 530.5,420.3 531,420.3 531.5,420.3 532,420.3 532.5,420.3 533,420.4 533.5,420.4 534,420.4 534.5,420.4 535,420.4 535.5,420.4" fill="none" stroke="#22dd22" stroke-width="1.2" stroke-linejoin="round" />
<polyline points="440,418.9 440.5,418.9 441,418.9 441.5,418.9 442,418.9 442.5,418.9 443,418.9 443.5,418.9 444,419 444.5,419 445,419 445.5,419 446,419 446.5,419 447,419 447.5,419 448,419 448.5,419 449,419 449.5,419 450,419 450.5,419.1 451,419.1 451.5,419.1 452,419.1 452.5,419.1 453,419.1 453.5,419.1 454,419.1 454.5,419.1 455,419.1 455.5,419.1 456,419.1 456.5,419.1 457,419.1 457.5,419.2 458,419.2 458.5,419.2 459,419.2 459.5,419.2 460,419.2 460.5,419.2 461,419.2 461.5,419.2 462,419.2 462.5,419.2 463,419.2 463.5,419.2 464,419.2 464.5,419.2 465,419.2 465.5,419.2 466,419.2 466.5,419.3 467,419.3 467.5,419.3 468,419.3 468.5,419.3 469,419.3 469.5,419.3 470,419.3 470.5,419.3 471,419.3 471.5,419.3 472,419.3 472.5,419.3 473,419.3 473.5,419.3 474,419.3 474.5,419.3 475,419.3 475.5,419.3 476,419.3 476.5,419.3 477,419.2 477.5,419.2 478,419.2 478.5,419.2 479,419.2 479.5,419.2 480,419.2 480.5,419.2 481,419.1 481.5,419.1 482,419.1 482.5,419 483,419 483.5,418.9 484,418.9 484.5,418.8 485,418.6 485.5,418.4 486,418.1 486.5,417.7 487,417.1 487.5,416.2 488,415 488.5,413.4 489,411.2 489.5,408.4 490,404.9 490.5,400.5 491,395.3 491.5,389.2 492,382.4 492.5,375 493,367.2 493.5,359.5 494,352.1 494.5,345.6 495,340.3 495.5,336.6 496,334.8 496.5,335.1 497,337.1 497.5,340.7 498,345.6 498.5,351.6 499,358.3 499.5,365.3 500,372.4 500.5,379.3 501,385.9 501.5,391.8 502,397.1 502.5,401.7 503,405.6 503.5,408.8 504,411.4 504.5,413.4 505,415 505.5,416.2 506,417.1 506.5,417.8 507,418.2 507.5,418.6 508,418.9 508.5,419 509,419.2 509.5,419.3 510,419.4 510.5,419.5 511,419.5 511.5,419.6 512,419.6 512.5,419.7 513,419.7 513.5,419.7 514,419.8 514.5,419.8 515,419.8 515.5,419.9 516,419.9 516.5,419.9 517,419.9 517.5,420 518,420 518.5,420 519,420 519.5,420 520,420.1 520.5,420.1 521,420.1 521.5,420.1 522,420.1 522.5,420.2 523,420.2 523.5,420.2 524,420.2 524.5,420.2 525,420.2 525.5,420.2 526,420.3 526.5,420.3 527,420.3 527.5,420.3 528,420.3 528.5,420.3 529,420.3 529.5,420.4 530,420.4 530.5,420.4 531,420.4 531.5,420.4 532,420.4 532.5,420.4 533,420.4 533.5,420.4 534,420.5 534.5,420.5 535,420.5 535.5,420.5" fill="none" stroke="#8833cc" stroke-width="1.2" stroke-linejoin="round" />
<polyline points="312,397.1 314.5,395.2 317.6,397.7 321.5,405.4 324.6,407.7 327.2,404.7 330.4,406.6 333.5,407.3 334.8,405.4 337.4,406 339,410.2 342.5,409.8 346.3,407.9 348.8,408.9 350.7,406.6 352,409.8 355.2,406 356.5,409.2 359.6,408.2 363.5,408.5 368.5,410.5 370,404.3 371.4,402.6 372.8,400.2 374.2,402.7 375.6,396.9 377,398.2 378.4,398.9 379.8,393.3 381.2,394.5 382.6,393.6 384,389.5 385.4,390.3 386.8,391.1 388.2,389.1 389.6,390 391,386.7 392.4,387.1 393.8,386.8 395.2,389.7 396.6,392.9 398,392.5 399.4,394.7 400.8,394 402.2,397.1 403.6,394.8 405,396.5 406.4,399 407.8,399.4 409.2,397.6 410.6,395.3 412,395.4 413.4,393.8 414.8,392.6 416.2,393.4 417.6,388 419,389 420.4,386.1 421.8,378.6 423.2,376.8 424.6,373.7 426,367.3 427.4,365.3 428.8,362.5 430.2,356.5 431.6,353.7 433,349 434.4,346.8 435.8,344.7 437.2,340.2 438.6,337.5 440,335.8 441.4,334.2 442.8,329 444.2,324 445.6,319.6 447,316.5 448.4,314.1 449.8,316.8 451.2,325 452.6,335.1 454,349.2 455.4,360.7 456.8,372.2 458.2,380.9 459.6,384.2 461,389 462.4,391.5 463.8,392 465.2,393.4 466.6,395.9 468,396.3 469.4,394.2 470.8,395.1 472.2,394.5 473.6,391.1 475,389.7 476.4,385.5 477.8,382.8 479.2,379.2 480.6,373.4 482,365.9 483.4,353.7 484.8,341.5 486.2,328.5 487.6,313.2 489,298.8 490.4,284.6 491.8,277.8 493.2,273.3 494.6,272.6 496,287.1 497.4,306.1 498.8,329.8 500.2,352.7 501.6,373.2 503,387.7 504.4,396.7 505.8,403.6 507.2,405.4 508.6,408.9 510,408.2 511.4,411 512.8,411.8 514.2,411.7 515.6,412.8 517,412.3 518.4,414 519.8,413.7 521.2,413.7 522.6,415.8 524,414.8 525.4,415.1 526.8,416.6 528.2,415.7 529.6,416.6 531,415.6 532.4,417.5 533.8,416.2 535.2,415.9" fill="none" stroke="#111" stroke-width="1.2" stroke-linejoin="round" />
<polyline points="312.3,413.8 312.8,413.8 313.3,413.8 313.8,413.8 314.3,413.8 314.8,413.8 315.3,413.8 315.8,413.8 316.3,413.8 316.8,413.8 317.3,413.8 317.8,413.8 318.3,413.8 318.8,413.8 319.3,413.8 319.8,413.8 320.3,413.8 320.8,413.8 321.3,413.8 321.8,413.8 322.3,413.8 322.8,413.8 323.3,413.8 323.8,413.8 324.3,413.8 324.8,413.8 325.3,413.8 325.8,413.8 326.3,413.8 326.8,413.8 327.3,413.8 327.8,413.8 328.3,413.8 328.8,413.8 329.3,413.8 329.8,413.8 330.3,413.8 330.8,413.8 331.3,413.8 331.8,413.8 332.3,413.8 332.8,413.8 333.3,413.8 333.8,413.7 334.3,413.7 334.8,413.7 335.3,413.7 335.8,413.7 336.3,413.7 336.8,413.7 337.3,413.7 337.8,413.7 338.3,413.7 338.8,413.7 339.3,413.6 339.8,413.6 340.3,413.6 340.8,413.6 341.3,413.6 341.8,413.6 342.3,413.5 342.8,413.5 343.3,413.5 343.8,413.5 344.3,413.4 344.8,413.4 345.3,413.4 345.8,413.3 346.3,413.3 346.8,413.2 347.3,413.2 347.8,413.2 348.3,413.1 348.8,413.1 349.3,413 349.8,412.9 350.3,412.9 350.8,412.8 351.3,412.7 351.8,412.7 352.3,412.6 352.8,412.5 353.3,412.4 353.8,412.3 354.3,412.2 354.8,412.1 355.3,411.9 355.8,411.8 356.3,411.7 356.8,411.5 357.3,411.4 357.8,411.2 358.3,411.1 358.8,410.9 359.3,410.7 359.8,410.5 360.3,410.3 360.8,410.1 361.3,409.9 361.8,409.7 362.3,409.4 362.8,409.2 363.3,408.9 363.8,408.7 364.3,408.4 364.8,408.1 365.3,407.8 365.8,407.5 366.3,407.2 366.8,406.8 367.3,406.5 367.8,406.1 368.3,405.8 368.8,405.4 369.3,405 369.8,404.6 370.3,404.2 370.8,403.8 371.3,403.4 371.8,402.9 372.3,402.5 372.8,402.1 373.3,401.6 373.8,401.2 374.3,400.7 374.8,400.2 375.3,399.8 375.8,399.3 376.3,398.8 376.8,398.3 377.3,397.9 377.8,397.4 378.3,396.9 378.8,396.4 379.3,396 379.8,395.5 380.3,395 380.8,394.6 381.3,394.1 381.8,393.7 382.3,393.3 382.8,392.9 383.3,392.5 383.8,392.1 384.3,391.7 384.8,391.3 385.3,391 385.8,390.7 386.3,390.4 386.8,390.1 387.3,389.8 387.8,389.5 388.3,389.3 388.8,389.1 389.3,388.9 389.8,388.8 390.3,388.6 390.8,388.5 391.3,388.4 391.8,388.4 392.3,388.4 392.8,388.5 393.3,388.7 393.8,388.9 394.3,389.1 394.8,389.4 395.3,389.7 395.8,390.1 396.3,390.5 396.8,390.9 397.3,391.3 397.8,391.8 398.3,392.3 398.8,392.7 399.3,393.2 399.8,393.7 400.3,394.2 400.8,394.6 401.3,395.1 401.8,395.5 402.3,395.9 402.8,396.3 403.3,396.6 403.8,396.9 404.3,397.2 404.8,397.5 405.3,397.7 405.8,397.9 406.3,398 406.8,398.1 407.3,398.2 407.8,398.2 408.3,398.2 408.8,398.1 409.3,398 409.8,397.8 410.3,397.6 410.8,397.4 411.3,397.1 411.8,396.7 412.3,396.3 412.8,395.9 413.3,395.4 413.8,394.9 414.3,394.4 414.8,393.8 415.3,393.1 415.8,392.4 416.3,391.7 416.8,390.9 417.3,390.1 417.8,389.2 418.3,388.3 418.8,387.4 419.3,386.4 419.8,385.4 420.3,384.3 420.8,383.2 421.3,382.1 421.8,380.9 422.3,379.7 422.8,378.4 423.3,377.2 423.8,375.9 424.3,374.5 424.8,373.1 425.3,371.8 425.8,370.3 426.3,368.9 426.8,367.4 427.3,366 427.8,364.5 428.3,363 428.8,361.5 429.3,360.1 429.8,358.6 430.3,357.1 430.8,355.7 431.3,354.3 431.8,353 432.3,351.7 432.8,350.4 433.3,349.2 433.8,348 434.3,346.9 434.8,345.8 435.3,344.7 435.8,343.7 436.3,342.7 436.8,341.7 437.3,340.7 437.8,339.9 438.3,339.1 438.8,338.4 439.3,337.8 439.8,337.1 440.3,336.3 440.8,335.4 441.3,334.4 441.8,333.1 442.3,331.7 442.8,330.1 443.3,328.4 443.8,326.5 444.3,324.6 444.8,322.6 445.3,320.7 445.8,318.9 446.3,317.2 446.8,315.9 447.3,314.9 447.8,314.3 448.3,314.2 448.8,314.6 449.3,315.5 449.8,317.1 450.3,319.2 450.8,322 451.3,325.4 451.8,329.2 452.3,333.4 452.8,337.9 453.3,342.5 453.8,347.2 454.3,351.8 454.8,356.3 455.3,360.7 455.8,364.7 456.3,368.5 456.8,371.9 457.3,375 457.8,377.8 458.3,380.3 458.8,382.4 459.3,384.3 459.8,385.9 460.3,387.2 460.8,388.4 461.3,389.4 461.8,390.3 462.3,391.1 462.8,391.7 463.3,392.3 463.8,392.8 464.3,393.3 464.8,393.7 465.3,394 465.8,394.3 466.3,394.6 466.8,394.8 467.3,395 467.8,395.1 468.3,395.2 468.8,395.2 469.3,395.1 469.8,395 470.3,394.8 470.8,394.6 471.3,394.2 471.8,393.8 472.3,393.3 472.8,392.8 473.3,392.2 473.8,391.5 474.3,390.7 474.8,389.8 475.3,388.9 475.8,387.9 476.3,386.8 476.8,385.7 477.3,384.5 477.8,383.1 478.3,381.7 478.8,380.1 479.3,378.4 479.8,376.6 480.3,374.5 480.8,372.2 481.3,369.5 481.8,366.5 482.3,363.2 482.8,359.5 483.3,355.5 483.8,351.2 484.3,346.7 484.8,341.9 485.3,336.9 485.8,331.7 486.3,326.5 486.8,321.3 487.3,316.1 487.8,311 488.3,305.9 488.8,300.9 489.3,296 489.8,291 490.3,285.8 490.8,281.5 491.3,278.6 491.8,276.7 492.3,275.2 492.8,274 493.3,273 493.8,272.5 494.3,272.9 494.8,274.7 495.3,278.4 495.8,283.9 496.3,290.3 496.8,297.3 497.3,304.9 497.8,313 498.3,321.4 498.8,329.9 499.3,338.5 499.8,346.9 500.3,354.9 500.8,362.5 501.3,369.5 501.8,375.8 502.3,381.4 502.8,386.3 503.3,390.6 503.8,394.2 504.3,397.1 504.8,399.6 505.3,401.6 505.8,403.3 506.3,404.6 506.8,405.7 507.3,406.6 507.8,407.3 508.3,407.9 508.8,408.4 509.3,408.8 509.8,409.2 510.3,409.6 510.8,409.9 511.3,410.2 511.8,410.5 512.3,410.8 512.8,411 513.3,411.3 513.8,411.5 514.3,411.8 514.8,412 515.3,412.2 515.8,412.4 516.3,412.6 516.8,412.8 517.3,413 517.8,413.2 518.3,413.4 518.8,413.6 519.3,413.7 519.8,413.9 520.3,414 520.8,414.2 521.3,414.3 521.8,414.5 522.3,414.6 522.8,414.8 523.3,414.9 523.8,415 524.3,415.1 524.8,415.3 525.3,415.4 525.8,415.5 526.3,415.6 526.8,415.7 527.3,415.8 527.8,415.9 528.3,416 528.8,416.1 529.3,416.2 529.8,416.2 530.3,416.3 530.8,416.4 531.3,416.5 531.8,416.6 532.3,416.6 532.8,416.7 533.3,416.8 533.8,416.8 534.3,416.9 534.8,416.9 535.3,417" fill="none" stroke="#ff0000" stroke-width="1.4" stroke-linejoin="round" />
<g fill="#fff" stroke="#ff0000" stroke-width="1.05"><circle cx="312.3" cy="413.8" r="1.5"/><circle cx="313.7" cy="413.8" r="1.5"/><circle cx="315.1" cy="413.8" r="1.5"/><circle cx="316.5" cy="413.8" r="1.5"/><circle cx="317.9" cy="413.8" r="1.5"/><circle cx="319.3" cy="413.8" r="1.5"/><circle cx="320.7" cy="413.8" r="1.5"/><circle cx="322.1" cy="413.8" r="1.5"/><circle cx="323.5" cy="413.8" r="1.5"/><circle cx="324.9" cy="413.8" r="1.5"/><circle cx="326.3" cy="413.8" r="1.5"/><circle cx="327.7" cy="413.8" r="1.5"/><circle cx="329.1" cy="413.8" r="1.5"/><circle cx="330.5" cy="413.8" r="1.5"/><circle cx="331.9" cy="413.8" r="1.5"/><circle cx="333.3" cy="413.8" r="1.5"/><circle cx="334.7" cy="413.7" r="1.5"/><circle cx="336.1" cy="413.7" r="1.5"/><circle cx="337.5" cy="413.7" r="1.5"/><circle cx="338.9" cy="413.6" r="1.5"/><circle cx="340.3" cy="413.6" r="1.5"/><circle cx="341.7" cy="413.6" r="1.5"/><circle cx="343.1" cy="413.5" r="1.5"/><circle cx="344.5" cy="413.4" r="1.5"/><circle cx="345.9" cy="413.3" r="1.5"/><circle cx="347.3" cy="413.2" r="1.5"/><circle cx="348.7" cy="413.1" r="1.5"/><circle cx="350.1" cy="412.9" r="1.5"/><circle cx="351.5" cy="412.7" r="1.5"/><circle cx="352.9" cy="412.5" r="1.5"/><circle cx="354.3" cy="412.2" r="1.5"/><circle cx="355.7" cy="411.8" r="1.5"/><circle cx="357.1" cy="411.5" r="1.5"/><circle cx="358.5" cy="411" r="1.5"/><circle cx="359.9" cy="410.5" r="1.5"/><circle cx="361.3" cy="409.9" r="1.5"/><circle cx="362.7" cy="409.2" r="1.5"/><circle cx="364.1" cy="408.5" r="1.5"/><circle cx="365.5" cy="407.7" r="1.5"/><circle cx="366.9" cy="406.8" r="1.5"/><circle cx="368.3" cy="405.8" r="1.5"/><circle cx="369.7" cy="404.7" r="1.5"/><circle cx="371.1" cy="403.5" r="1.5"/><circle cx="372.5" cy="402.3" r="1.5"/><circle cx="373.9" cy="401.1" r="1.5"/><circle cx="375.3" cy="399.8" r="1.5"/><circle cx="376.7" cy="398.4" r="1.5"/><circle cx="378.1" cy="397.1" r="1.5"/><circle cx="379.5" cy="395.8" r="1.5"/><circle cx="380.9" cy="394.5" r="1.5"/><circle cx="382.3" cy="393.3" r="1.5"/><circle cx="383.7" cy="392.2" r="1.5"/><circle cx="385.1" cy="391.1" r="1.5"/><circle cx="386.5" cy="390.2" r="1.5"/><circle cx="387.9" cy="389.5" r="1.5"/><circle cx="389.3" cy="388.9" r="1.5"/><circle cx="390.7" cy="388.5" r="1.5"/><circle cx="392.1" cy="388.4" r="1.5"/><circle cx="393.5" cy="388.7" r="1.5"/><circle cx="394.9" cy="389.5" r="1.5"/><circle cx="396.3" cy="390.5" r="1.5"/><circle cx="397.7" cy="391.7" r="1.5"/><circle cx="399.1" cy="393" r="1.5"/><circle cx="400.5" cy="394.4" r="1.5"/><circle cx="401.9" cy="395.6" r="1.5"/><circle cx="403.3" cy="396.6" r="1.5"/><circle cx="404.7" cy="397.4" r="1.5"/><circle cx="406.1" cy="398" r="1.5"/><circle cx="407.5" cy="398.2" r="1.5"/><circle cx="408.9" cy="398.1" r="1.5"/><circle cx="410.3" cy="397.6" r="1.5"/><circle cx="411.7" cy="396.8" r="1.5"/><circle cx="413.1" cy="395.6" r="1.5"/><circle cx="414.5" cy="394.1" r="1.5"/><circle cx="415.9" cy="392.3" r="1.5"/><circle cx="417.3" cy="390.1" r="1.5"/><circle cx="418.7" cy="387.6" r="1.5"/><circle cx="420.1" cy="384.7" r="1.5"/><circle cx="421.5" cy="381.6" r="1.5"/><circle cx="422.9" cy="378.2" r="1.5"/><circle cx="424.3" cy="374.5" r="1.5"/><circle cx="425.7" cy="370.6" r="1.5"/><circle cx="427.1" cy="366.6" r="1.5"/><circle cx="428.5" cy="362.4" r="1.5"/><circle cx="429.9" cy="358.3" r="1.5"/><circle cx="431.3" cy="354.3" r="1.5"/><circle cx="432.7" cy="350.6" r="1.5"/><circle cx="434.1" cy="347.3" r="1.5"/><circle cx="435.5" cy="344.3" r="1.5"/><circle cx="436.9" cy="341.5" r="1.5"/><circle cx="438.3" cy="339.1" r="1.5"/><circle cx="439.7" cy="337.2" r="1.5"/><circle cx="441.1" cy="334.8" r="1.5"/><circle cx="442.5" cy="331.1" r="1.5"/><circle cx="443.9" cy="326.1" r="1.5"/><circle cx="445.3" cy="320.7" r="1.5"/><circle cx="446.7" cy="316.2" r="1.5"/><circle cx="448.1" cy="314.2" r="1.5"/><circle cx="449.5" cy="316" r="1.5"/><circle cx="450.9" cy="322.7" r="1.5"/><circle cx="452.3" cy="333.4" r="1.5"/><circle cx="453.7" cy="346.2" r="1.5"/><circle cx="455.1" cy="359" r="1.5"/><circle cx="456.5" cy="369.9" r="1.5"/><circle cx="457.9" cy="378.3" r="1.5"/><circle cx="459.3" cy="384.3" r="1.5"/><circle cx="460.7" cy="388.2" r="1.5"/><circle cx="462.1" cy="390.8" r="1.5"/><circle cx="463.5" cy="392.5" r="1.5"/><circle cx="464.9" cy="393.8" r="1.5"/><circle cx="466.3" cy="394.6" r="1.5"/><circle cx="467.7" cy="395.1" r="1.5"/><circle cx="469.1" cy="395.2" r="1.5"/><circle cx="470.5" cy="394.7" r="1.5"/><circle cx="471.9" cy="393.7" r="1.5"/><circle cx="473.3" cy="392.2" r="1.5"/><circle cx="474.7" cy="390" r="1.5"/><circle cx="476.1" cy="387.3" r="1.5"/><circle cx="477.5" cy="383.9" r="1.5"/><circle cx="478.9" cy="379.8" r="1.5"/><circle cx="480.3" cy="374.5" r="1.5"/><circle cx="481.7" cy="367.1" r="1.5"/><circle cx="483.1" cy="357.2" r="1.5"/><circle cx="484.5" cy="344.8" r="1.5"/><circle cx="485.9" cy="330.7" r="1.5"/><circle cx="487.3" cy="316.1" r="1.5"/><circle cx="488.7" cy="301.9" r="1.5"/><circle cx="490.1" cy="287.9" r="1.5"/><circle cx="491.5" cy="277.7" r="1.5"/><circle cx="492.9" cy="273.7" r="1.5"/><circle cx="494.3" cy="272.9" r="1.5"/><circle cx="495.7" cy="282.7" r="1.5"/><circle cx="497.1" cy="301.8" r="1.5"/><circle cx="498.5" cy="324.8" r="1.5"/><circle cx="499.9" cy="348.5" r="1.5"/><circle cx="501.3" cy="369.5" r="1.5"/><circle cx="502.7" cy="385.4" r="1.5"/><circle cx="504.1" cy="396" r="1.5"/><circle cx="505.5" cy="402.3" r="1.5"/><circle cx="506.9" cy="405.9" r="1.5"/><circle cx="508.3" cy="407.9" r="1.5"/><circle cx="509.7" cy="409.2" r="1.5"/><circle cx="511.1" cy="410.1" r="1.5"/><circle cx="512.5" cy="410.9" r="1.5"/><circle cx="513.9" cy="411.6" r="1.5"/><circle cx="515.3" cy="412.2" r="1.5"/><circle cx="516.7" cy="412.8" r="1.5"/><circle cx="518.1" cy="413.3" r="1.5"/><circle cx="519.5" cy="413.8" r="1.5"/><circle cx="520.9" cy="414.2" r="1.5"/><circle cx="522.3" cy="414.6" r="1.5"/><circle cx="523.7" cy="415" r="1.5"/><circle cx="525.1" cy="415.3" r="1.5"/><circle cx="526.5" cy="415.6" r="1.5"/><circle cx="527.9" cy="415.9" r="1.5"/><circle cx="529.3" cy="416.2" r="1.5"/><circle cx="530.7" cy="416.4" r="1.5"/><circle cx="532.1" cy="416.6" r="1.5"/><circle cx="533.5" cy="416.8" r="1.5"/><circle cx="534.9" cy="417" r="1.5"/></g>
<text x="366.9" y="363.3" font-size="10.5" text-anchor="start" font-weight="bold" >Mo-O</text>
<line x1="391.1" y1="364.6" x2="389.2" y2="391.8" stroke="#111" stroke-width="1.0"/>
<line x1="393.5" y1="364.6" x2="423.4" y2="404.9" stroke="#111" stroke-width="1.0"/>
<text x="415.6" y="321.5" font-size="10.5" text-anchor="start" font-weight="bold" >Mo-C</text>
<line x1="422.6" y1="323.2" x2="437.5" y2="377.7" stroke="#111" stroke-width="1.0"/>
<line x1="422.6" y1="323.2" x2="483.1" y2="389.8" stroke="#111" stroke-width="1.0"/>
<text x="509.6" y="361.6" font-size="10.5" text-anchor="start" font-weight="bold" >Mo-S</text>
<line x1="507.9" y1="359.6" x2="451.3" y2="369.8" stroke="#111" stroke-width="1.0"/>
<line x1="507.5" y1="360.5" x2="495.5" y2="383.2" stroke="#111" stroke-width="1.0"/>
<text x="506.3" y="328.9" font-size="10.5" text-anchor="start" font-weight="bold" >Mo</text>
<line x1="518.5" y1="329.2" x2="497.9" y2="336.4" stroke="#111" stroke-width="1.0"/>
</svg>
</body></html>
